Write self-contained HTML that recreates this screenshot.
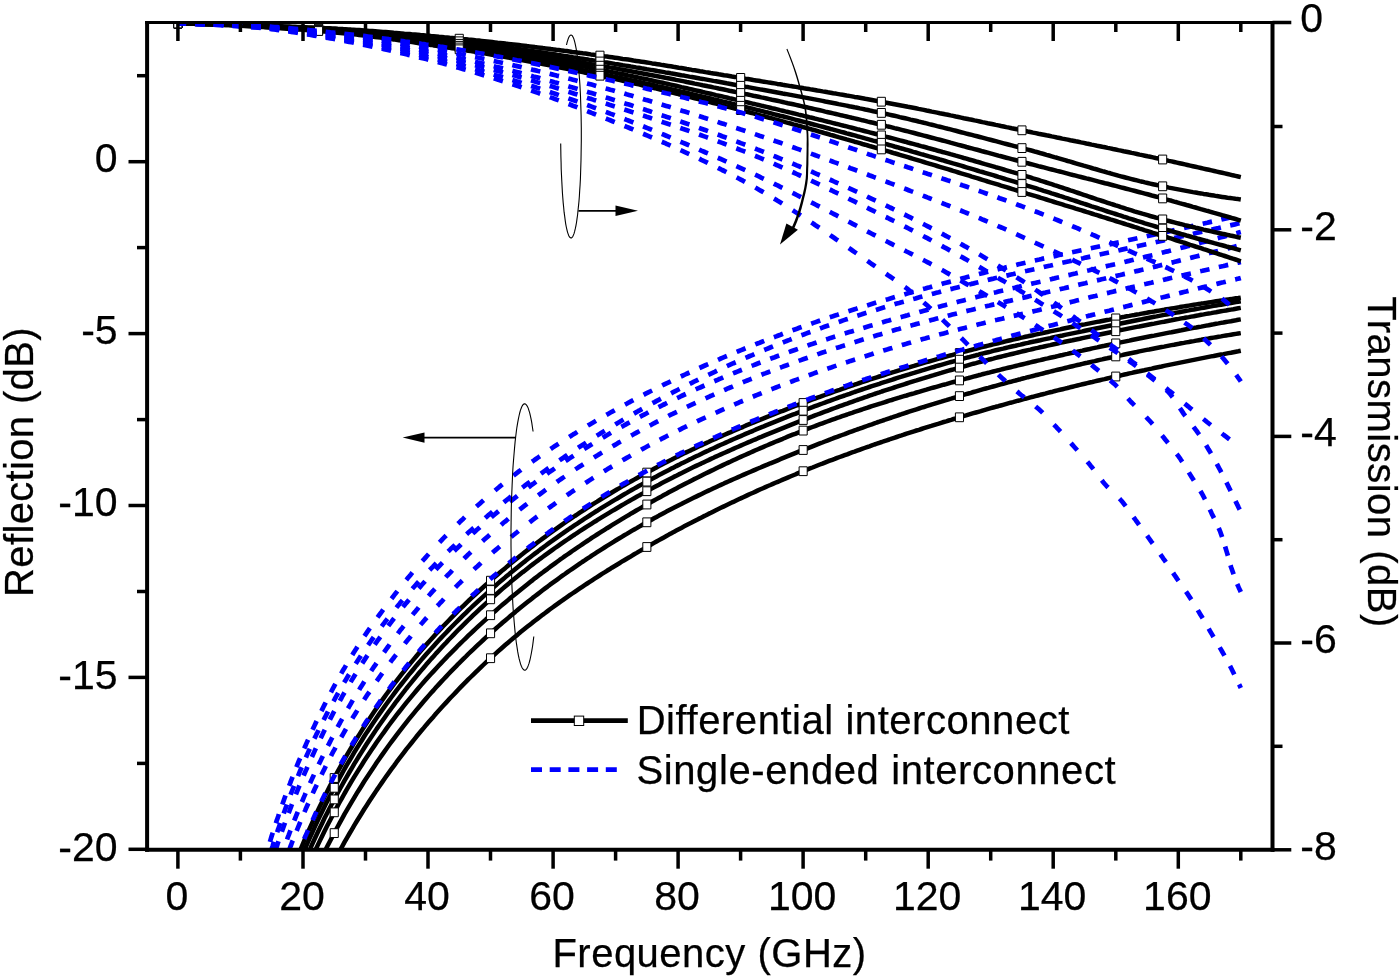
<!DOCTYPE html>
<html lang="en"><head><meta charset="utf-8"><title>Reflection and transmission of differential and single-ended interconnects</title>
<style>html,body{margin:0;padding:0;background:#fff}svg{display:block}</style></head>
<body>
<svg role="img" aria-label="Reflection and transmission versus frequency for differential and single-ended interconnects" width="1400" height="979" viewBox="0 0 1400 979">
<defs><clipPath id="c"><rect x="147.1" y="21.0" width="1125.4" height="828.8"/></clipPath></defs>
<rect width="1400" height="979" fill="#fff"/>
<g clip-path="url(#c)" fill="none" stroke-linejoin="round">
<g stroke="#000" stroke-width="4.5">
<path d="M252.9 995.3 L255.4 985.7 L257.9 976.3 L260.4 967.3 L262.8 958.5 L265.3 949.9 L267.8 941.6 L270.3 933.6 L272.7 925.7 L275.2 918.1 L277.7 910.6 L280.2 903.3 L282.6 896.2 L285.1 889.3 L287.6 882.6 L290.1 875.9 L292.5 869.5 L295.0 863.2 L297.5 857.0 L300.0 850.9 L302.4 845.0 L304.9 839.2 L307.4 833.4 L309.9 827.9 L312.4 822.4 L314.8 817.0 L317.3 811.7 L319.8 806.5 L322.3 801.4 L324.7 796.4 L327.2 791.5 L329.7 786.6 L332.2 781.9 L334.6 777.2 L337.1 772.6 L339.6 768.1 L342.1 763.6 L344.5 759.2 L347.0 754.9 L349.5 750.7 L352.0 746.5 L354.4 742.4 L356.9 738.3 L359.4 734.4 L361.9 730.4 L364.3 726.5 L366.8 722.7 L369.3 719.0 L371.8 715.3 L374.3 711.6 L376.7 708.0 L379.2 704.4 L381.7 700.9 L384.2 697.4 L386.6 694.0 L389.1 690.7 L391.6 687.3 L394.1 684.0 L396.5 680.8 L399.0 677.6 L401.5 674.4 L404.0 671.3 L406.4 668.2 L408.9 665.1 L411.4 662.1 L413.9 659.1 L416.3 656.2 L418.8 653.3 L421.3 650.4 L423.8 647.5 L426.2 644.7 L428.7 641.9 L431.2 639.2 L433.7 636.4 L436.1 633.7 L438.6 631.1 L441.1 628.4 L443.6 625.8 L446.1 623.2 L448.5 620.7 L451.0 618.1 L453.5 615.6 L456.0 613.1 L458.4 610.7 L460.9 608.2 L463.4 605.8 L465.9 603.4 L468.3 601.0 L470.8 598.7 L473.3 596.4 L475.8 594.1 L478.2 591.8 L480.7 589.5 L483.2 587.3 L485.7 585.0 L488.1 582.8 L490.6 580.6 L493.1 578.4 L495.6 576.3 L498.0 574.2 L500.5 572.0 L503.0 569.9 L505.5 567.9 L508.0 565.8 L510.4 563.7 L512.9 561.7 L515.4 559.7 L517.9 557.7 L520.3 555.7 L522.8 553.8 L525.3 551.8 L527.8 549.9 L530.2 548.0 L532.7 546.1 L535.2 544.2 L537.7 542.3 L540.1 540.5 L542.6 538.6 L545.1 536.8 L547.6 535.0 L550.0 533.2 L552.5 531.4 L555.0 529.7 L557.5 527.9 L559.9 526.2 L562.4 524.4 L564.9 522.7 L567.4 521.0 L569.8 519.3 L572.3 517.7 L574.8 516.0 L577.3 514.4 L579.8 512.7 L582.2 511.1 L584.7 509.5 L587.2 507.9 L589.7 506.3 L592.1 504.7 L594.6 503.1 L597.1 501.6 L599.6 500.0 L602.0 498.5 L604.5 497.0 L607.0 495.5 L609.5 494.0 L611.9 492.5 L614.4 491.0 L616.9 489.5 L619.4 488.1 L621.8 486.6 L624.3 485.2 L626.8 483.8 L629.3 482.4 L631.7 481.0 L634.2 479.6 L636.7 478.2 L639.2 476.8 L641.7 475.4 L644.1 474.1 L646.6 472.7 L649.1 471.4 L651.6 470.1 L654.0 468.7 L656.5 467.4 L659.0 466.1 L661.5 464.8 L663.9 463.6 L666.4 462.3 L668.9 461.0 L671.4 459.8 L673.8 458.5 L676.3 457.3 L678.8 456.1 L681.3 454.8 L683.7 453.6 L686.2 452.4 L688.7 451.2 L691.2 450.1 L693.6 448.9 L696.1 447.7 L698.6 446.5 L701.1 445.4 L703.5 444.2 L706.0 443.1 L708.5 442.0 L711.0 440.8 L713.5 439.7 L715.9 438.6 L718.4 437.5 L720.9 436.4 L723.4 435.3 L725.8 434.2 L728.3 433.1 L730.8 432.1 L733.3 431.0 L735.7 429.9 L738.2 428.9 L740.7 427.8 L743.2 426.8 L745.6 425.7 L748.1 424.7 L750.6 423.7 L753.1 422.7 L755.5 421.6 L758.0 420.6 L760.5 419.6 L763.0 418.6 L765.4 417.6 L767.9 416.6 L770.4 415.6 L772.9 414.7 L775.4 413.7 L777.8 412.7 L780.3 411.7 L782.8 410.8 L785.3 409.8 L787.7 408.9 L790.2 407.9 L792.7 407.0 L795.2 406.0 L797.6 405.1 L800.1 404.1 L802.6 403.2 L805.1 402.3 L807.5 401.4 L810.0 400.4 L812.5 399.5 L815.0 398.6 L817.4 397.7 L819.9 396.8 L822.4 395.9 L824.9 395.0 L827.3 394.1 L829.8 393.3 L832.3 392.4 L834.8 391.5 L837.2 390.6 L839.7 389.8 L842.2 388.9 L844.7 388.1 L847.2 387.2 L849.6 386.4 L852.1 385.5 L854.6 384.7 L857.1 383.8 L859.5 383.0 L862.0 382.2 L864.5 381.4 L867.0 380.6 L869.4 379.7 L871.9 378.9 L874.4 378.1 L876.9 377.3 L879.3 376.5 L881.8 375.8 L884.3 375.0 L886.8 374.2 L889.2 373.4 L891.7 372.6 L894.2 371.9 L896.7 371.1 L899.1 370.3 L901.6 369.6 L904.1 368.8 L906.6 368.1 L909.1 367.3 L911.5 366.6 L914.0 365.9 L916.5 365.1 L919.0 364.4 L921.4 363.7 L923.9 362.9 L926.4 362.2 L928.9 361.5 L931.3 360.8 L933.8 360.1 L936.3 359.4 L938.8 358.7 L941.2 358.0 L943.7 357.3 L946.2 356.6 L948.7 355.9 L951.1 355.3 L953.6 354.6 L956.1 353.9 L958.6 353.2 L961.0 352.6 L963.5 351.9 L966.0 351.3 L968.5 350.6 L970.9 350.0 L973.4 349.3 L975.9 348.7 L978.4 348.1 L980.9 347.4 L983.3 346.8 L985.8 346.2 L988.3 345.6 L990.8 345.0 L993.2 344.4 L995.7 343.8 L998.2 343.2 L1000.7 342.6 L1003.1 342.0 L1005.6 341.4 L1008.1 340.8 L1010.6 340.2 L1013.0 339.6 L1015.5 339.1 L1018.0 338.5 L1020.5 337.9 L1022.9 337.4 L1025.4 336.8 L1027.9 336.3 L1030.4 335.7 L1032.8 335.2 L1035.3 334.6 L1037.8 334.1 L1040.3 333.6 L1042.8 333.0 L1045.2 332.5 L1047.7 332.0 L1050.2 331.4 L1052.7 330.9 L1055.1 330.4 L1057.6 329.9 L1060.1 329.4 L1062.6 328.8 L1065.0 328.3 L1067.5 327.8 L1070.0 327.3 L1072.5 326.8 L1074.9 326.3 L1077.4 325.8 L1079.9 325.3 L1082.4 324.8 L1084.8 324.4 L1087.3 323.9 L1089.8 323.4 L1092.3 322.9 L1094.7 322.4 L1097.2 321.9 L1099.7 321.5 L1102.2 321.0 L1104.6 320.5 L1107.1 320.0 L1109.6 319.6 L1112.1 319.1 L1114.6 318.6 L1117.0 318.2 L1119.5 317.7 L1122.0 317.2 L1124.5 316.8 L1126.9 316.3 L1129.4 315.9 L1131.9 315.4 L1134.4 315.0 L1136.8 314.5 L1139.3 314.1 L1141.8 313.6 L1144.3 313.2 L1146.7 312.8 L1149.2 312.3 L1151.7 311.9 L1154.2 311.5 L1156.6 311.0 L1159.1 310.6 L1161.6 310.2 L1164.1 309.8 L1166.5 309.3 L1169.0 308.9 L1171.5 308.5 L1174.0 308.1 L1176.5 307.7 L1178.9 307.3 L1181.4 306.8 L1183.9 306.4 L1186.4 306.0 L1188.8 305.6 L1191.3 305.2 L1193.8 304.8 L1196.3 304.4 L1198.7 304.0 L1201.2 303.6 L1203.7 303.3 L1206.2 302.9 L1208.6 302.5 L1211.1 302.1 L1213.6 301.7 L1216.1 301.3 L1218.5 300.9 L1221.0 300.6 L1223.5 300.2 L1226.0 299.8 L1228.4 299.4 L1230.9 299.1 L1233.4 298.7 L1235.9 298.3 L1238.3 298.0 L1240.8 297.6"/>
<path d="M252.9 1005.3 L255.4 995.6 L257.9 986.2 L260.4 977.2 L262.8 968.4 L265.3 959.8 L267.8 951.5 L270.3 943.5 L272.7 935.6 L275.2 928.0 L277.7 920.5 L280.2 913.2 L282.6 906.1 L285.1 899.2 L287.6 892.4 L290.1 885.8 L292.5 879.4 L295.0 873.0 L297.5 866.8 L300.0 860.8 L302.4 854.8 L304.9 849.0 L307.4 843.3 L309.9 837.7 L312.4 832.2 L314.8 826.8 L317.3 821.5 L319.8 816.3 L322.3 811.2 L324.7 806.2 L327.2 801.3 L329.7 796.5 L332.2 791.7 L334.6 787.0 L337.1 782.4 L339.6 777.9 L342.1 773.4 L344.5 769.0 L347.0 764.7 L349.5 760.5 L352.0 756.3 L354.4 752.2 L356.9 748.1 L359.4 744.1 L361.9 740.2 L364.3 736.3 L366.8 732.4 L369.3 728.7 L371.8 725.0 L374.3 721.3 L376.7 717.7 L379.2 714.1 L381.7 710.6 L384.2 707.1 L386.6 703.7 L389.1 700.3 L391.6 697.0 L394.1 693.7 L396.5 690.4 L399.0 687.2 L401.5 684.0 L404.0 680.9 L406.4 677.8 L408.9 674.7 L411.4 671.7 L413.9 668.7 L416.3 665.7 L418.8 662.8 L421.3 659.9 L423.8 657.0 L426.2 654.2 L428.7 651.4 L431.2 648.7 L433.7 645.9 L436.1 643.2 L438.6 640.5 L441.1 637.9 L443.6 635.3 L446.1 632.7 L448.5 630.1 L451.0 627.5 L453.5 625.0 L456.0 622.5 L458.4 620.1 L460.9 617.6 L463.4 615.2 L465.9 612.8 L468.3 610.4 L470.8 608.0 L473.3 605.7 L475.8 603.4 L478.2 601.1 L480.7 598.8 L483.2 596.6 L485.7 594.3 L488.1 592.1 L490.6 589.9 L493.1 587.7 L495.6 585.6 L498.0 583.4 L500.5 581.3 L503.0 579.2 L505.5 577.1 L508.0 575.1 L510.4 573.0 L512.9 571.0 L515.4 569.0 L517.9 567.0 L520.3 565.0 L522.8 563.0 L525.3 561.1 L527.8 559.1 L530.2 557.2 L532.7 555.3 L535.2 553.4 L537.7 551.6 L540.1 549.7 L542.6 547.9 L545.1 546.0 L547.6 544.2 L550.0 542.4 L552.5 540.7 L555.0 538.9 L557.5 537.1 L559.9 535.4 L562.4 533.7 L564.9 531.9 L567.4 530.2 L569.8 528.5 L572.3 526.9 L574.8 525.2 L577.3 523.6 L579.8 521.9 L582.2 520.3 L584.7 518.7 L587.2 517.1 L589.7 515.5 L592.1 513.9 L594.6 512.3 L597.1 510.8 L599.6 509.2 L602.0 507.7 L604.5 506.1 L607.0 504.6 L609.5 503.1 L611.9 501.6 L614.4 500.1 L616.9 498.7 L619.4 497.2 L621.8 495.8 L624.3 494.3 L626.8 492.9 L629.3 491.4 L631.7 490.0 L634.2 488.6 L636.7 487.2 L639.2 485.8 L641.7 484.5 L644.1 483.1 L646.6 481.7 L649.1 480.4 L651.6 479.0 L654.0 477.7 L656.5 476.4 L659.0 475.1 L661.5 473.8 L663.9 472.5 L666.4 471.2 L668.9 469.9 L671.4 468.6 L673.8 467.4 L676.3 466.1 L678.8 464.9 L681.3 463.6 L683.7 462.4 L686.2 461.2 L688.7 459.9 L691.2 458.7 L693.6 457.5 L696.1 456.3 L698.6 455.2 L701.1 454.0 L703.5 452.8 L706.0 451.6 L708.5 450.5 L711.0 449.3 L713.5 448.2 L715.9 447.1 L718.4 445.9 L720.9 444.8 L723.4 443.7 L725.8 442.6 L728.3 441.5 L730.8 440.4 L733.3 439.3 L735.7 438.2 L738.2 437.1 L740.7 436.1 L743.2 435.0 L745.6 433.9 L748.1 432.9 L750.6 431.8 L753.1 430.8 L755.5 429.7 L758.0 428.7 L760.5 427.7 L763.0 426.7 L765.4 425.6 L767.9 424.6 L770.4 423.6 L772.9 422.6 L775.4 421.6 L777.8 420.6 L780.3 419.6 L782.8 418.6 L785.3 417.7 L787.7 416.7 L790.2 415.7 L792.7 414.7 L795.2 413.8 L797.6 412.8 L800.1 411.9 L802.6 410.9 L805.1 410.0 L807.5 409.0 L810.0 408.1 L812.5 407.2 L815.0 406.2 L817.4 405.3 L819.9 404.4 L822.4 403.5 L824.9 402.6 L827.3 401.7 L829.8 400.8 L832.3 399.9 L834.8 399.0 L837.2 398.1 L839.7 397.2 L842.2 396.3 L844.7 395.5 L847.2 394.6 L849.6 393.8 L852.1 392.9 L854.6 392.0 L857.1 391.2 L859.5 390.3 L862.0 389.5 L864.5 388.7 L867.0 387.8 L869.4 387.0 L871.9 386.2 L874.4 385.4 L876.9 384.6 L879.3 383.8 L881.8 382.9 L884.3 382.1 L886.8 381.4 L889.2 380.6 L891.7 379.8 L894.2 379.0 L896.7 378.2 L899.1 377.4 L901.6 376.7 L904.1 375.9 L906.6 375.1 L909.1 374.4 L911.5 373.6 L914.0 372.9 L916.5 372.1 L919.0 371.4 L921.4 370.6 L923.9 369.9 L926.4 369.1 L928.9 368.4 L931.3 367.7 L933.8 367.0 L936.3 366.2 L938.8 365.5 L941.2 364.8 L943.7 364.1 L946.2 363.4 L948.7 362.7 L951.1 362.0 L953.6 361.3 L956.1 360.6 L958.6 359.9 L961.0 359.3 L963.5 358.6 L966.0 357.9 L968.5 357.3 L970.9 356.6 L973.4 356.0 L975.9 355.3 L978.4 354.7 L980.9 354.0 L983.3 353.4 L985.8 352.8 L988.3 352.2 L990.8 351.6 L993.2 350.9 L995.7 350.3 L998.2 349.7 L1000.7 349.1 L1003.1 348.6 L1005.6 348.0 L1008.1 347.4 L1010.6 346.8 L1013.0 346.2 L1015.5 345.7 L1018.0 345.1 L1020.5 344.6 L1022.9 344.0 L1025.4 343.4 L1027.9 342.9 L1030.4 342.3 L1032.8 341.8 L1035.3 341.3 L1037.8 340.7 L1040.3 340.2 L1042.8 339.6 L1045.2 339.1 L1047.7 338.6 L1050.2 338.1 L1052.7 337.5 L1055.1 337.0 L1057.6 336.5 L1060.1 336.0 L1062.6 335.5 L1065.0 334.9 L1067.5 334.4 L1070.0 333.9 L1072.5 333.4 L1074.9 332.9 L1077.4 332.4 L1079.9 331.9 L1082.4 331.4 L1084.8 330.8 L1087.3 330.3 L1089.8 329.8 L1092.3 329.3 L1094.7 328.8 L1097.2 328.3 L1099.7 327.8 L1102.2 327.3 L1104.6 326.8 L1107.1 326.3 L1109.6 325.8 L1112.1 325.3 L1114.6 324.8 L1117.0 324.2 L1119.5 323.7 L1122.0 323.2 L1124.5 322.7 L1126.9 322.2 L1129.4 321.7 L1131.9 321.2 L1134.4 320.7 L1136.8 320.2 L1139.3 319.7 L1141.8 319.3 L1144.3 318.8 L1146.7 318.3 L1149.2 317.8 L1151.7 317.3 L1154.2 316.8 L1156.6 316.4 L1159.1 315.9 L1161.6 315.4 L1164.1 314.9 L1166.5 314.5 L1169.0 314.0 L1171.5 313.5 L1174.0 313.1 L1176.5 312.6 L1178.9 312.2 L1181.4 311.7 L1183.9 311.3 L1186.4 310.8 L1188.8 310.4 L1191.3 309.9 L1193.8 309.5 L1196.3 309.0 L1198.7 308.6 L1201.2 308.1 L1203.7 307.7 L1206.2 307.2 L1208.6 306.8 L1211.1 306.4 L1213.6 305.9 L1216.1 305.5 L1218.5 305.1 L1221.0 304.7 L1223.5 304.2 L1226.0 303.8 L1228.4 303.4 L1230.9 303.0 L1233.4 302.5 L1235.9 302.1 L1238.3 301.7 L1240.8 301.3"/>
<path d="M252.9 1017.0 L255.4 1007.3 L257.9 998.0 L260.4 988.9 L262.8 980.1 L265.3 971.5 L267.8 963.2 L270.3 955.2 L272.7 947.3 L275.2 939.6 L277.7 932.2 L280.2 924.9 L282.6 917.8 L285.1 910.9 L287.6 904.1 L290.1 897.5 L292.5 891.0 L295.0 884.7 L297.5 878.5 L300.0 872.4 L302.4 866.5 L304.9 860.7 L307.4 854.9 L309.9 849.3 L312.4 843.8 L314.8 838.5 L317.3 833.2 L319.8 828.0 L322.3 822.9 L324.7 817.8 L327.2 812.9 L329.7 808.1 L332.2 803.3 L334.6 798.6 L337.1 794.0 L339.6 789.5 L342.1 785.0 L344.5 780.6 L347.0 776.3 L349.5 772.0 L352.0 767.8 L354.4 763.6 L356.9 759.6 L359.4 755.5 L361.9 751.6 L364.3 747.7 L366.8 743.8 L369.3 740.0 L371.8 736.3 L374.3 732.6 L376.7 728.9 L379.2 725.3 L381.7 721.7 L384.2 718.2 L386.6 714.8 L389.1 711.3 L391.6 708.0 L394.1 704.6 L396.5 701.3 L399.0 698.1 L401.5 694.8 L404.0 691.7 L406.4 688.5 L408.9 685.4 L411.4 682.3 L413.9 679.3 L416.3 676.3 L418.8 673.3 L421.3 670.4 L423.8 667.5 L426.2 664.6 L428.7 661.8 L431.2 658.9 L433.7 656.2 L436.1 653.4 L438.6 650.7 L441.1 648.0 L443.6 645.3 L446.1 642.7 L448.5 640.0 L451.0 637.5 L453.5 634.9 L456.0 632.3 L458.4 629.8 L460.9 627.3 L463.4 624.9 L465.9 622.4 L468.3 620.0 L470.8 617.6 L473.3 615.2 L475.8 612.9 L478.2 610.6 L480.7 608.2 L483.2 606.0 L485.7 603.7 L488.1 601.4 L490.6 599.2 L493.1 597.0 L495.6 594.8 L498.0 592.7 L500.5 590.5 L503.0 588.4 L505.5 586.3 L508.0 584.2 L510.4 582.1 L512.9 580.1 L515.4 578.1 L517.9 576.1 L520.3 574.1 L522.8 572.1 L525.3 570.2 L527.8 568.2 L530.2 566.3 L532.7 564.4 L535.2 562.5 L537.7 560.7 L540.1 558.8 L542.6 557.0 L545.1 555.2 L547.6 553.4 L550.0 551.6 L552.5 549.8 L555.0 548.0 L557.5 546.3 L559.9 544.6 L562.4 542.9 L564.9 541.2 L567.4 539.5 L569.8 537.8 L572.3 536.1 L574.8 534.5 L577.3 532.8 L579.8 531.2 L582.2 529.6 L584.7 528.0 L587.2 526.4 L589.7 524.8 L592.1 523.3 L594.6 521.7 L597.1 520.2 L599.6 518.6 L602.0 517.1 L604.5 515.6 L607.0 514.1 L609.5 512.6 L611.9 511.1 L614.4 509.7 L616.9 508.2 L619.4 506.7 L621.8 505.3 L624.3 503.9 L626.8 502.4 L629.3 501.0 L631.7 499.6 L634.2 498.2 L636.7 496.8 L639.2 495.4 L641.7 494.1 L644.1 492.7 L646.6 491.3 L649.1 490.0 L651.6 488.6 L654.0 487.3 L656.5 486.0 L659.0 484.7 L661.5 483.3 L663.9 482.1 L666.4 480.8 L668.9 479.5 L671.4 478.2 L673.8 476.9 L676.3 475.7 L678.8 474.4 L681.3 473.2 L683.7 472.0 L686.2 470.7 L688.7 469.5 L691.2 468.3 L693.6 467.1 L696.1 465.9 L698.6 464.7 L701.1 463.6 L703.5 462.4 L706.0 461.2 L708.5 460.1 L711.0 458.9 L713.5 457.8 L715.9 456.6 L718.4 455.5 L720.9 454.4 L723.4 453.3 L725.8 452.2 L728.3 451.1 L730.8 450.0 L733.3 448.9 L735.7 447.8 L738.2 446.7 L740.7 445.6 L743.2 444.5 L745.6 443.5 L748.1 442.4 L750.6 441.4 L753.1 440.3 L755.5 439.3 L758.0 438.2 L760.5 437.2 L763.0 436.1 L765.4 435.1 L767.9 434.1 L770.4 433.1 L772.9 432.1 L775.4 431.1 L777.8 430.1 L780.3 429.1 L782.8 428.1 L785.3 427.1 L787.7 426.1 L790.2 425.1 L792.7 424.1 L795.2 423.1 L797.6 422.2 L800.1 421.2 L802.6 420.2 L805.1 419.3 L807.5 418.3 L810.0 417.3 L812.5 416.4 L815.0 415.4 L817.4 414.5 L819.9 413.6 L822.4 412.6 L824.9 411.7 L827.3 410.8 L829.8 409.9 L832.3 408.9 L834.8 408.0 L837.2 407.1 L839.7 406.2 L842.2 405.3 L844.7 404.4 L847.2 403.6 L849.6 402.7 L852.1 401.8 L854.6 400.9 L857.1 400.0 L859.5 399.2 L862.0 398.3 L864.5 397.4 L867.0 396.6 L869.4 395.7 L871.9 394.9 L874.4 394.0 L876.9 393.2 L879.3 392.4 L881.8 391.5 L884.3 390.7 L886.8 389.9 L889.2 389.1 L891.7 388.3 L894.2 387.5 L896.7 386.7 L899.1 385.9 L901.6 385.1 L904.1 384.3 L906.6 383.5 L909.1 382.7 L911.5 381.9 L914.0 381.1 L916.5 380.4 L919.0 379.6 L921.4 378.8 L923.9 378.1 L926.4 377.3 L928.9 376.6 L931.3 375.8 L933.8 375.1 L936.3 374.3 L938.8 373.6 L941.2 372.9 L943.7 372.1 L946.2 371.4 L948.7 370.7 L951.1 370.0 L953.6 369.3 L956.1 368.6 L958.6 367.9 L961.0 367.2 L963.5 366.5 L966.0 365.8 L968.5 365.1 L970.9 364.4 L973.4 363.7 L975.9 363.1 L978.4 362.4 L980.9 361.8 L983.3 361.1 L985.8 360.5 L988.3 359.8 L990.8 359.2 L993.2 358.6 L995.7 357.9 L998.2 357.3 L1000.7 356.7 L1003.1 356.1 L1005.6 355.5 L1008.1 354.9 L1010.6 354.3 L1013.0 353.7 L1015.5 353.1 L1018.0 352.5 L1020.5 351.9 L1022.9 351.3 L1025.4 350.7 L1027.9 350.1 L1030.4 349.6 L1032.8 349.0 L1035.3 348.4 L1037.8 347.9 L1040.3 347.3 L1042.8 346.8 L1045.2 346.2 L1047.7 345.6 L1050.2 345.1 L1052.7 344.5 L1055.1 344.0 L1057.6 343.5 L1060.1 342.9 L1062.6 342.4 L1065.0 341.8 L1067.5 341.3 L1070.0 340.8 L1072.5 340.3 L1074.9 339.7 L1077.4 339.2 L1079.9 338.7 L1082.4 338.1 L1084.8 337.6 L1087.3 337.1 L1089.8 336.6 L1092.3 336.1 L1094.7 335.6 L1097.2 335.0 L1099.7 334.5 L1102.2 334.0 L1104.6 333.5 L1107.1 333.0 L1109.6 332.5 L1112.1 332.0 L1114.6 331.5 L1117.0 330.9 L1119.5 330.4 L1122.0 329.9 L1124.5 329.4 L1126.9 328.9 L1129.4 328.4 L1131.9 327.9 L1134.4 327.4 L1136.8 326.9 L1139.3 326.5 L1141.8 326.0 L1144.3 325.5 L1146.7 325.0 L1149.2 324.5 L1151.7 324.0 L1154.2 323.6 L1156.6 323.1 L1159.1 322.6 L1161.6 322.1 L1164.1 321.7 L1166.5 321.2 L1169.0 320.7 L1171.5 320.3 L1174.0 319.8 L1176.5 319.3 L1178.9 318.9 L1181.4 318.4 L1183.9 318.0 L1186.4 317.5 L1188.8 317.1 L1191.3 316.6 L1193.8 316.2 L1196.3 315.7 L1198.7 315.3 L1201.2 314.8 L1203.7 314.4 L1206.2 313.9 L1208.6 313.5 L1211.1 313.1 L1213.6 312.6 L1216.1 312.2 L1218.5 311.7 L1221.0 311.3 L1223.5 310.9 L1226.0 310.5 L1228.4 310.0 L1230.9 309.6 L1233.4 309.2 L1235.9 308.7 L1238.3 308.3 L1240.8 307.9"/>
<path d="M252.9 1030.0 L255.4 1020.4 L257.9 1011.0 L260.4 1001.9 L262.8 993.1 L265.3 984.6 L267.8 976.3 L270.3 968.2 L272.7 960.3 L275.2 952.7 L277.7 945.2 L280.2 937.9 L282.6 930.8 L285.1 923.9 L287.6 917.1 L290.1 910.5 L292.5 904.0 L295.0 897.7 L297.5 891.5 L300.0 885.4 L302.4 879.5 L304.9 873.6 L307.4 867.9 L309.9 862.3 L312.4 856.8 L314.8 851.4 L317.3 846.1 L319.8 840.9 L322.3 835.8 L324.7 830.8 L327.2 825.8 L329.7 821.0 L332.2 816.2 L334.6 811.5 L337.1 806.9 L339.6 802.3 L342.1 797.9 L344.5 793.5 L347.0 789.2 L349.5 784.9 L352.0 780.7 L354.4 776.6 L356.9 772.6 L359.4 768.6 L361.9 764.7 L364.3 760.8 L366.8 757.0 L369.3 753.2 L371.8 749.5 L374.3 745.9 L376.7 742.3 L379.2 738.7 L381.7 735.2 L384.2 731.8 L386.6 728.4 L389.1 725.0 L391.6 721.7 L394.1 718.4 L396.5 715.2 L399.0 712.0 L401.5 708.8 L404.0 705.7 L406.4 702.6 L408.9 699.6 L411.4 696.6 L413.9 693.6 L416.3 690.7 L418.8 687.8 L421.3 684.9 L423.8 682.1 L426.2 679.3 L428.7 676.5 L431.2 673.8 L433.7 671.1 L436.1 668.4 L438.6 665.7 L441.1 663.1 L443.6 660.5 L446.1 657.9 L448.5 655.3 L451.0 652.8 L453.5 650.3 L456.0 647.8 L458.4 645.3 L460.9 642.9 L463.4 640.5 L465.9 638.1 L468.3 635.7 L470.8 633.3 L473.3 631.0 L475.8 628.7 L478.2 626.4 L480.7 624.1 L483.2 621.8 L485.7 619.6 L488.1 617.3 L490.6 615.1 L493.1 612.9 L495.6 610.7 L498.0 608.6 L500.5 606.4 L503.0 604.3 L505.5 602.2 L508.0 600.1 L510.4 598.0 L512.9 595.9 L515.4 593.9 L517.9 591.9 L520.3 589.9 L522.8 587.9 L525.3 585.9 L527.8 583.9 L530.2 582.0 L532.7 580.1 L535.2 578.1 L537.7 576.2 L540.1 574.3 L542.6 572.5 L545.1 570.6 L547.6 568.8 L550.0 566.9 L552.5 565.1 L555.0 563.3 L557.5 561.5 L559.9 559.7 L562.4 558.0 L564.9 556.2 L567.4 554.5 L569.8 552.8 L572.3 551.0 L574.8 549.3 L577.3 547.7 L579.8 546.0 L582.2 544.3 L584.7 542.6 L587.2 541.0 L589.7 539.4 L592.1 537.7 L594.6 536.1 L597.1 534.5 L599.6 532.9 L602.0 531.4 L604.5 529.8 L607.0 528.2 L609.5 526.7 L611.9 525.2 L614.4 523.6 L616.9 522.1 L619.4 520.6 L621.8 519.1 L624.3 517.6 L626.8 516.1 L629.3 514.7 L631.7 513.2 L634.2 511.8 L636.7 510.3 L639.2 508.9 L641.7 507.5 L644.1 506.0 L646.6 504.6 L649.1 503.2 L651.6 501.8 L654.0 500.5 L656.5 499.1 L659.0 497.7 L661.5 496.4 L663.9 495.0 L666.4 493.7 L668.9 492.3 L671.4 491.0 L673.8 489.7 L676.3 488.4 L678.8 487.1 L681.3 485.8 L683.7 484.5 L686.2 483.2 L688.7 482.0 L691.2 480.7 L693.6 479.4 L696.1 478.2 L698.6 477.0 L701.1 475.7 L703.5 474.5 L706.0 473.3 L708.5 472.1 L711.0 470.9 L713.5 469.7 L715.9 468.5 L718.4 467.3 L720.9 466.1 L723.4 464.9 L725.8 463.8 L728.3 462.6 L730.8 461.5 L733.3 460.3 L735.7 459.2 L738.2 458.0 L740.7 456.9 L743.2 455.8 L745.6 454.7 L748.1 453.6 L750.6 452.5 L753.1 451.4 L755.5 450.3 L758.0 449.2 L760.5 448.1 L763.0 447.1 L765.4 446.0 L767.9 445.0 L770.4 443.9 L772.9 442.9 L775.4 441.8 L777.8 440.8 L780.3 439.8 L782.8 438.8 L785.3 437.7 L787.7 436.7 L790.2 435.7 L792.7 434.7 L795.2 433.8 L797.6 432.8 L800.1 431.8 L802.6 430.8 L805.1 429.9 L807.5 428.9 L810.0 427.9 L812.5 427.0 L815.0 426.1 L817.4 425.1 L819.9 424.2 L822.4 423.3 L824.9 422.4 L827.3 421.5 L829.8 420.6 L832.3 419.7 L834.8 418.8 L837.2 417.9 L839.7 417.1 L842.2 416.2 L844.7 415.3 L847.2 414.5 L849.6 413.6 L852.1 412.8 L854.6 411.9 L857.1 411.1 L859.5 410.3 L862.0 409.5 L864.5 408.6 L867.0 407.8 L869.4 407.0 L871.9 406.2 L874.4 405.4 L876.9 404.6 L879.3 403.8 L881.8 403.1 L884.3 402.3 L886.8 401.5 L889.2 400.7 L891.7 400.0 L894.2 399.2 L896.7 398.4 L899.1 397.7 L901.6 396.9 L904.1 396.2 L906.6 395.5 L909.1 394.7 L911.5 394.0 L914.0 393.3 L916.5 392.5 L919.0 391.8 L921.4 391.1 L923.9 390.4 L926.4 389.7 L928.9 388.9 L931.3 388.2 L933.8 387.5 L936.3 386.8 L938.8 386.1 L941.2 385.4 L943.7 384.7 L946.2 384.1 L948.7 383.4 L951.1 382.7 L953.6 382.0 L956.1 381.3 L958.6 380.6 L961.0 380.0 L963.5 379.3 L966.0 378.6 L968.5 378.0 L970.9 377.3 L973.4 376.6 L975.9 376.0 L978.4 375.3 L980.9 374.7 L983.3 374.0 L985.8 373.4 L988.3 372.8 L990.8 372.1 L993.2 371.5 L995.7 370.9 L998.2 370.3 L1000.7 369.6 L1003.1 369.0 L1005.6 368.4 L1008.1 367.8 L1010.6 367.2 L1013.0 366.6 L1015.5 366.0 L1018.0 365.4 L1020.5 364.8 L1022.9 364.2 L1025.4 363.6 L1027.9 363.0 L1030.4 362.4 L1032.8 361.8 L1035.3 361.2 L1037.8 360.6 L1040.3 360.1 L1042.8 359.5 L1045.2 358.9 L1047.7 358.4 L1050.2 357.8 L1052.7 357.2 L1055.1 356.7 L1057.6 356.1 L1060.1 355.5 L1062.6 355.0 L1065.0 354.4 L1067.5 353.9 L1070.0 353.3 L1072.5 352.8 L1074.9 352.2 L1077.4 351.7 L1079.9 351.1 L1082.4 350.6 L1084.8 350.0 L1087.3 349.5 L1089.8 349.0 L1092.3 348.4 L1094.7 347.9 L1097.2 347.4 L1099.7 346.8 L1102.2 346.3 L1104.6 345.8 L1107.1 345.2 L1109.6 344.7 L1112.1 344.2 L1114.6 343.7 L1117.0 343.1 L1119.5 342.6 L1122.0 342.1 L1124.5 341.6 L1126.9 341.1 L1129.4 340.6 L1131.9 340.0 L1134.4 339.5 L1136.8 339.0 L1139.3 338.5 L1141.8 338.0 L1144.3 337.5 L1146.7 337.0 L1149.2 336.5 L1151.7 336.0 L1154.2 335.6 L1156.6 335.1 L1159.1 334.6 L1161.6 334.1 L1164.1 333.6 L1166.5 333.1 L1169.0 332.6 L1171.5 332.2 L1174.0 331.7 L1176.5 331.2 L1178.9 330.7 L1181.4 330.3 L1183.9 329.8 L1186.4 329.3 L1188.8 328.9 L1191.3 328.4 L1193.8 327.9 L1196.3 327.5 L1198.7 327.0 L1201.2 326.6 L1203.7 326.1 L1206.2 325.6 L1208.6 325.2 L1211.1 324.7 L1213.6 324.3 L1216.1 323.8 L1218.5 323.4 L1221.0 322.9 L1223.5 322.5 L1226.0 322.0 L1228.4 321.6 L1230.9 321.2 L1233.4 320.7 L1235.9 320.3 L1238.3 319.8 L1240.8 319.4"/>
<path d="M252.9 1051.0 L255.4 1041.3 L257.9 1032.0 L260.4 1022.9 L262.8 1014.1 L265.3 1005.5 L267.8 997.2 L270.3 989.1 L272.7 981.3 L275.2 973.6 L277.7 966.1 L280.2 958.9 L282.6 951.8 L285.1 944.8 L287.6 938.0 L290.1 931.4 L292.5 924.9 L295.0 918.6 L297.5 912.4 L300.0 906.3 L302.4 900.3 L304.9 894.5 L307.4 888.8 L309.9 883.2 L312.4 877.7 L314.8 872.3 L317.3 867.0 L319.8 861.7 L322.3 856.6 L324.7 851.6 L327.2 846.6 L329.7 841.8 L332.2 837.0 L334.6 832.3 L337.1 827.7 L339.6 823.1 L342.1 818.6 L344.5 814.2 L347.0 809.9 L349.5 805.6 L352.0 801.4 L354.4 797.3 L356.9 793.2 L359.4 789.2 L361.9 785.2 L364.3 781.3 L366.8 777.5 L369.3 773.7 L371.8 769.9 L374.3 766.2 L376.7 762.6 L379.2 759.0 L381.7 755.4 L384.2 751.9 L386.6 748.5 L389.1 745.0 L391.6 741.7 L394.1 738.3 L396.5 735.1 L399.0 731.8 L401.5 728.6 L404.0 725.4 L406.4 722.3 L408.9 719.2 L411.4 716.1 L413.9 713.1 L416.3 710.1 L418.8 707.2 L421.3 704.2 L423.8 701.3 L426.2 698.5 L428.7 695.6 L431.2 692.8 L433.7 690.1 L436.1 687.3 L438.6 684.6 L441.1 681.9 L443.6 679.3 L446.1 676.6 L448.5 674.0 L451.0 671.4 L453.5 668.9 L456.0 666.4 L458.4 663.8 L460.9 661.4 L463.4 658.9 L465.9 656.5 L468.3 654.0 L470.8 651.6 L473.3 649.3 L475.8 646.9 L478.2 644.6 L480.7 642.3 L483.2 640.0 L485.7 637.7 L488.1 635.5 L490.6 633.2 L493.1 631.0 L495.6 628.8 L498.0 626.6 L500.5 624.5 L503.0 622.3 L505.5 620.2 L508.0 618.1 L510.4 616.0 L512.9 613.9 L515.4 611.9 L517.9 609.8 L520.3 607.8 L522.8 605.8 L525.3 603.8 L527.8 601.8 L530.2 599.9 L532.7 597.9 L535.2 596.0 L537.7 594.1 L540.1 592.2 L542.6 590.3 L545.1 588.4 L547.6 586.6 L550.0 584.7 L552.5 582.9 L555.0 581.1 L557.5 579.3 L559.9 577.5 L562.4 575.7 L564.9 574.0 L567.4 572.2 L569.8 570.5 L572.3 568.8 L574.8 567.1 L577.3 565.4 L579.8 563.7 L582.2 562.0 L584.7 560.4 L587.2 558.7 L589.7 557.1 L592.1 555.4 L594.6 553.8 L597.1 552.2 L599.6 550.6 L602.0 549.1 L604.5 547.5 L607.0 545.9 L609.5 544.4 L611.9 542.9 L614.4 541.3 L616.9 539.8 L619.4 538.3 L621.8 536.8 L624.3 535.3 L626.8 533.9 L629.3 532.4 L631.7 530.9 L634.2 529.5 L636.7 528.1 L639.2 526.6 L641.7 525.2 L644.1 523.8 L646.6 522.4 L649.1 521.0 L651.6 519.7 L654.0 518.3 L656.5 517.0 L659.0 515.6 L661.5 514.3 L663.9 513.0 L666.4 511.6 L668.9 510.3 L671.4 509.0 L673.8 507.8 L676.3 506.5 L678.8 505.2 L681.3 504.0 L683.7 502.7 L686.2 501.5 L688.7 500.2 L691.2 499.0 L693.6 497.8 L696.1 496.6 L698.6 495.4 L701.1 494.2 L703.5 493.0 L706.0 491.8 L708.5 490.6 L711.0 489.5 L713.5 488.3 L715.9 487.2 L718.4 486.0 L720.9 484.9 L723.4 483.8 L725.8 482.6 L728.3 481.5 L730.8 480.4 L733.3 479.3 L735.7 478.2 L738.2 477.1 L740.7 476.0 L743.2 474.9 L745.6 473.9 L748.1 472.8 L750.6 471.7 L753.1 470.6 L755.5 469.6 L758.0 468.5 L760.5 467.5 L763.0 466.4 L765.4 465.4 L767.9 464.4 L770.4 463.3 L772.9 462.3 L775.4 461.3 L777.8 460.3 L780.3 459.2 L782.8 458.2 L785.3 457.2 L787.7 456.2 L790.2 455.2 L792.7 454.2 L795.2 453.2 L797.6 452.2 L800.1 451.2 L802.6 450.2 L805.1 449.2 L807.5 448.3 L810.0 447.3 L812.5 446.3 L815.0 445.3 L817.4 444.4 L819.9 443.4 L822.4 442.5 L824.9 441.5 L827.3 440.6 L829.8 439.6 L832.3 438.7 L834.8 437.7 L837.2 436.8 L839.7 435.9 L842.2 435.0 L844.7 434.1 L847.2 433.1 L849.6 432.2 L852.1 431.3 L854.6 430.4 L857.1 429.5 L859.5 428.7 L862.0 427.8 L864.5 426.9 L867.0 426.0 L869.4 425.1 L871.9 424.3 L874.4 423.4 L876.9 422.5 L879.3 421.7 L881.8 420.8 L884.3 420.0 L886.8 419.1 L889.2 418.3 L891.7 417.5 L894.2 416.6 L896.7 415.8 L899.1 415.0 L901.6 414.2 L904.1 413.3 L906.6 412.5 L909.1 411.7 L911.5 410.9 L914.0 410.1 L916.5 409.3 L919.0 408.5 L921.4 407.7 L923.9 407.0 L926.4 406.2 L928.9 405.4 L931.3 404.6 L933.8 403.9 L936.3 403.1 L938.8 402.3 L941.2 401.6 L943.7 400.8 L946.2 400.1 L948.7 399.3 L951.1 398.6 L953.6 397.8 L956.1 397.1 L958.6 396.4 L961.0 395.6 L963.5 394.9 L966.0 394.2 L968.5 393.5 L970.9 392.8 L973.4 392.0 L975.9 391.3 L978.4 390.6 L980.9 389.9 L983.3 389.2 L985.8 388.5 L988.3 387.9 L990.8 387.2 L993.2 386.5 L995.7 385.8 L998.2 385.1 L1000.7 384.4 L1003.1 383.8 L1005.6 383.1 L1008.1 382.4 L1010.6 381.8 L1013.0 381.1 L1015.5 380.5 L1018.0 379.8 L1020.5 379.2 L1022.9 378.5 L1025.4 377.9 L1027.9 377.2 L1030.4 376.6 L1032.8 376.0 L1035.3 375.3 L1037.8 374.7 L1040.3 374.1 L1042.8 373.5 L1045.2 372.8 L1047.7 372.2 L1050.2 371.6 L1052.7 371.0 L1055.1 370.4 L1057.6 369.8 L1060.1 369.2 L1062.6 368.6 L1065.0 368.0 L1067.5 367.4 L1070.0 366.8 L1072.5 366.2 L1074.9 365.6 L1077.4 365.0 L1079.9 364.5 L1082.4 363.9 L1084.8 363.3 L1087.3 362.8 L1089.8 362.2 L1092.3 361.6 L1094.7 361.1 L1097.2 360.5 L1099.7 359.9 L1102.2 359.4 L1104.6 358.8 L1107.1 358.3 L1109.6 357.7 L1112.1 357.2 L1114.6 356.7 L1117.0 356.1 L1119.5 355.6 L1122.0 355.1 L1124.5 354.5 L1126.9 354.0 L1129.4 353.5 L1131.9 353.0 L1134.4 352.5 L1136.8 352.0 L1139.3 351.4 L1141.8 350.9 L1144.3 350.4 L1146.7 349.9 L1149.2 349.5 L1151.7 349.0 L1154.2 348.5 L1156.6 348.0 L1159.1 347.5 L1161.6 347.0 L1164.1 346.6 L1166.5 346.1 L1169.0 345.6 L1171.5 345.1 L1174.0 344.7 L1176.5 344.2 L1178.9 343.8 L1181.4 343.3 L1183.9 342.9 L1186.4 342.4 L1188.8 342.0 L1191.3 341.5 L1193.8 341.1 L1196.3 340.6 L1198.7 340.2 L1201.2 339.8 L1203.7 339.3 L1206.2 338.9 L1208.6 338.5 L1211.1 338.0 L1213.6 337.6 L1216.1 337.2 L1218.5 336.8 L1221.0 336.4 L1223.5 335.9 L1226.0 335.5 L1228.4 335.1 L1230.9 334.7 L1233.4 334.3 L1235.9 333.9 L1238.3 333.5 L1240.8 333.1"/>
<path d="M252.9 1079.2 L255.4 1069.5 L257.9 1060.2 L260.4 1051.1 L262.8 1042.3 L265.3 1033.7 L267.8 1025.4 L270.3 1017.3 L272.7 1009.5 L275.2 1001.8 L277.7 994.3 L280.2 987.0 L282.6 979.9 L285.1 973.0 L287.6 966.2 L290.1 959.5 L292.5 953.0 L295.0 946.7 L297.5 940.5 L300.0 934.4 L302.4 928.4 L304.9 922.6 L307.4 916.9 L309.9 911.2 L312.4 905.7 L314.8 900.3 L317.3 895.0 L319.8 889.8 L322.3 884.7 L324.7 879.6 L327.2 874.7 L329.7 869.8 L332.2 865.0 L334.6 860.3 L337.1 855.7 L339.6 851.1 L342.1 846.6 L344.5 842.2 L347.0 837.8 L349.5 833.5 L352.0 829.3 L354.4 825.1 L356.9 821.0 L359.4 817.0 L361.9 813.0 L364.3 809.0 L366.8 805.2 L369.3 801.3 L371.8 797.5 L374.3 793.8 L376.7 790.1 L379.2 786.5 L381.7 782.9 L384.2 779.3 L386.6 775.8 L389.1 772.4 L391.6 768.9 L394.1 765.6 L396.5 762.2 L399.0 758.9 L401.5 755.7 L404.0 752.4 L406.4 749.2 L408.9 746.1 L411.4 743.0 L413.9 739.9 L416.3 736.8 L418.8 733.8 L421.3 730.8 L423.8 727.9 L426.2 724.9 L428.7 722.1 L431.2 719.2 L433.7 716.4 L436.1 713.5 L438.6 710.8 L441.1 708.0 L443.6 705.3 L446.1 702.6 L448.5 699.9 L451.0 697.3 L453.5 694.7 L456.0 692.1 L458.4 689.5 L460.9 686.9 L463.4 684.4 L465.9 681.9 L468.3 679.4 L470.8 677.0 L473.3 674.6 L475.8 672.1 L478.2 669.8 L480.7 667.4 L483.2 665.0 L485.7 662.7 L488.1 660.4 L490.6 658.1 L493.1 655.8 L495.6 653.6 L498.0 651.4 L500.5 649.2 L503.0 647.0 L505.5 644.8 L508.0 642.7 L510.4 640.6 L512.9 638.5 L515.4 636.4 L517.9 634.4 L520.3 632.3 L522.8 630.3 L525.3 628.3 L527.8 626.3 L530.2 624.4 L532.7 622.4 L535.2 620.5 L537.7 618.6 L540.1 616.7 L542.6 614.8 L545.1 613.0 L547.6 611.1 L550.0 609.3 L552.5 607.5 L555.0 605.7 L557.5 603.9 L559.9 602.1 L562.4 600.4 L564.9 598.6 L567.4 596.9 L569.8 595.2 L572.3 593.5 L574.8 591.8 L577.3 590.1 L579.8 588.4 L582.2 586.8 L584.7 585.1 L587.2 583.5 L589.7 581.9 L592.1 580.3 L594.6 578.7 L597.1 577.1 L599.6 575.5 L602.0 573.9 L604.5 572.4 L607.0 570.8 L609.5 569.3 L611.9 567.7 L614.4 566.2 L616.9 564.7 L619.4 563.2 L621.8 561.7 L624.3 560.2 L626.8 558.7 L629.3 557.3 L631.7 555.8 L634.2 554.3 L636.7 552.9 L639.2 551.4 L641.7 550.0 L644.1 548.6 L646.6 547.1 L649.1 545.7 L651.6 544.3 L654.0 542.9 L656.5 541.5 L659.0 540.1 L661.5 538.7 L663.9 537.4 L666.4 536.0 L668.9 534.6 L671.4 533.3 L673.8 531.9 L676.3 530.6 L678.8 529.3 L681.3 528.0 L683.7 526.6 L686.2 525.3 L688.7 524.0 L691.2 522.8 L693.6 521.5 L696.1 520.2 L698.6 518.9 L701.1 517.7 L703.5 516.4 L706.0 515.2 L708.5 513.9 L711.0 512.7 L713.5 511.4 L715.9 510.2 L718.4 509.0 L720.9 507.8 L723.4 506.6 L725.8 505.4 L728.3 504.2 L730.8 503.0 L733.3 501.9 L735.7 500.7 L738.2 499.5 L740.7 498.4 L743.2 497.2 L745.6 496.1 L748.1 494.9 L750.6 493.8 L753.1 492.7 L755.5 491.6 L758.0 490.4 L760.5 489.3 L763.0 488.2 L765.4 487.1 L767.9 486.0 L770.4 485.0 L772.9 483.9 L775.4 482.8 L777.8 481.8 L780.3 480.7 L782.8 479.6 L785.3 478.6 L787.7 477.6 L790.2 476.5 L792.7 475.5 L795.2 474.5 L797.6 473.4 L800.1 472.4 L802.6 471.4 L805.1 470.4 L807.5 469.4 L810.0 468.4 L812.5 467.5 L815.0 466.5 L817.4 465.5 L819.9 464.5 L822.4 463.6 L824.9 462.6 L827.3 461.7 L829.8 460.7 L832.3 459.8 L834.8 458.9 L837.2 457.9 L839.7 457.0 L842.2 456.1 L844.7 455.2 L847.2 454.3 L849.6 453.3 L852.1 452.4 L854.6 451.6 L857.1 450.7 L859.5 449.8 L862.0 448.9 L864.5 448.0 L867.0 447.1 L869.4 446.3 L871.9 445.4 L874.4 444.5 L876.9 443.7 L879.3 442.8 L881.8 442.0 L884.3 441.1 L886.8 440.3 L889.2 439.5 L891.7 438.6 L894.2 437.8 L896.7 437.0 L899.1 436.2 L901.6 435.4 L904.1 434.5 L906.6 433.7 L909.1 432.9 L911.5 432.1 L914.0 431.3 L916.5 430.5 L919.0 429.8 L921.4 429.0 L923.9 428.2 L926.4 427.4 L928.9 426.6 L931.3 425.9 L933.8 425.1 L936.3 424.3 L938.8 423.6 L941.2 422.8 L943.7 422.0 L946.2 421.3 L948.7 420.5 L951.1 419.8 L953.6 419.0 L956.1 418.3 L958.6 417.6 L961.0 416.8 L963.5 416.1 L966.0 415.4 L968.5 414.6 L970.9 413.9 L973.4 413.2 L975.9 412.5 L978.4 411.8 L980.9 411.1 L983.3 410.3 L985.8 409.6 L988.3 408.9 L990.8 408.2 L993.2 407.5 L995.7 406.8 L998.2 406.2 L1000.7 405.5 L1003.1 404.8 L1005.6 404.1 L1008.1 403.4 L1010.6 402.7 L1013.0 402.1 L1015.5 401.4 L1018.0 400.7 L1020.5 400.1 L1022.9 399.4 L1025.4 398.7 L1027.9 398.1 L1030.4 397.4 L1032.8 396.8 L1035.3 396.1 L1037.8 395.5 L1040.3 394.8 L1042.8 394.2 L1045.2 393.6 L1047.7 392.9 L1050.2 392.3 L1052.7 391.7 L1055.1 391.0 L1057.6 390.4 L1060.1 389.8 L1062.6 389.2 L1065.0 388.6 L1067.5 388.0 L1070.0 387.3 L1072.5 386.7 L1074.9 386.1 L1077.4 385.5 L1079.9 384.9 L1082.4 384.3 L1084.8 383.7 L1087.3 383.1 L1089.8 382.5 L1092.3 382.0 L1094.7 381.4 L1097.2 380.8 L1099.7 380.2 L1102.2 379.6 L1104.6 379.1 L1107.1 378.5 L1109.6 377.9 L1112.1 377.3 L1114.6 376.8 L1117.0 376.2 L1119.5 375.7 L1122.0 375.1 L1124.5 374.5 L1126.9 374.0 L1129.4 373.4 L1131.9 372.9 L1134.4 372.3 L1136.8 371.8 L1139.3 371.3 L1141.8 370.7 L1144.3 370.2 L1146.7 369.6 L1149.2 369.1 L1151.7 368.6 L1154.2 368.0 L1156.6 367.5 L1159.1 367.0 L1161.6 366.5 L1164.1 365.9 L1166.5 365.4 L1169.0 364.9 L1171.5 364.4 L1174.0 363.9 L1176.5 363.4 L1178.9 362.9 L1181.4 362.4 L1183.9 361.9 L1186.4 361.4 L1188.8 360.9 L1191.3 360.4 L1193.8 359.9 L1196.3 359.4 L1198.7 358.9 L1201.2 358.4 L1203.7 357.9 L1206.2 357.4 L1208.6 356.9 L1211.1 356.4 L1213.6 356.0 L1216.1 355.5 L1218.5 355.0 L1221.0 354.5 L1223.5 354.1 L1226.0 353.6 L1228.4 353.1 L1230.9 352.7 L1233.4 352.2 L1235.9 351.7 L1238.3 351.3 L1240.8 350.8"/>
</g>
<g fill="#fff" stroke="#000" stroke-width="1">
<rect x="330.2" y="773.6" width="8.1" height="8.8"/>
<rect x="486.5" y="576.3" width="8.1" height="8.8"/>
<rect x="642.8" y="468.2" width="8.1" height="8.8"/>
<rect x="799.1" y="398.6" width="8.1" height="8.8"/>
<rect x="955.4" y="348.6" width="8.1" height="8.8"/>
<rect x="1111.7" y="314.0" width="8.1" height="8.8"/>
<rect x="330.2" y="783.4" width="8.1" height="8.8"/>
<rect x="486.5" y="585.6" width="8.1" height="8.8"/>
<rect x="642.8" y="477.2" width="8.1" height="8.8"/>
<rect x="799.1" y="406.3" width="8.1" height="8.8"/>
<rect x="955.4" y="355.3" width="8.1" height="8.8"/>
<rect x="1111.7" y="320.1" width="8.1" height="8.8"/>
<rect x="330.2" y="795.0" width="8.1" height="8.8"/>
<rect x="486.5" y="594.9" width="8.1" height="8.8"/>
<rect x="642.8" y="486.8" width="8.1" height="8.8"/>
<rect x="799.1" y="415.6" width="8.1" height="8.8"/>
<rect x="955.4" y="363.2" width="8.1" height="8.8"/>
<rect x="1111.7" y="326.8" width="8.1" height="8.8"/>
<rect x="330.2" y="807.9" width="8.1" height="8.8"/>
<rect x="486.5" y="610.8" width="8.1" height="8.8"/>
<rect x="642.8" y="500.1" width="8.1" height="8.8"/>
<rect x="799.1" y="426.2" width="8.1" height="8.8"/>
<rect x="955.4" y="376.0" width="8.1" height="8.8"/>
<rect x="1111.7" y="339.0" width="8.1" height="8.8"/>
<rect x="330.2" y="828.7" width="8.1" height="8.8"/>
<rect x="486.5" y="628.9" width="8.1" height="8.8"/>
<rect x="642.8" y="517.9" width="8.1" height="8.8"/>
<rect x="799.1" y="445.6" width="8.1" height="8.8"/>
<rect x="955.4" y="391.7" width="8.1" height="8.8"/>
<rect x="1111.7" y="352.0" width="8.1" height="8.8"/>
<rect x="330.2" y="856.7" width="8.1" height="8.8"/>
<rect x="486.5" y="653.8" width="8.1" height="8.8"/>
<rect x="642.8" y="542.6" width="8.1" height="8.8"/>
<rect x="799.1" y="466.8" width="8.1" height="8.8"/>
<rect x="955.4" y="412.9" width="8.1" height="8.8"/>
<rect x="1111.7" y="372.1" width="8.1" height="8.8"/>
</g>
<g stroke="#00f" stroke-width="4.7">
<path d="M240.9 953.9L241.4 951.6L241.9 949.2L242.4 946.9L243.0 944.5M245.0 935.2L245.5 932.9L246.1 930.6L246.6 928.2L247.2 925.9M249.4 916.6L249.9 914.2L250.5 911.9L251.1 909.6L251.7 907.3M254.0 897.9L254.6 895.6L255.2 893.3L255.8 890.9L256.4 888.6M259.0 879.2L259.6 876.9L260.2 874.6L260.9 872.3L261.5 870.0M264.2 860.6L264.9 858.3L265.6 856.0L266.3 853.7L267.0 851.4M269.9 841.9L270.6 839.6L271.3 837.3L272.0 835.0L272.8 832.7M275.9 823.2L276.6 820.9L277.4 818.7L278.2 816.4L278.9 814.1M282.3 804.5L283.1 802.3L283.9 800.0L284.7 797.8L285.5 795.5M289.1 785.8L290.0 783.6L290.8 781.4L291.7 779.1L292.6 776.9M296.4 767.2L297.3 764.9L298.2 762.7L299.1 760.5L300.1 758.3M304.2 748.5L305.2 746.3L306.1 744.1L307.1 741.9L308.1 739.7M312.5 729.8L313.6 727.6L314.6 725.4L315.6 723.2L316.6 721.1M321.4 711.1L322.5 708.9L323.5 706.8L324.6 704.6L325.7 702.5M330.9 692.4L332.0 690.2L333.1 688.1L334.3 686.0L335.4 683.9M341.2 673.6L342.3 671.5L343.5 669.5L344.8 667.4L346.0 665.3M352.3 654.9L353.6 652.8L354.9 650.8L356.2 648.8L357.4 646.8M364.4 636.1L365.8 634.1L367.1 632.2L368.5 630.2L369.9 628.2M377.5 617.4L378.9 615.5L380.4 613.5L381.8 611.6L383.2 609.6M391.5 598.7L393.0 596.8L394.4 594.9L395.9 593.0L397.4 591.1M406.3 579.9L407.8 578.1L409.4 576.2L410.9 574.4L412.4 572.5M422.3 561.1L423.9 559.4L425.5 557.6L427.1 555.8L428.7 554.0M439.5 542.4L441.2 540.6L442.8 538.9L444.5 537.2L446.2 535.5M457.9 523.8L459.6 522.2L461.3 520.5L463.1 518.9L464.8 517.2M476.4 506.6L478.2 505.0L480.0 503.4L481.8 501.8L483.6 500.2M495.0 490.5L496.8 489.0L498.6 487.5L500.5 485.9L502.4 484.4M513.5 475.6L515.4 474.2L517.3 472.7L519.2 471.2L521.1 469.8M532.0 461.8L534.0 460.4L535.9 459.0L537.9 457.6L539.9 456.3M550.6 449.0L552.6 447.6L554.6 446.3L556.6 445.0L558.6 443.7M569.2 437.0L571.2 435.7L573.2 434.4L575.3 433.2L577.3 431.9M587.8 425.6L589.8 424.4L591.9 423.2L594.0 422.0L596.0 420.8M606.4 414.9L608.5 413.7L610.5 412.5L612.6 411.4L614.7 410.2M625.0 404.6L627.1 403.5L629.2 402.3L631.3 401.2L633.4 400.1M643.6 394.8L645.7 393.7L647.8 392.6L650.0 391.5L652.1 390.5M662.2 385.5L664.3 384.4L666.5 383.3L668.7 382.3L670.8 381.3M680.8 376.5L683.0 375.5L685.1 374.5L687.3 373.5L689.5 372.5M699.4 368.0L701.6 367.0L703.8 366.0L706.0 365.0L708.2 364.1M718.0 359.8L720.2 358.8L722.4 357.9L724.7 356.9L726.9 356.0M736.7 351.9L738.9 351.0L741.1 350.1L743.3 349.2L745.5 348.3M755.3 344.4L757.5 343.5L759.7 342.7L762.0 341.8L764.2 340.9M773.9 337.2L776.2 336.4L778.4 335.5L780.6 334.7L782.9 333.8M792.5 330.3L794.8 329.5L797.0 328.7L799.3 327.8L801.6 327.0M811.2 323.7L813.4 322.9L815.7 322.1L818.0 321.3L820.2 320.5M829.8 317.3L832.1 316.6L834.3 315.8L836.6 315.1L838.9 314.3M848.4 311.2L850.7 310.5L853.0 309.8L855.3 309.1L857.6 308.3M867.1 305.4L869.4 304.7L871.6 304.0L873.9 303.3L876.2 302.6M885.7 299.8L888.0 299.2L890.3 298.5L892.6 297.8L894.9 297.1M904.3 294.4L906.6 293.7L908.9 293.1L911.3 292.4L913.6 291.8M923.0 289.1L925.3 288.5L927.6 287.8L929.9 287.2L932.2 286.5M941.6 284.0L943.9 283.3L946.2 282.7L948.6 282.1L950.9 281.5M960.3 279.0L962.6 278.3L964.9 277.7L967.2 277.1L969.5 276.5M978.9 274.1L981.2 273.5L983.5 272.9L985.9 272.3L988.2 271.7M997.5 269.4L999.9 268.8L1002.2 268.2L1004.5 267.7L1006.9 267.1M1016.2 264.9L1018.5 264.3L1020.8 263.8L1023.2 263.2L1025.5 262.7M1034.8 260.5L1037.2 260.0L1039.5 259.5L1041.8 258.9L1044.2 258.4M1053.5 256.4L1055.8 255.9L1058.1 255.3L1060.5 254.8L1062.8 254.3M1072.1 252.3L1074.5 251.8L1076.8 251.3L1079.1 250.8L1081.5 250.3M1090.8 248.3L1093.1 247.8L1095.4 247.3L1097.8 246.8L1100.1 246.3M1109.4 244.4L1111.8 243.9L1114.1 243.4L1116.4 242.9L1118.8 242.4M1128.1 240.3L1130.4 239.8L1132.7 239.3L1135.1 238.8L1137.4 238.3M1146.7 236.3L1149.1 235.7L1151.4 235.2L1153.7 234.7L1156.1 234.2M1165.4 232.1L1167.7 231.6L1170.0 231.1L1172.4 230.6L1174.7 230.0M1184.0 228.0L1186.4 227.4L1188.7 226.9L1191.0 226.4L1193.4 225.8M1202.7 223.7L1205.0 223.2L1207.3 222.7L1209.7 222.1L1212.0 221.6M1221.3 219.5L1223.7 218.9L1226.0 218.4L1228.3 217.9L1230.7 217.3"/>
<path d="M241.8 962.9L242.3 960.6L242.8 958.2L243.3 955.9L243.8 953.5M245.9 944.2L246.5 941.9L247.0 939.6L247.6 937.2L248.1 934.9M250.3 925.6L250.9 923.2L251.5 920.9L252.1 918.6L252.7 916.3M255.1 906.9L255.7 904.6L256.3 902.3L256.9 899.9L257.5 897.6M260.1 888.2L260.7 885.9L261.4 883.6L262.0 881.3L262.7 879.0M265.4 869.6L266.1 867.3L266.8 865.0L267.5 862.7L268.2 860.4M271.1 850.9L271.8 848.6L272.6 846.3L273.3 844.0L274.0 841.7M277.2 832.2L277.9 829.9L278.7 827.7L279.5 825.4L280.3 823.1M283.7 813.5L284.5 811.3L285.3 809.0L286.1 806.8L287.0 804.5M290.6 794.8L291.4 792.6L292.3 790.4L293.2 788.1L294.1 785.9M298.0 776.2L298.9 773.9L299.8 771.7L300.7 769.5L301.7 767.3M305.9 757.5L306.8 755.3L307.8 753.1L308.8 750.9L309.8 748.7M314.3 738.7L315.4 736.6L316.4 734.4L317.5 732.3L318.5 730.1M323.6 720.0L324.7 717.9L325.8 715.8L326.9 713.6L328.0 711.5M333.5 701.3L334.7 699.2L335.8 697.1L337.0 695.0L338.2 692.9M344.1 682.6L345.4 680.5L346.6 678.5L347.8 676.4L349.1 674.4M355.7 663.8L357.0 661.8L358.3 659.8L359.6 657.8L360.9 655.8M368.1 645.1L369.5 643.1L370.9 641.2L372.3 639.2L373.7 637.2M381.7 626.3L383.1 624.4L384.6 622.5L386.0 620.6L387.5 618.7M396.4 607.6L397.9 605.7L399.4 603.9L400.9 602.0L402.5 600.2M412.3 588.8L413.9 587.0L415.5 585.2L417.1 583.4L418.7 581.7M429.6 570.0L431.3 568.3L433.0 566.6L434.7 564.8L436.3 563.1M448.1 551.5L449.8 549.9L451.5 548.2L453.3 546.6L455.0 544.9M466.6 534.2L468.4 532.6L470.2 531.0L472.0 529.4L473.8 527.9M485.2 518.0L487.0 516.4L488.8 514.8L490.7 513.3L492.5 511.7M503.8 502.4L505.6 500.9L507.5 499.4L509.4 497.9L511.2 496.4M522.3 487.6L524.2 486.2L526.1 484.7L528.1 483.2L530.0 481.8M540.9 473.6L542.9 472.2L544.8 470.8L546.7 469.4L548.7 468.0M559.5 460.4L561.5 459.0L563.4 457.7L565.4 456.3L567.4 454.9M578.1 447.8L580.1 446.5L582.1 445.2L584.1 443.9L586.1 442.6M596.7 435.8L598.7 434.6L600.7 433.3L602.8 432.0L604.8 430.8M615.3 424.5L617.3 423.2L619.4 422.0L621.5 420.8L623.5 419.6M633.9 413.6L636.0 412.4L638.0 411.2L640.1 410.1L642.2 408.9M652.5 403.2L654.6 402.1L656.7 400.9L658.8 399.8L660.9 398.7M671.1 393.3L673.2 392.2L675.3 391.1L677.5 390.0L679.6 388.9M689.7 383.9L691.8 382.8L694.0 381.7L696.2 380.7L698.3 379.6M708.3 374.8L710.5 373.8L712.6 372.8L714.8 371.8L717.0 370.7M726.9 366.2L729.1 365.2L731.3 364.2L733.5 363.2L735.7 362.3M745.5 357.9L747.7 357.0L749.9 356.0L752.2 355.1L754.4 354.1M764.2 350.0L766.4 349.1L768.6 348.2L770.8 347.3L773.0 346.4M782.8 342.5L785.0 341.6L787.2 340.7L789.5 339.9L791.7 339.0M801.4 335.3L803.7 334.5L805.9 333.6L808.1 332.8L810.4 332.0M820.0 328.5L822.3 327.6L824.5 326.8L826.8 326.0L829.1 325.2M838.7 321.9L840.9 321.2L843.2 320.4L845.5 319.6L847.8 318.9M857.3 315.7L859.6 315.0L861.8 314.3L864.1 313.5L866.4 312.8M875.9 309.9L878.2 309.2L880.5 308.5L882.8 307.8L885.1 307.1M894.5 304.3L896.8 303.6L899.1 303.0L901.5 302.3L903.8 301.7M913.2 299.0L915.5 298.4L917.8 297.7L920.1 297.1L922.4 296.5M931.8 294.0L934.1 293.4L936.4 292.8L938.8 292.2L941.1 291.5M950.4 289.1L952.8 288.6L955.1 288.0L957.4 287.4L959.8 286.8M969.1 284.5L971.4 283.9L973.7 283.4L976.1 282.8L978.4 282.2M987.7 280.0L990.1 279.4L992.4 278.9L994.7 278.3L997.1 277.8M1006.4 275.6L1008.7 275.1L1011.0 274.5L1013.4 274.0L1015.7 273.4M1025.0 271.3L1027.4 270.8L1029.7 270.2L1032.0 269.7L1034.4 269.2M1043.7 267.1L1046.0 266.5L1048.3 266.0L1050.7 265.5L1053.0 264.9M1062.3 262.8L1064.7 262.3L1067.0 261.8L1069.3 261.3L1071.7 260.7M1081.0 258.7L1083.3 258.2L1085.6 257.6L1088.0 257.1L1090.3 256.6M1099.6 254.5L1102.0 254.0L1104.3 253.5L1106.6 253.0L1109.0 252.5M1118.3 250.5L1120.6 249.9L1122.9 249.4L1125.3 248.9L1127.6 248.4M1136.9 246.4L1139.3 245.8L1141.6 245.3L1143.9 244.8L1146.3 244.3M1155.6 242.2L1157.9 241.7L1160.2 241.2L1162.6 240.7L1164.9 240.1M1174.2 238.1L1176.6 237.5L1178.9 237.0L1181.2 236.5L1183.6 236.0M1192.9 233.9L1195.2 233.3L1197.5 232.8L1199.9 232.3L1202.2 231.8M1211.5 229.7L1213.9 229.1L1216.2 228.6L1218.5 228.1L1220.9 227.5M1230.2 225.4L1232.5 224.9L1234.9 224.4L1237.2 223.8L1239.5 223.3"/>
<path d="M240.7 981.1L241.2 978.8L241.7 976.4L242.2 974.1L242.7 971.7M244.8 962.4L245.3 960.1L245.8 957.8L246.4 955.4L246.9 953.1M249.1 943.8L249.7 941.4L250.2 939.1L250.8 936.8L251.4 934.5M253.7 925.1L254.3 922.8L254.9 920.5L255.5 918.1L256.1 915.8M258.6 906.4L259.3 904.1L259.9 901.8L260.6 899.5L261.2 897.2M263.9 887.8L264.6 885.5L265.2 883.2L265.9 880.9L266.6 878.6M269.5 869.1L270.2 866.8L270.9 864.5L271.6 862.2L272.4 859.9M275.5 850.4L276.2 848.1L277.0 845.9L277.7 843.6L278.5 841.3M281.8 831.7L282.6 829.5L283.4 827.2L284.2 825.0L285.0 822.7M288.6 813.1L289.5 810.8L290.3 808.6L291.2 806.3L292.0 804.1M295.9 794.4L296.8 792.1L297.7 789.9L298.6 787.7L299.5 785.5M303.6 775.7L304.5 773.5L305.5 771.3L306.5 769.1L307.4 766.9M311.9 757.0L312.9 754.8L313.9 752.6L314.9 750.4L315.9 748.3M320.6 738.3L321.7 736.1L322.7 734.0L323.8 731.8L324.8 729.7M329.9 719.6L331.0 717.4L332.1 715.3L333.2 713.2L334.3 711.1M339.8 700.9L341.0 698.8L342.1 696.7L343.3 694.6L344.5 692.5M350.6 682.1L351.8 680.1L353.1 678.0L354.3 676.0L355.6 673.9M362.2 663.4L363.5 661.4L364.8 659.4L366.1 657.4L367.5 655.4M374.7 644.6L376.1 642.7L377.5 640.7L378.9 638.8L380.3 636.8M388.3 625.9L389.7 624.0L391.2 622.1L392.6 620.2L394.1 618.3M402.9 607.1L404.4 605.3L405.9 603.4L407.5 601.6L409.0 599.7M418.7 588.4L420.3 586.6L421.9 584.8L423.5 583.0L425.1 581.2M435.9 569.6L437.5 567.8L439.2 566.1L440.8 564.4L442.5 562.7M454.2 551.0L455.9 549.3L457.6 547.7L459.4 546.0L461.1 544.3M472.7 533.6L474.5 532.0L476.3 530.3L478.1 528.8L479.9 527.2M491.3 517.3L493.1 515.7L494.9 514.2L496.8 512.6L498.6 511.1M509.9 501.9L511.7 500.4L513.6 498.9L515.5 497.4L517.4 495.9M528.4 487.4L530.3 486.0L532.2 484.5L534.2 483.1L536.1 481.7M547.0 473.8L548.9 472.4L550.9 471.0L552.9 469.7L554.8 468.3M565.5 461.0L567.5 459.7L569.5 458.4L571.6 457.1L573.6 455.8M584.1 449.0L586.2 447.7L588.2 446.5L590.2 445.2L592.3 443.9M602.7 437.7L604.8 436.4L606.8 435.2L608.9 434.0L611.0 432.8M621.3 426.9L623.4 425.8L625.5 424.6L627.6 423.4L629.7 422.3M639.9 416.8L642.0 415.7L644.1 414.6L646.3 413.5L648.4 412.3M658.5 407.2L660.7 406.1L662.8 405.0L665.0 404.0L667.1 402.9M677.1 398.1L679.3 397.1L681.4 396.0L683.6 395.0L685.8 394.0M695.7 389.4L697.9 388.4L700.1 387.5L702.3 386.5L704.5 385.5M714.3 381.2L716.5 380.3L718.7 379.3L721.0 378.4L723.2 377.4M733.0 373.4L735.2 372.5L737.4 371.6L739.6 370.7L741.9 369.8M751.6 365.9L753.8 365.1L756.0 364.2L758.3 363.3L760.5 362.5M770.2 358.8L772.4 358.0L774.7 357.2L777.0 356.3L779.2 355.5M788.8 352.1L791.1 351.3L793.3 350.5L795.6 349.7L797.9 348.9M807.5 345.6L809.7 344.8L812.0 344.1L814.3 343.3L816.6 342.5M826.1 339.4L828.4 338.7L830.6 337.9L832.9 337.2L835.2 336.5M844.7 333.5L847.0 332.8L849.3 332.1L851.6 331.4L853.9 330.7M863.3 327.9L865.6 327.2L867.9 326.5L870.3 325.8L872.6 325.2M882.0 322.5L884.3 321.8L886.6 321.1L888.9 320.5L891.2 319.8M900.6 317.2L902.9 316.6L905.2 315.9L907.6 315.3L909.9 314.6M919.3 312.1L921.6 311.4L923.9 310.8L926.2 310.2L928.5 309.6M937.9 307.0L940.2 306.4L942.5 305.8L944.9 305.2L947.2 304.6M956.6 302.2L958.9 301.6L961.2 301.0L963.5 300.4L965.8 299.8M975.2 297.4L977.5 296.8L979.8 296.2L982.2 295.6L984.5 295.1M993.8 292.7L996.2 292.2L998.5 291.6L1000.8 291.0L1003.2 290.5M1012.5 288.2L1014.8 287.7L1017.1 287.1L1019.5 286.6L1021.8 286.0M1031.1 283.9L1033.5 283.3L1035.8 282.8L1038.1 282.2L1040.5 281.7M1049.8 279.5L1052.1 278.9L1054.4 278.4L1056.8 277.8L1059.1 277.3M1068.4 275.1L1070.8 274.6L1073.1 274.0L1075.4 273.5L1077.8 272.9M1087.1 270.7L1089.4 270.2L1091.7 269.6L1094.1 269.1L1096.4 268.5M1105.7 266.4L1108.1 265.8L1110.4 265.3L1112.7 264.7L1115.1 264.2M1124.4 262.0L1126.7 261.4L1129.0 260.9L1131.4 260.3L1133.7 259.7M1143.0 257.5L1145.4 256.9L1147.7 256.3L1150.0 255.7L1152.4 255.2M1161.7 252.8L1164.0 252.2L1166.3 251.6L1168.7 251.1L1171.0 250.5M1180.4 248.1L1182.7 247.5L1185.0 246.9L1187.3 246.3L1189.6 245.7M1199.0 243.2L1201.3 242.6L1203.7 242.0L1206.0 241.4L1208.3 240.7M1217.7 238.2L1220.0 237.6L1222.3 237.0L1224.6 236.4L1226.9 235.8M1236.3 233.2L1237.4 232.9L1238.6 232.6L1239.7 232.3L1240.8 232.0"/>
<path d="M240.4 1004.8L240.8 1003.1L241.1 1001.4L241.5 999.7L241.9 998.1M243.9 988.8L244.4 986.4L244.9 984.1L245.5 981.8L246.0 979.4M248.2 970.1L248.7 967.8L249.3 965.4L249.8 963.1L250.4 960.8M252.7 951.5L253.3 949.1L253.9 946.8L254.5 944.5L255.1 942.2M257.6 932.8L258.2 930.5L258.8 928.1L259.5 925.8L260.1 923.5M262.7 914.1L263.4 911.8L264.1 909.5L264.7 907.2L265.4 904.9M268.3 895.4L269.0 893.1L269.7 890.8L270.4 888.6L271.1 886.3M274.1 876.8L274.9 874.5L275.6 872.2L276.4 869.9L277.2 867.6M280.4 858.1L281.2 855.8L282.0 853.5L282.8 851.3L283.6 849.0M287.1 839.4L287.9 837.1L288.8 834.9L289.6 832.7L290.5 830.4M294.2 820.7L295.1 818.5L296.0 816.2L296.9 814.0L297.8 811.8M301.9 802.0L302.8 799.8L303.7 797.6L304.7 795.4L305.6 793.2M310.0 783.3L311.0 781.1L312.0 778.9L313.0 776.8L314.0 774.6M318.7 764.6L319.7 762.5L320.8 760.3L321.8 758.1L322.9 756.0M327.9 745.9L329.0 743.8L330.1 741.6L331.2 739.5L332.3 737.4M337.6 727.2L338.7 725.1L339.9 723.0L341.0 720.9L342.2 718.8M348.0 708.5L349.2 706.4L350.4 704.3L351.6 702.3L352.8 700.2M359.2 689.8L360.4 687.7L361.7 685.7L363.0 683.7L364.3 681.6M371.2 671.0L372.5 669.0L373.8 667.0L375.2 665.1L376.5 663.1M384.0 652.3L385.4 650.3L386.8 648.4L388.2 646.5L389.6 644.5M397.8 633.6L399.3 631.6L400.7 629.7L402.2 627.9L403.7 626.0M412.6 614.8L414.1 612.9L415.7 611.1L417.2 609.3L418.7 607.4M428.5 596.0L430.1 594.2L431.7 592.4L433.3 590.7L434.9 588.9M445.7 577.3L447.3 575.5L449.0 573.8L450.7 572.1L452.3 570.3M464.0 558.7L465.7 557.0L467.4 555.3L469.2 553.6L470.9 552.0M482.5 541.2L484.3 539.6L486.1 538.0L487.9 536.4L489.7 534.8M501.1 524.9L502.9 523.3L504.7 521.8L506.6 520.3L508.4 518.7M519.6 509.7L521.5 508.2L523.4 506.7L525.3 505.2L527.2 503.8M538.2 495.4L540.1 494.0L542.0 492.6L544.0 491.1L545.9 489.7M556.8 482.0L558.7 480.6L560.7 479.3L562.7 477.9L564.7 476.6M575.3 469.4L577.3 468.1L579.3 466.8L581.4 465.5L583.4 464.2M593.9 457.5L596.0 456.2L598.0 455.0L600.0 453.7L602.1 452.5M612.5 446.3L614.6 445.1L616.6 443.9L618.7 442.6L620.8 441.5M631.1 435.6L633.2 434.5L635.3 433.3L637.4 432.2L639.5 431.0M649.7 425.6L651.8 424.5L653.9 423.3L656.1 422.2L658.2 421.1M668.3 416.0L670.4 414.9L672.6 413.9L674.8 412.8L676.9 411.8M686.9 406.9L689.1 405.9L691.2 404.9L693.4 403.9L695.6 402.9M705.5 398.3L707.7 397.3L709.9 396.3L712.1 395.4L714.3 394.4M724.1 390.1L726.3 389.2L728.5 388.2L730.8 387.3L733.0 386.3M742.8 382.3L745.0 381.4L747.2 380.5L749.4 379.6L751.7 378.7M761.4 374.8L763.6 373.9L765.8 373.1L768.1 372.2L770.3 371.4M780.0 367.7L782.2 366.9L784.5 366.0L786.8 365.2L789.0 364.4M798.6 360.9L800.9 360.1L803.1 359.3L805.4 358.5L807.7 357.7M817.3 354.4L819.5 353.6L821.8 352.8L824.1 352.1L826.3 351.3M835.9 348.1L838.2 347.4L840.4 346.7L842.7 345.9L845.0 345.2M854.5 342.2L856.8 341.5L859.1 340.8L861.4 340.0L863.7 339.3M873.2 336.5L875.5 335.8L877.7 335.1L880.1 334.4L882.4 333.7M891.8 331.0L894.1 330.3L896.4 329.6L898.7 329.0L901.0 328.3M910.4 325.7L912.7 325.1L915.0 324.4L917.4 323.8L919.7 323.2M929.1 320.7L931.4 320.0L933.7 319.4L936.0 318.8L938.3 318.2M947.7 315.8L950.0 315.2L952.3 314.6L954.7 314.0L957.0 313.4M966.3 311.1L968.7 310.5L971.0 310.0L973.3 309.4L975.7 308.8M985.0 306.6L987.3 306.0L989.6 305.5L992.0 304.9L994.3 304.4M1003.6 302.2L1006.0 301.6L1008.3 301.1L1010.6 300.6L1013.0 300.0M1022.3 297.9L1024.6 297.4L1026.9 296.9L1029.3 296.3L1031.6 295.8M1040.9 293.7L1043.3 293.1L1045.6 292.6L1047.9 292.0L1050.3 291.5M1059.6 289.3L1061.9 288.7L1064.2 288.2L1066.6 287.6L1068.9 287.1M1078.2 284.9L1080.6 284.3L1082.9 283.7L1085.2 283.2L1087.6 282.6M1096.9 280.4L1099.2 279.9L1101.5 279.3L1103.9 278.8L1106.2 278.2M1115.5 276.1L1117.9 275.5L1120.2 275.0L1122.5 274.4L1124.9 273.9M1134.2 271.7L1136.5 271.1L1138.8 270.6L1141.2 270.0L1143.5 269.5M1152.8 267.2L1155.2 266.6L1157.5 266.1L1159.8 265.5L1162.2 264.9M1171.5 262.6L1173.8 262.1L1176.1 261.5L1178.5 260.9L1180.8 260.3M1190.1 258.0L1192.5 257.4L1194.8 256.8L1197.1 256.2L1199.5 255.6M1208.8 253.2L1211.1 252.6L1213.5 252.1L1215.8 251.5L1218.1 250.9M1227.5 248.5L1229.8 247.9L1232.1 247.3L1234.4 246.7L1236.7 246.1"/>
<path d="M241.2 1017.5L241.7 1015.2L242.2 1012.8L242.7 1010.5L243.2 1008.1M245.3 998.9L245.8 996.5L246.4 994.2L246.9 991.8L247.4 989.5M249.6 980.2L250.2 977.9L250.8 975.5L251.4 973.2L251.9 970.9M254.3 961.5L254.9 959.2L255.5 956.9L256.1 954.6L256.7 952.2M259.3 942.9L259.9 940.5L260.5 938.2L261.2 935.9L261.8 933.6M264.5 924.2L265.2 921.9L265.9 919.6L266.6 917.3L267.3 915.0M270.2 905.5L270.9 903.2L271.6 900.9L272.3 898.6L273.1 896.4M276.2 886.8L276.9 884.6L277.7 882.3L278.4 880.0L279.2 877.7M282.6 868.1L283.4 865.9L284.2 863.6L285.0 861.4L285.8 859.1M289.4 849.5L290.2 847.2L291.1 845.0L291.9 842.7L292.8 840.5M296.7 830.8L297.6 828.5L298.5 826.3L299.4 824.1L300.3 821.9M304.4 812.1L305.4 809.9L306.3 807.7L307.3 805.5L308.3 803.3M312.7 793.4L313.7 791.2L314.7 789.0L315.7 786.9L316.8 784.7M321.6 774.7L322.6 772.5L323.7 770.4L324.8 768.2L325.8 766.1M331.0 756.0L332.1 753.8L333.2 751.7L334.4 749.6L335.5 747.5M341.2 737.2L342.4 735.2L343.6 733.1L344.8 731.0L346.0 728.9M352.3 718.5L353.5 716.5L354.8 714.4L356.1 712.4L357.3 710.3M364.1 699.8L365.4 697.8L366.7 695.8L368.0 693.8L369.4 691.8M376.7 681.1L378.1 679.1L379.5 677.1L380.9 675.2L382.3 673.2M390.3 662.3L391.7 660.4L393.2 658.5L394.6 656.6L396.1 654.7M404.8 643.6L406.3 641.7L407.9 639.8L409.4 638.0L410.9 636.1M420.5 624.8L422.1 623.0L423.6 621.2L425.2 619.4L426.8 617.6M437.3 606.0L439.0 604.3L440.6 602.5L442.3 600.8L443.9 599.0M455.4 587.3L457.1 585.6L458.8 583.9L460.6 582.2L462.3 580.5M474.0 569.4L475.7 567.8L477.5 566.2L479.3 564.5L481.0 562.9M492.5 552.7L494.3 551.1L496.1 549.6L498.0 548.0L499.8 546.5M511.1 537.0L512.9 535.5L514.8 534.0L516.7 532.5L518.5 531.0M529.6 522.3L531.5 520.8L533.4 519.4L535.4 517.9L537.3 516.5M548.2 508.4L550.2 507.0L552.1 505.6L554.1 504.2L556.0 502.8M566.8 495.3L568.8 494.0L570.7 492.6L572.7 491.3L574.7 490.0M585.4 483.0L587.4 481.7L589.4 480.4L591.4 479.1L593.5 477.8M603.9 471.3L606.0 470.1L608.0 468.8L610.1 467.6L612.2 466.4M622.5 460.3L624.6 459.1L626.7 457.9L628.8 456.7L630.9 455.5M641.1 449.8L643.2 448.6L645.3 447.5L647.5 446.3L649.6 445.2M659.7 439.8L661.9 438.7L664.0 437.6L666.1 436.5L668.3 435.4M678.3 430.4L680.5 429.3L682.6 428.2L684.8 427.2L687.0 426.1M697.0 421.3L699.1 420.3L701.3 419.3L703.5 418.3L705.7 417.3M715.6 412.8L717.8 411.8L719.9 410.8L722.1 409.8L724.3 408.8M734.2 404.6L736.4 403.6L738.6 402.7L740.8 401.7L743.0 400.8M752.8 396.7L755.0 395.8L757.2 394.9L759.5 394.0L761.7 393.1M771.4 389.3L773.7 388.4L775.9 387.5L778.1 386.6L780.4 385.8M790.1 382.1L792.3 381.3L794.5 380.4L796.8 379.6L799.1 378.8M808.7 375.3L810.9 374.5L813.2 373.6L815.5 372.8L817.7 372.0M827.3 368.7L829.6 367.9L831.8 367.2L834.1 366.4L836.4 365.6M845.9 362.4L848.2 361.7L850.5 360.9L852.8 360.2L855.1 359.5M864.6 356.4L866.9 355.7L869.1 355.0L871.4 354.3L873.7 353.5M883.2 350.6L885.5 349.9L887.8 349.3L890.1 348.6L892.4 347.9M901.8 345.1L904.1 344.4L906.4 343.8L908.8 343.1L911.1 342.4M920.5 339.8L922.8 339.1L925.1 338.5L927.4 337.8L929.7 337.2M939.1 334.6L941.4 334.0L943.7 333.4L946.1 332.8L948.4 332.1M957.8 329.7L960.1 329.1L962.4 328.5L964.7 327.9L967.0 327.3M976.4 324.9L978.7 324.3L981.0 323.8L983.4 323.2L985.7 322.6M995.0 320.3L997.4 319.8L999.7 319.2L1002.0 318.7L1004.4 318.1M1013.7 315.9L1016.0 315.4L1018.3 314.8L1020.7 314.3L1023.0 313.8M1032.3 311.6L1034.7 311.0L1037.0 310.5L1039.3 309.9L1041.7 309.3M1051.0 307.0L1053.3 306.5L1055.6 305.9L1058.0 305.3L1060.3 304.7M1069.6 302.4L1072.0 301.8L1074.3 301.2L1076.6 300.6L1079.0 300.0M1088.3 297.7L1090.6 297.1L1092.9 296.5L1095.3 296.0L1097.6 295.4M1106.9 293.1L1109.3 292.6L1111.6 292.0L1113.9 291.4L1116.3 290.9M1125.6 288.7L1127.9 288.1L1130.2 287.6L1132.6 287.0L1134.9 286.5M1144.2 284.3L1146.6 283.8L1148.9 283.2L1151.2 282.7L1153.6 282.1M1162.9 280.0L1165.2 279.4L1167.5 278.9L1169.9 278.3L1172.2 277.8M1181.5 275.6L1183.9 275.1L1186.2 274.5L1188.5 274.0L1190.9 273.5M1200.2 271.3L1202.5 270.8L1204.9 270.2L1207.2 269.7L1209.5 269.2M1218.8 267.0L1221.2 266.5L1223.5 266.0L1225.8 265.4L1228.2 264.9M1237.4 262.8L1238.3 262.6L1239.1 262.4L1240.0 262.2L1240.8 262.0"/>
<path d="M241.1 1044.5L241.6 1042.1L242.1 1039.8L242.6 1037.4L243.2 1035.1M245.2 1025.8L245.8 1023.5L246.3 1021.1L246.8 1018.8L247.4 1016.5M249.6 1007.1L250.1 1004.8L250.7 1002.5L251.3 1000.2L251.9 997.8M254.2 988.5L254.8 986.2L255.4 983.8L256.0 981.5L256.6 979.2M259.2 969.8L259.8 967.5L260.4 965.2L261.1 962.9L261.7 960.6M264.4 951.1L265.1 948.8L265.8 946.5L266.5 944.2L267.2 941.9M270.0 932.5L270.8 930.2L271.5 927.9L272.2 925.6L272.9 923.3M276.0 913.8L276.8 911.5L277.5 909.2L278.3 907.0L279.1 904.7M282.4 895.1L283.2 892.8L284.0 890.6L284.8 888.3L285.6 886.1M289.2 876.4L290.1 874.2L290.9 871.9L291.8 869.7L292.6 867.5M296.5 857.7L297.4 855.5L298.3 853.3L299.2 851.1L300.1 848.8M304.2 839.0L305.1 836.8L306.1 834.6L307.1 832.4L308.0 830.2M312.5 820.3L313.5 818.2L314.5 816.0L315.5 813.8L316.5 811.6M321.3 801.6L322.3 799.5L323.4 797.3L324.4 795.2L325.5 793.0M330.7 782.9L331.8 780.8L332.9 778.7L334.0 776.6L335.1 774.4M340.7 764.2L341.9 762.1L343.1 760.0L344.3 757.9L345.4 755.9M351.5 745.5L352.7 743.4L354.0 741.4L355.2 739.3L356.5 737.3M363.0 726.8L364.3 724.8L365.6 722.7L367.0 720.7L368.3 718.7M375.5 708.0L376.8 706.1L378.2 704.1L379.6 702.1L380.9 700.2M388.8 689.3L390.2 687.4L391.6 685.4L393.1 683.5L394.5 681.6M403.1 670.5L404.6 668.7L406.1 666.8L407.6 664.9L409.1 663.1M418.6 651.8L420.1 650.0L421.7 648.1L423.3 646.3L424.8 644.5M435.2 633.0L436.8 631.2L438.4 629.5L440.1 627.7L441.7 626.0M453.1 614.2L454.8 612.5L456.4 610.8L458.2 609.1L459.9 607.5M471.6 596.2L473.3 594.5L475.1 592.9L476.9 591.2L478.6 589.6M490.1 579.2L491.9 577.7L493.7 576.1L495.6 574.5L497.4 572.9M508.7 563.4L510.5 561.8L512.4 560.3L514.3 558.8L516.1 557.3M527.3 548.5L529.1 547.0L531.0 545.6L533.0 544.1L534.9 542.6M545.8 534.5L547.8 533.1L549.7 531.7L551.6 530.3L553.6 528.9M564.4 521.3L566.4 519.9L568.3 518.6L570.3 517.2L572.3 515.9M583.0 508.8L585.0 507.5L587.0 506.2L589.0 504.9L591.0 503.6M601.6 497.0L603.6 495.7L605.6 494.5L607.7 493.2L609.8 492.0M620.2 485.8L622.2 484.6L624.3 483.4L626.4 482.2L628.5 481.0M638.7 475.2L640.8 474.1L642.9 472.9L645.1 471.8L647.2 470.6M657.3 465.2L659.5 464.1L661.6 463.0L663.7 461.9L665.9 460.8M675.9 455.7L678.1 454.6L680.2 453.5L682.4 452.5L684.6 451.4M694.6 446.6L696.7 445.6L698.9 444.6L701.1 443.6L703.3 442.6M713.2 438.0L715.4 437.1L717.5 436.1L719.7 435.1L721.9 434.1M731.8 429.8L734.0 428.9L736.2 427.9L738.4 427.0L740.6 426.1M750.4 422.0L752.6 421.0L754.8 420.1L757.1 419.2L759.3 418.3M769.0 414.4L771.3 413.5L773.5 412.6L775.7 411.7L778.0 410.9M787.7 407.1L789.9 406.2L792.1 405.4L794.4 404.5L796.6 403.7M806.3 400.0L808.5 399.2L810.8 398.3L813.1 397.5L815.3 396.7M824.9 393.2L827.2 392.4L829.4 391.6L831.7 390.8L834.0 390.0M843.6 386.6L845.8 385.9L848.1 385.1L850.4 384.3L852.6 383.5M862.2 380.3L864.5 379.6L866.7 378.8L869.0 378.1L871.3 377.3M880.8 374.2L883.1 373.5L885.4 372.8L887.7 372.0L890.0 371.3M899.5 368.3L901.8 367.6L904.0 366.9L906.3 366.2L908.6 365.5M918.1 362.6L920.4 361.9L922.7 361.2L925.0 360.5L927.3 359.8M936.7 357.0L939.0 356.4L941.3 355.7L943.7 355.0L946.0 354.3M955.4 351.7L957.7 351.0L960.0 350.3L962.3 349.7L964.6 349.0M974.0 346.4L976.3 345.7L978.6 345.1L981.0 344.4L983.3 343.8M992.7 341.1L995.0 340.5L997.3 339.8L999.6 339.2L1001.9 338.6M1011.3 336.0L1013.6 335.3L1015.9 334.7L1018.3 334.1L1020.6 333.5M1030.0 331.0L1032.3 330.4L1034.6 329.8L1036.9 329.2L1039.2 328.6M1048.6 326.1L1050.9 325.5L1053.2 324.9L1055.6 324.3L1057.9 323.7M1067.3 321.3L1069.6 320.7L1071.9 320.1L1074.2 319.5L1076.6 318.9M1085.9 316.5L1088.2 315.9L1090.5 315.4L1092.9 314.8L1095.2 314.2M1104.5 311.8L1106.9 311.2L1109.2 310.7L1111.5 310.1L1113.9 309.5M1123.2 307.1L1125.5 306.6L1127.8 306.0L1130.2 305.4L1132.5 304.8M1141.8 302.5L1144.2 301.9L1146.5 301.3L1148.8 300.7L1151.2 300.2M1160.5 297.8L1162.8 297.3L1165.1 296.7L1167.5 296.1L1169.8 295.5M1179.1 293.2L1181.5 292.6L1183.8 292.0L1186.1 291.5L1188.5 290.9M1197.8 288.6L1200.1 288.0L1202.5 287.4L1204.8 286.9L1207.1 286.3M1216.4 284.0L1218.8 283.4L1221.1 282.8L1223.4 282.3L1225.8 281.7M1235.1 279.4L1236.5 279.1L1238.0 278.7L1239.4 278.4L1240.8 278.0"/>
</g>
<g stroke="#000" stroke-width="4.5">
<path d="M177.9 23.5 L180.6 23.5 L183.2 23.5 L185.9 23.6 L188.6 23.6 L191.2 23.6 L193.9 23.7 L196.5 23.7 L199.2 23.8 L201.9 23.8 L204.5 23.8 L207.2 23.9 L209.9 24.0 L212.5 24.0 L215.2 24.1 L217.9 24.1 L220.5 24.2 L223.2 24.3 L225.9 24.3 L228.5 24.4 L231.2 24.5 L233.8 24.6 L236.5 24.6 L239.2 24.7 L241.8 24.8 L244.5 24.9 L247.2 25.0 L249.8 25.1 L252.5 25.1 L255.2 25.2 L257.8 25.3 L260.5 25.4 L263.1 25.5 L265.8 25.6 L268.5 25.7 L271.1 25.8 L273.8 25.9 L276.5 26.0 L279.1 26.1 L281.8 26.2 L284.5 26.4 L287.1 26.5 L289.8 26.6 L292.5 26.7 L295.1 26.8 L297.8 26.9 L300.4 27.0 L303.1 27.1 L305.8 27.2 L308.4 27.4 L311.1 27.5 L313.8 27.6 L316.4 27.7 L319.1 27.8 L321.8 27.9 L324.4 28.1 L327.1 28.2 L329.7 28.3 L332.4 28.5 L335.1 28.6 L337.7 28.8 L340.4 28.9 L343.1 29.1 L345.7 29.2 L348.4 29.4 L351.1 29.6 L353.7 29.7 L356.4 29.9 L359.1 30.1 L361.7 30.3 L364.4 30.5 L367.0 30.7 L369.7 30.9 L372.4 31.1 L375.0 31.3 L377.7 31.5 L380.4 31.7 L383.0 31.9 L385.7 32.1 L388.4 32.3 L391.0 32.5 L393.7 32.8 L396.3 33.0 L399.0 33.2 L401.7 33.4 L404.3 33.7 L407.0 33.9 L409.7 34.1 L412.3 34.4 L415.0 34.6 L417.7 34.8 L420.3 35.1 L423.0 35.3 L425.6 35.6 L428.3 35.8 L431.0 36.1 L433.6 36.3 L436.3 36.5 L439.0 36.8 L441.6 37.0 L444.3 37.3 L447.0 37.5 L449.6 37.8 L452.3 38.0 L455.0 38.3 L457.6 38.5 L460.3 38.8 L462.9 39.1 L465.6 39.3 L468.3 39.6 L470.9 39.8 L473.6 40.1 L476.3 40.4 L478.9 40.6 L481.6 40.9 L484.3 41.2 L486.9 41.5 L489.6 41.8 L492.2 42.1 L494.9 42.4 L497.6 42.7 L500.2 42.9 L502.9 43.2 L505.6 43.6 L508.2 43.9 L510.9 44.2 L513.6 44.5 L516.2 44.8 L518.9 45.1 L521.6 45.4 L524.2 45.7 L526.9 46.1 L529.5 46.4 L532.2 46.7 L534.9 47.1 L537.5 47.4 L540.2 47.7 L542.9 48.1 L545.5 48.4 L548.2 48.7 L550.9 49.1 L553.5 49.4 L556.2 49.8 L558.8 50.1 L561.5 50.4 L564.2 50.8 L566.8 51.1 L569.5 51.5 L572.2 51.9 L574.8 52.2 L577.5 52.6 L580.2 52.9 L582.8 53.3 L585.5 53.6 L588.2 54.0 L590.8 54.4 L593.5 54.7 L596.1 55.1 L598.8 55.4 L601.5 55.8 L604.1 56.2 L606.8 56.5 L609.5 56.9 L612.1 57.3 L614.8 57.7 L617.5 58.1 L620.1 58.5 L622.8 58.9 L625.4 59.2 L628.1 59.6 L630.8 60.0 L633.4 60.5 L636.1 60.9 L638.8 61.3 L641.4 61.7 L644.1 62.1 L646.8 62.5 L649.4 62.9 L652.1 63.4 L654.8 63.8 L657.4 64.2 L660.1 64.6 L662.7 65.1 L665.4 65.5 L668.1 65.9 L670.7 66.3 L673.4 66.8 L676.1 67.2 L678.7 67.7 L681.4 68.1 L684.1 68.5 L686.7 69.0 L689.4 69.4 L692.0 69.9 L694.7 70.3 L697.4 70.7 L700.0 71.2 L702.7 71.6 L705.4 72.1 L708.0 72.5 L710.7 73.0 L713.4 73.4 L716.0 73.8 L718.7 74.3 L721.4 74.7 L724.0 75.2 L726.7 75.6 L729.3 76.0 L732.0 76.5 L734.7 76.9 L737.3 77.4 L740.0 77.8 L742.7 78.2 L745.3 78.7 L748.0 79.1 L750.7 79.5 L753.3 80.0 L756.0 80.4 L758.6 80.8 L761.3 81.3 L764.0 81.7 L766.6 82.1 L769.3 82.6 L772.0 83.0 L774.6 83.4 L777.3 83.9 L780.0 84.3 L782.6 84.8 L785.3 85.2 L787.9 85.6 L790.6 86.1 L793.3 86.5 L795.9 86.9 L798.6 87.4 L801.3 87.8 L803.9 88.3 L806.6 88.7 L809.3 89.1 L811.9 89.6 L814.6 90.0 L817.3 90.5 L819.9 90.9 L822.6 91.4 L825.2 91.8 L827.9 92.3 L830.6 92.7 L833.2 93.2 L835.9 93.6 L838.6 94.1 L841.2 94.6 L843.9 95.0 L846.6 95.5 L849.2 95.9 L851.9 96.4 L854.5 96.9 L857.2 97.3 L859.9 97.8 L862.5 98.3 L865.2 98.8 L867.9 99.2 L870.5 99.7 L873.2 100.2 L875.9 100.7 L878.5 101.2 L881.2 101.7 L883.9 102.2 L886.5 102.7 L889.2 103.2 L891.8 103.7 L894.5 104.2 L897.2 104.7 L899.8 105.2 L902.5 105.7 L905.2 106.2 L907.8 106.8 L910.5 107.3 L913.2 107.8 L915.8 108.3 L918.5 108.9 L921.1 109.4 L923.8 109.9 L926.5 110.5 L929.1 111.0 L931.8 111.6 L934.5 112.1 L937.1 112.6 L939.8 113.2 L942.5 113.7 L945.1 114.3 L947.8 114.8 L950.5 115.4 L953.1 115.9 L955.8 116.5 L958.4 117.0 L961.1 117.6 L963.8 118.2 L966.4 118.7 L969.1 119.3 L971.8 119.8 L974.4 120.4 L977.1 120.9 L979.8 121.5 L982.4 122.1 L985.1 122.6 L987.7 123.2 L990.4 123.7 L993.1 124.3 L995.7 124.9 L998.4 125.4 L1001.1 126.0 L1003.7 126.5 L1006.4 127.1 L1009.1 127.6 L1011.7 128.2 L1014.4 128.7 L1017.1 129.3 L1019.7 129.8 L1022.4 130.4 L1025.0 130.9 L1027.7 131.5 L1030.4 132.0 L1033.0 132.6 L1035.7 133.1 L1038.4 133.7 L1041.0 134.2 L1043.7 134.7 L1046.4 135.3 L1049.0 135.8 L1051.7 136.4 L1054.3 136.9 L1057.0 137.5 L1059.7 138.0 L1062.3 138.6 L1065.0 139.1 L1067.7 139.6 L1070.3 140.2 L1073.0 140.7 L1075.7 141.3 L1078.3 141.8 L1081.0 142.4 L1083.7 142.9 L1086.3 143.5 L1089.0 144.0 L1091.6 144.6 L1094.3 145.1 L1097.0 145.7 L1099.6 146.2 L1102.3 146.8 L1105.0 147.3 L1107.6 147.9 L1110.3 148.4 L1113.0 149.0 L1115.6 149.5 L1118.3 150.1 L1120.9 150.6 L1123.6 151.2 L1126.3 151.7 L1128.9 152.3 L1131.6 152.9 L1134.3 153.4 L1136.9 154.0 L1139.6 154.6 L1142.3 155.1 L1144.9 155.7 L1147.6 156.3 L1150.2 156.8 L1152.9 157.4 L1155.6 158.0 L1158.2 158.5 L1160.9 159.1 L1163.6 159.7 L1166.2 160.3 L1168.9 160.9 L1171.6 161.4 L1174.2 162.0 L1176.9 162.6 L1179.6 163.2 L1182.2 163.8 L1184.9 164.4 L1187.5 165.0 L1190.2 165.6 L1192.9 166.2 L1195.5 166.8 L1198.2 167.4 L1200.9 168.0 L1203.5 168.6 L1206.2 169.2 L1208.9 169.8 L1211.5 170.4 L1214.2 171.0 L1216.8 171.6 L1219.5 172.2 L1222.2 172.8 L1224.8 173.4 L1227.5 174.0 L1230.2 174.6 L1232.8 175.3 L1235.5 175.9 L1238.2 176.5 L1240.8 177.1"/>
<path d="M177.9 23.5 L180.6 23.5 L183.2 23.5 L185.9 23.6 L188.6 23.6 L191.2 23.7 L193.9 23.7 L196.5 23.7 L199.2 23.8 L201.9 23.8 L204.5 23.9 L207.2 24.0 L209.9 24.0 L212.5 24.1 L215.2 24.2 L217.9 24.2 L220.5 24.3 L223.2 24.4 L225.9 24.5 L228.5 24.5 L231.2 24.6 L233.8 24.7 L236.5 24.8 L239.2 24.9 L241.8 25.0 L244.5 25.1 L247.2 25.2 L249.8 25.3 L252.5 25.4 L255.2 25.5 L257.8 25.6 L260.5 25.7 L263.1 25.8 L265.8 26.0 L268.5 26.1 L271.1 26.2 L273.8 26.3 L276.5 26.4 L279.1 26.6 L281.8 26.7 L284.5 26.8 L287.1 26.9 L289.8 27.1 L292.5 27.2 L295.1 27.3 L297.8 27.5 L300.4 27.6 L303.1 27.7 L305.8 27.9 L308.4 28.0 L311.1 28.1 L313.8 28.3 L316.4 28.4 L319.1 28.5 L321.8 28.7 L324.4 28.8 L327.1 29.0 L329.7 29.1 L332.4 29.3 L335.1 29.5 L337.7 29.6 L340.4 29.8 L343.1 30.0 L345.7 30.2 L348.4 30.4 L351.1 30.6 L353.7 30.8 L356.4 31.0 L359.1 31.2 L361.7 31.4 L364.4 31.6 L367.0 31.9 L369.7 32.1 L372.4 32.3 L375.0 32.6 L377.7 32.8 L380.4 33.0 L383.0 33.3 L385.7 33.5 L388.4 33.8 L391.0 34.0 L393.7 34.3 L396.3 34.6 L399.0 34.8 L401.7 35.1 L404.3 35.4 L407.0 35.6 L409.7 35.9 L412.3 36.2 L415.0 36.5 L417.7 36.7 L420.3 37.0 L423.0 37.3 L425.6 37.6 L428.3 37.9 L431.0 38.2 L433.6 38.5 L436.3 38.8 L439.0 39.1 L441.6 39.3 L444.3 39.6 L447.0 39.9 L449.6 40.2 L452.3 40.5 L455.0 40.8 L457.6 41.1 L460.3 41.4 L462.9 41.7 L465.6 42.0 L468.3 42.3 L470.9 42.6 L473.6 43.0 L476.3 43.3 L478.9 43.6 L481.6 44.0 L484.3 44.3 L486.9 44.6 L489.6 45.0 L492.2 45.3 L494.9 45.7 L497.6 46.0 L500.2 46.4 L502.9 46.8 L505.6 47.1 L508.2 47.5 L510.9 47.9 L513.6 48.3 L516.2 48.6 L518.9 49.0 L521.6 49.4 L524.2 49.8 L526.9 50.2 L529.5 50.6 L532.2 51.0 L534.9 51.4 L537.5 51.8 L540.2 52.2 L542.9 52.6 L545.5 53.0 L548.2 53.4 L550.9 53.8 L553.5 54.2 L556.2 54.6 L558.8 55.1 L561.5 55.5 L564.2 55.9 L566.8 56.3 L569.5 56.7 L572.2 57.1 L574.8 57.6 L577.5 58.0 L580.2 58.4 L582.8 58.8 L585.5 59.2 L588.2 59.6 L590.8 60.1 L593.5 60.5 L596.1 60.9 L598.8 61.3 L601.5 61.7 L604.1 62.2 L606.8 62.6 L609.5 63.0 L612.1 63.4 L614.8 63.9 L617.5 64.3 L620.1 64.7 L622.8 65.2 L625.4 65.6 L628.1 66.0 L630.8 66.5 L633.4 66.9 L636.1 67.4 L638.8 67.8 L641.4 68.3 L644.1 68.7 L646.8 69.2 L649.4 69.6 L652.1 70.1 L654.8 70.5 L657.4 71.0 L660.1 71.4 L662.7 71.9 L665.4 72.4 L668.1 72.8 L670.7 73.3 L673.4 73.7 L676.1 74.2 L678.7 74.7 L681.4 75.2 L684.1 75.6 L686.7 76.1 L689.4 76.6 L692.0 77.0 L694.7 77.5 L697.4 78.0 L700.0 78.5 L702.7 78.9 L705.4 79.4 L708.0 79.9 L710.7 80.4 L713.4 80.9 L716.0 81.3 L718.7 81.8 L721.4 82.3 L724.0 82.8 L726.7 83.3 L729.3 83.7 L732.0 84.2 L734.7 84.7 L737.3 85.2 L740.0 85.7 L742.7 86.2 L745.3 86.7 L748.0 87.1 L750.7 87.6 L753.3 88.1 L756.0 88.6 L758.6 89.1 L761.3 89.6 L764.0 90.0 L766.6 90.5 L769.3 91.0 L772.0 91.5 L774.6 92.0 L777.3 92.5 L780.0 93.0 L782.6 93.5 L785.3 93.9 L787.9 94.4 L790.6 94.9 L793.3 95.4 L795.9 95.9 L798.6 96.4 L801.3 96.9 L803.9 97.4 L806.6 97.9 L809.3 98.4 L811.9 98.9 L814.6 99.4 L817.3 99.9 L819.9 100.4 L822.6 100.9 L825.2 101.5 L827.9 102.0 L830.6 102.5 L833.2 103.0 L835.9 103.5 L838.6 104.1 L841.2 104.6 L843.9 105.1 L846.6 105.6 L849.2 106.2 L851.9 106.7 L854.5 107.3 L857.2 107.8 L859.9 108.4 L862.5 108.9 L865.2 109.5 L867.9 110.0 L870.5 110.6 L873.2 111.2 L875.9 111.7 L878.5 112.3 L881.2 112.9 L883.9 113.5 L886.5 114.0 L889.2 114.6 L891.8 115.2 L894.5 115.8 L897.2 116.4 L899.8 117.1 L902.5 117.7 L905.2 118.3 L907.8 118.9 L910.5 119.6 L913.2 120.2 L915.8 120.8 L918.5 121.5 L921.1 122.1 L923.8 122.8 L926.5 123.4 L929.1 124.1 L931.8 124.7 L934.5 125.4 L937.1 126.1 L939.8 126.7 L942.5 127.4 L945.1 128.1 L947.8 128.8 L950.5 129.4 L953.1 130.1 L955.8 130.8 L958.4 131.5 L961.1 132.2 L963.8 132.9 L966.4 133.6 L969.1 134.3 L971.8 134.9 L974.4 135.6 L977.1 136.3 L979.8 137.0 L982.4 137.7 L985.1 138.4 L987.7 139.1 L990.4 139.8 L993.1 140.5 L995.7 141.2 L998.4 141.9 L1001.1 142.6 L1003.7 143.3 L1006.4 144.0 L1009.1 144.7 L1011.7 145.4 L1014.4 146.1 L1017.1 146.8 L1019.7 147.5 L1022.4 148.2 L1025.0 148.9 L1027.7 149.6 L1030.4 150.3 L1033.0 151.0 L1035.7 151.8 L1038.4 152.5 L1041.0 153.3 L1043.7 154.0 L1046.4 154.8 L1049.0 155.5 L1051.7 156.3 L1054.3 157.1 L1057.0 157.8 L1059.7 158.6 L1062.3 159.4 L1065.0 160.2 L1067.7 161.0 L1070.3 161.7 L1073.0 162.5 L1075.7 163.3 L1078.3 164.1 L1081.0 164.9 L1083.7 165.7 L1086.3 166.4 L1089.0 167.2 L1091.6 168.0 L1094.3 168.8 L1097.0 169.5 L1099.6 170.3 L1102.3 171.1 L1105.0 171.8 L1107.6 172.6 L1110.3 173.3 L1113.0 174.1 L1115.6 174.8 L1118.3 175.6 L1120.9 176.3 L1123.6 177.0 L1126.3 177.7 L1128.9 178.4 L1131.6 179.1 L1134.3 179.8 L1136.9 180.4 L1139.6 181.1 L1142.3 181.7 L1144.9 182.4 L1147.6 183.0 L1150.2 183.6 L1152.9 184.2 L1155.6 184.8 L1158.2 185.4 L1160.9 185.9 L1163.6 186.5 L1166.2 187.0 L1168.9 187.6 L1171.6 188.1 L1174.2 188.6 L1176.9 189.1 L1179.6 189.6 L1182.2 190.1 L1184.9 190.6 L1187.5 191.1 L1190.2 191.6 L1192.9 192.1 L1195.5 192.5 L1198.2 193.0 L1200.9 193.4 L1203.5 193.9 L1206.2 194.3 L1208.9 194.8 L1211.5 195.2 L1214.2 195.6 L1216.8 196.1 L1219.5 196.5 L1222.2 196.9 L1224.8 197.3 L1227.5 197.7 L1230.2 198.0 L1232.8 198.4 L1235.5 198.8 L1238.2 199.1 L1240.8 199.5"/>
<path d="M177.9 23.5 L180.6 23.5 L183.2 23.6 L185.9 23.6 L188.6 23.6 L191.2 23.7 L193.9 23.7 L196.5 23.8 L199.2 23.8 L201.9 23.9 L204.5 24.0 L207.2 24.0 L209.9 24.1 L212.5 24.2 L215.2 24.2 L217.9 24.3 L220.5 24.4 L223.2 24.5 L225.9 24.6 L228.5 24.7 L231.2 24.8 L233.8 24.9 L236.5 25.0 L239.2 25.1 L241.8 25.2 L244.5 25.3 L247.2 25.4 L249.8 25.6 L252.5 25.7 L255.2 25.8 L257.8 25.9 L260.5 26.0 L263.1 26.2 L265.8 26.3 L268.5 26.4 L271.1 26.6 L273.8 26.7 L276.5 26.8 L279.1 27.0 L281.8 27.1 L284.5 27.3 L287.1 27.4 L289.8 27.6 L292.5 27.7 L295.1 27.9 L297.8 28.0 L300.4 28.2 L303.1 28.3 L305.8 28.5 L308.4 28.6 L311.1 28.8 L313.8 28.9 L316.4 29.1 L319.1 29.2 L321.8 29.4 L324.4 29.6 L327.1 29.7 L329.7 29.9 L332.4 30.1 L335.1 30.3 L337.7 30.5 L340.4 30.7 L343.1 30.9 L345.7 31.1 L348.4 31.3 L351.1 31.6 L353.7 31.8 L356.4 32.0 L359.1 32.3 L361.7 32.5 L364.4 32.8 L367.0 33.1 L369.7 33.3 L372.4 33.6 L375.0 33.9 L377.7 34.1 L380.4 34.4 L383.0 34.7 L385.7 35.0 L388.4 35.3 L391.0 35.6 L393.7 35.9 L396.3 36.2 L399.0 36.5 L401.7 36.8 L404.3 37.1 L407.0 37.4 L409.7 37.7 L412.3 38.0 L415.0 38.3 L417.7 38.7 L420.3 39.0 L423.0 39.3 L425.6 39.6 L428.3 40.0 L431.0 40.3 L433.6 40.6 L436.3 40.9 L439.0 41.3 L441.6 41.6 L444.3 41.9 L447.0 42.3 L449.6 42.6 L452.3 42.9 L455.0 43.3 L457.6 43.6 L460.3 43.9 L462.9 44.3 L465.6 44.6 L468.3 44.9 L470.9 45.3 L473.6 45.6 L476.3 46.0 L478.9 46.4 L481.6 46.7 L484.3 47.1 L486.9 47.5 L489.6 47.9 L492.2 48.2 L494.9 48.6 L497.6 49.0 L500.2 49.4 L502.9 49.8 L505.6 50.2 L508.2 50.6 L510.9 51.0 L513.6 51.4 L516.2 51.8 L518.9 52.2 L521.6 52.6 L524.2 53.0 L526.9 53.5 L529.5 53.9 L532.2 54.3 L534.9 54.7 L537.5 55.2 L540.2 55.6 L542.9 56.0 L545.5 56.5 L548.2 56.9 L550.9 57.4 L553.5 57.8 L556.2 58.2 L558.8 58.7 L561.5 59.1 L564.2 59.6 L566.8 60.0 L569.5 60.5 L572.2 60.9 L574.8 61.4 L577.5 61.8 L580.2 62.3 L582.8 62.8 L585.5 63.2 L588.2 63.7 L590.8 64.1 L593.5 64.6 L596.1 65.0 L598.8 65.5 L601.5 66.0 L604.1 66.4 L606.8 66.9 L609.5 67.4 L612.1 67.8 L614.8 68.3 L617.5 68.8 L620.1 69.3 L622.8 69.7 L625.4 70.2 L628.1 70.7 L630.8 71.2 L633.4 71.7 L636.1 72.2 L638.8 72.7 L641.4 73.2 L644.1 73.7 L646.8 74.2 L649.4 74.7 L652.1 75.2 L654.8 75.7 L657.4 76.2 L660.1 76.7 L662.7 77.2 L665.4 77.8 L668.1 78.3 L670.7 78.8 L673.4 79.3 L676.1 79.9 L678.7 80.4 L681.4 80.9 L684.1 81.4 L686.7 82.0 L689.4 82.5 L692.0 83.0 L694.7 83.6 L697.4 84.1 L700.0 84.6 L702.7 85.2 L705.4 85.7 L708.0 86.3 L710.7 86.8 L713.4 87.4 L716.0 87.9 L718.7 88.5 L721.4 89.0 L724.0 89.5 L726.7 90.1 L729.3 90.7 L732.0 91.2 L734.7 91.8 L737.3 92.3 L740.0 92.9 L742.7 93.4 L745.3 94.0 L748.0 94.5 L750.7 95.1 L753.3 95.7 L756.0 96.2 L758.6 96.8 L761.3 97.4 L764.0 97.9 L766.6 98.5 L769.3 99.1 L772.0 99.7 L774.6 100.2 L777.3 100.8 L780.0 101.4 L782.6 102.0 L785.3 102.6 L787.9 103.2 L790.6 103.7 L793.3 104.3 L795.9 104.9 L798.6 105.5 L801.3 106.1 L803.9 106.7 L806.6 107.3 L809.3 107.9 L811.9 108.5 L814.6 109.1 L817.3 109.7 L819.9 110.3 L822.6 110.9 L825.2 111.6 L827.9 112.2 L830.6 112.8 L833.2 113.4 L835.9 114.0 L838.6 114.6 L841.2 115.3 L843.9 115.9 L846.6 116.5 L849.2 117.1 L851.9 117.8 L854.5 118.4 L857.2 119.0 L859.9 119.6 L862.5 120.3 L865.2 120.9 L867.9 121.6 L870.5 122.2 L873.2 122.8 L875.9 123.5 L878.5 124.1 L881.2 124.8 L883.9 125.4 L886.5 126.1 L889.2 126.7 L891.8 127.4 L894.5 128.1 L897.2 128.7 L899.8 129.4 L902.5 130.1 L905.2 130.8 L907.8 131.4 L910.5 132.1 L913.2 132.8 L915.8 133.5 L918.5 134.2 L921.1 134.9 L923.8 135.6 L926.5 136.3 L929.1 137.0 L931.8 137.7 L934.5 138.4 L937.1 139.1 L939.8 139.8 L942.5 140.5 L945.1 141.2 L947.8 141.9 L950.5 142.7 L953.1 143.4 L955.8 144.1 L958.4 144.8 L961.1 145.5 L963.8 146.2 L966.4 147.0 L969.1 147.7 L971.8 148.4 L974.4 149.1 L977.1 149.8 L979.8 150.5 L982.4 151.3 L985.1 152.0 L987.7 152.7 L990.4 153.4 L993.1 154.1 L995.7 154.8 L998.4 155.6 L1001.1 156.3 L1003.7 157.0 L1006.4 157.7 L1009.1 158.4 L1011.7 159.1 L1014.4 159.8 L1017.1 160.5 L1019.7 161.2 L1022.4 161.9 L1025.0 162.6 L1027.7 163.3 L1030.4 164.0 L1033.0 164.7 L1035.7 165.4 L1038.4 166.1 L1041.0 166.7 L1043.7 167.4 L1046.4 168.1 L1049.0 168.8 L1051.7 169.5 L1054.3 170.2 L1057.0 170.9 L1059.7 171.5 L1062.3 172.2 L1065.0 172.9 L1067.7 173.6 L1070.3 174.3 L1073.0 175.0 L1075.7 175.6 L1078.3 176.3 L1081.0 177.0 L1083.7 177.7 L1086.3 178.4 L1089.0 179.0 L1091.6 179.7 L1094.3 180.4 L1097.0 181.1 L1099.6 181.8 L1102.3 182.5 L1105.0 183.2 L1107.6 183.8 L1110.3 184.5 L1113.0 185.2 L1115.6 185.9 L1118.3 186.6 L1120.9 187.3 L1123.6 188.0 L1126.3 188.7 L1128.9 189.4 L1131.6 190.1 L1134.3 190.8 L1136.9 191.5 L1139.6 192.2 L1142.3 192.9 L1144.9 193.6 L1147.6 194.3 L1150.2 195.0 L1152.9 195.8 L1155.6 196.5 L1158.2 197.2 L1160.9 197.9 L1163.6 198.6 L1166.2 199.4 L1168.9 200.1 L1171.6 200.8 L1174.2 201.6 L1176.9 202.3 L1179.6 203.1 L1182.2 203.8 L1184.9 204.5 L1187.5 205.3 L1190.2 206.0 L1192.9 206.8 L1195.5 207.5 L1198.2 208.3 L1200.9 209.1 L1203.5 209.8 L1206.2 210.6 L1208.9 211.3 L1211.5 212.1 L1214.2 212.9 L1216.8 213.6 L1219.5 214.4 L1222.2 215.2 L1224.8 215.9 L1227.5 216.7 L1230.2 217.5 L1232.8 218.3 L1235.5 219.0 L1238.2 219.8 L1240.8 220.6"/>
<path d="M177.9 23.5 L180.6 23.5 L183.2 23.6 L185.9 23.6 L188.6 23.6 L191.2 23.7 L193.9 23.8 L196.5 23.8 L199.2 23.9 L201.9 23.9 L204.5 24.0 L207.2 24.1 L209.9 24.2 L212.5 24.2 L215.2 24.3 L217.9 24.4 L220.5 24.5 L223.2 24.6 L225.9 24.7 L228.5 24.8 L231.2 24.9 L233.8 25.0 L236.5 25.2 L239.2 25.3 L241.8 25.4 L244.5 25.5 L247.2 25.6 L249.8 25.8 L252.5 25.9 L255.2 26.0 L257.8 26.2 L260.5 26.3 L263.1 26.5 L265.8 26.6 L268.5 26.8 L271.1 26.9 L273.8 27.1 L276.5 27.2 L279.1 27.4 L281.8 27.5 L284.5 27.7 L287.1 27.8 L289.8 28.0 L292.5 28.2 L295.1 28.3 L297.8 28.5 L300.4 28.6 L303.1 28.8 L305.8 29.0 L308.4 29.2 L311.1 29.3 L313.8 29.5 L316.4 29.7 L319.1 29.8 L321.8 30.0 L324.4 30.2 L327.1 30.4 L329.7 30.6 L332.4 30.8 L335.1 31.0 L337.7 31.2 L340.4 31.4 L343.1 31.7 L345.7 31.9 L348.4 32.2 L351.1 32.4 L353.7 32.7 L356.4 32.9 L359.1 33.2 L361.7 33.5 L364.4 33.8 L367.0 34.0 L369.7 34.3 L372.4 34.6 L375.0 34.9 L377.7 35.2 L380.4 35.5 L383.0 35.8 L385.7 36.1 L388.4 36.5 L391.0 36.8 L393.7 37.1 L396.3 37.4 L399.0 37.8 L401.7 38.1 L404.3 38.4 L407.0 38.8 L409.7 39.1 L412.3 39.5 L415.0 39.8 L417.7 40.2 L420.3 40.5 L423.0 40.9 L425.6 41.2 L428.3 41.6 L431.0 42.0 L433.6 42.3 L436.3 42.7 L439.0 43.0 L441.6 43.4 L444.3 43.8 L447.0 44.1 L449.6 44.5 L452.3 44.8 L455.0 45.2 L457.6 45.6 L460.3 45.9 L462.9 46.3 L465.6 46.7 L468.3 47.1 L470.9 47.4 L473.6 47.8 L476.3 48.2 L478.9 48.6 L481.6 49.0 L484.3 49.4 L486.9 49.8 L489.6 50.2 L492.2 50.6 L494.9 51.0 L497.6 51.5 L500.2 51.9 L502.9 52.3 L505.6 52.7 L508.2 53.2 L510.9 53.6 L513.6 54.0 L516.2 54.5 L518.9 54.9 L521.6 55.4 L524.2 55.8 L526.9 56.3 L529.5 56.8 L532.2 57.2 L534.9 57.7 L537.5 58.1 L540.2 58.6 L542.9 59.1 L545.5 59.6 L548.2 60.0 L550.9 60.5 L553.5 61.0 L556.2 61.5 L558.8 62.0 L561.5 62.5 L564.2 63.0 L566.8 63.4 L569.5 63.9 L572.2 64.4 L574.8 64.9 L577.5 65.4 L580.2 65.9 L582.8 66.4 L585.5 66.9 L588.2 67.4 L590.8 68.0 L593.5 68.5 L596.1 69.0 L598.8 69.5 L601.5 70.0 L604.1 70.5 L606.8 71.0 L609.5 71.6 L612.1 72.1 L614.8 72.6 L617.5 73.2 L620.1 73.7 L622.8 74.2 L625.4 74.8 L628.1 75.4 L630.8 75.9 L633.4 76.5 L636.1 77.0 L638.8 77.6 L641.4 78.2 L644.1 78.7 L646.8 79.3 L649.4 79.9 L652.1 80.5 L654.8 81.1 L657.4 81.7 L660.1 82.3 L662.7 82.8 L665.4 83.4 L668.1 84.0 L670.7 84.6 L673.4 85.2 L676.1 85.8 L678.7 86.4 L681.4 87.1 L684.1 87.7 L686.7 88.3 L689.4 88.9 L692.0 89.5 L694.7 90.1 L697.4 90.7 L700.0 91.3 L702.7 92.0 L705.4 92.6 L708.0 93.2 L710.7 93.8 L713.4 94.4 L716.0 95.1 L718.7 95.7 L721.4 96.3 L724.0 96.9 L726.7 97.5 L729.3 98.2 L732.0 98.8 L734.7 99.4 L737.3 100.0 L740.0 100.7 L742.7 101.3 L745.3 101.9 L748.0 102.5 L750.7 103.1 L753.3 103.8 L756.0 104.4 L758.6 105.0 L761.3 105.6 L764.0 106.3 L766.6 106.9 L769.3 107.5 L772.0 108.2 L774.6 108.8 L777.3 109.4 L780.0 110.1 L782.6 110.7 L785.3 111.4 L787.9 112.0 L790.6 112.6 L793.3 113.3 L795.9 113.9 L798.6 114.6 L801.3 115.2 L803.9 115.9 L806.6 116.5 L809.3 117.2 L811.9 117.8 L814.6 118.5 L817.3 119.1 L819.9 119.8 L822.6 120.4 L825.2 121.1 L827.9 121.8 L830.6 122.4 L833.2 123.1 L835.9 123.8 L838.6 124.4 L841.2 125.1 L843.9 125.8 L846.6 126.4 L849.2 127.1 L851.9 127.8 L854.5 128.5 L857.2 129.2 L859.9 129.8 L862.5 130.5 L865.2 131.2 L867.9 131.9 L870.5 132.6 L873.2 133.3 L875.9 134.0 L878.5 134.7 L881.2 135.4 L883.9 136.1 L886.5 136.8 L889.2 137.5 L891.8 138.2 L894.5 138.9 L897.2 139.6 L899.8 140.3 L902.5 141.0 L905.2 141.7 L907.8 142.5 L910.5 143.2 L913.2 143.9 L915.8 144.6 L918.5 145.3 L921.1 146.1 L923.8 146.8 L926.5 147.5 L929.1 148.3 L931.8 149.0 L934.5 149.7 L937.1 150.5 L939.8 151.2 L942.5 152.0 L945.1 152.7 L947.8 153.4 L950.5 154.2 L953.1 154.9 L955.8 155.7 L958.4 156.4 L961.1 157.2 L963.8 158.0 L966.4 158.7 L969.1 159.5 L971.8 160.2 L974.4 161.0 L977.1 161.8 L979.8 162.5 L982.4 163.3 L985.1 164.1 L987.7 164.8 L990.4 165.6 L993.1 166.4 L995.7 167.2 L998.4 167.9 L1001.1 168.7 L1003.7 169.5 L1006.4 170.3 L1009.1 171.1 L1011.7 171.9 L1014.4 172.6 L1017.1 173.4 L1019.7 174.2 L1022.4 175.0 L1025.0 175.8 L1027.7 176.6 L1030.4 177.4 L1033.0 178.3 L1035.7 179.1 L1038.4 179.9 L1041.0 180.8 L1043.7 181.6 L1046.4 182.5 L1049.0 183.3 L1051.7 184.2 L1054.3 185.1 L1057.0 185.9 L1059.7 186.8 L1062.3 187.7 L1065.0 188.6 L1067.7 189.5 L1070.3 190.4 L1073.0 191.2 L1075.7 192.1 L1078.3 193.0 L1081.0 193.9 L1083.7 194.8 L1086.3 195.7 L1089.0 196.6 L1091.6 197.5 L1094.3 198.4 L1097.0 199.3 L1099.6 200.1 L1102.3 201.0 L1105.0 201.9 L1107.6 202.8 L1110.3 203.7 L1113.0 204.5 L1115.6 205.4 L1118.3 206.2 L1120.9 207.1 L1123.6 207.9 L1126.3 208.8 L1128.9 209.6 L1131.6 210.4 L1134.3 211.3 L1136.9 212.1 L1139.6 212.9 L1142.3 213.7 L1144.9 214.4 L1147.6 215.2 L1150.2 216.0 L1152.9 216.7 L1155.6 217.5 L1158.2 218.2 L1160.9 218.9 L1163.6 219.6 L1166.2 220.3 L1168.9 221.0 L1171.6 221.7 L1174.2 222.4 L1176.9 223.1 L1179.6 223.8 L1182.2 224.4 L1184.9 225.1 L1187.5 225.7 L1190.2 226.4 L1192.9 227.0 L1195.5 227.7 L1198.2 228.3 L1200.9 228.9 L1203.5 229.6 L1206.2 230.2 L1208.9 230.8 L1211.5 231.4 L1214.2 232.0 L1216.8 232.6 L1219.5 233.2 L1222.2 233.8 L1224.8 234.3 L1227.5 234.9 L1230.2 235.5 L1232.8 236.0 L1235.5 236.6 L1238.2 237.2 L1240.8 237.7"/>
<path d="M177.9 23.5 L180.6 23.5 L183.2 23.6 L185.9 23.6 L188.6 23.7 L191.2 23.7 L193.9 23.8 L196.5 23.9 L199.2 23.9 L201.9 24.0 L204.5 24.1 L207.2 24.2 L209.9 24.3 L212.5 24.4 L215.2 24.4 L217.9 24.5 L220.5 24.7 L223.2 24.8 L225.9 24.9 L228.5 25.0 L231.2 25.1 L233.8 25.2 L236.5 25.4 L239.2 25.5 L241.8 25.6 L244.5 25.8 L247.2 25.9 L249.8 26.0 L252.5 26.2 L255.2 26.3 L257.8 26.5 L260.5 26.6 L263.1 26.8 L265.8 26.9 L268.5 27.1 L271.1 27.3 L273.8 27.4 L276.5 27.6 L279.1 27.8 L281.8 27.9 L284.5 28.1 L287.1 28.3 L289.8 28.4 L292.5 28.6 L295.1 28.8 L297.8 29.0 L300.4 29.1 L303.1 29.3 L305.8 29.5 L308.4 29.7 L311.1 29.9 L313.8 30.1 L316.4 30.2 L319.1 30.4 L321.8 30.6 L324.4 30.8 L327.1 31.0 L329.7 31.2 L332.4 31.5 L335.1 31.7 L337.7 31.9 L340.4 32.2 L343.1 32.4 L345.7 32.7 L348.4 32.9 L351.1 33.2 L353.7 33.5 L356.4 33.8 L359.1 34.0 L361.7 34.3 L364.4 34.6 L367.0 34.9 L369.7 35.2 L372.4 35.6 L375.0 35.9 L377.7 36.2 L380.4 36.5 L383.0 36.9 L385.7 37.2 L388.4 37.5 L391.0 37.9 L393.7 38.2 L396.3 38.6 L399.0 38.9 L401.7 39.3 L404.3 39.6 L407.0 40.0 L409.7 40.4 L412.3 40.7 L415.0 41.1 L417.7 41.5 L420.3 41.8 L423.0 42.2 L425.6 42.6 L428.3 43.0 L431.0 43.4 L433.6 43.8 L436.3 44.1 L439.0 44.5 L441.6 44.9 L444.3 45.3 L447.0 45.7 L449.6 46.1 L452.3 46.5 L455.0 46.9 L457.6 47.3 L460.3 47.7 L462.9 48.0 L465.6 48.4 L468.3 48.9 L470.9 49.3 L473.6 49.7 L476.3 50.1 L478.9 50.5 L481.6 51.0 L484.3 51.4 L486.9 51.9 L489.6 52.3 L492.2 52.8 L494.9 53.2 L497.6 53.7 L500.2 54.1 L502.9 54.6 L505.6 55.1 L508.2 55.6 L510.9 56.0 L513.6 56.5 L516.2 57.0 L518.9 57.5 L521.6 58.0 L524.2 58.5 L526.9 59.0 L529.5 59.5 L532.2 60.0 L534.9 60.5 L537.5 61.1 L540.2 61.6 L542.9 62.1 L545.5 62.6 L548.2 63.1 L550.9 63.7 L553.5 64.2 L556.2 64.7 L558.8 65.2 L561.5 65.8 L564.2 66.3 L566.8 66.9 L569.5 67.4 L572.2 67.9 L574.8 68.5 L577.5 69.0 L580.2 69.6 L582.8 70.1 L585.5 70.6 L588.2 71.2 L590.8 71.7 L593.5 72.3 L596.1 72.8 L598.8 73.4 L601.5 73.9 L604.1 74.5 L606.8 75.0 L609.5 75.6 L612.1 76.1 L614.8 76.7 L617.5 77.3 L620.1 77.8 L622.8 78.4 L625.4 79.0 L628.1 79.5 L630.8 80.1 L633.4 80.7 L636.1 81.3 L638.8 81.9 L641.4 82.5 L644.1 83.1 L646.8 83.7 L649.4 84.2 L652.1 84.8 L654.8 85.4 L657.4 86.1 L660.1 86.7 L662.7 87.3 L665.4 87.9 L668.1 88.5 L670.7 89.1 L673.4 89.7 L676.1 90.3 L678.7 91.0 L681.4 91.6 L684.1 92.2 L686.7 92.8 L689.4 93.5 L692.0 94.1 L694.7 94.7 L697.4 95.4 L700.0 96.0 L702.7 96.6 L705.4 97.3 L708.0 97.9 L710.7 98.5 L713.4 99.2 L716.0 99.8 L718.7 100.5 L721.4 101.1 L724.0 101.8 L726.7 102.4 L729.3 103.0 L732.0 103.7 L734.7 104.3 L737.3 105.0 L740.0 105.6 L742.7 106.3 L745.3 107.0 L748.0 107.6 L750.7 108.3 L753.3 108.9 L756.0 109.6 L758.6 110.3 L761.3 110.9 L764.0 111.6 L766.6 112.3 L769.3 112.9 L772.0 113.6 L774.6 114.3 L777.3 115.0 L780.0 115.7 L782.6 116.3 L785.3 117.0 L787.9 117.7 L790.6 118.4 L793.3 119.1 L795.9 119.8 L798.6 120.5 L801.3 121.2 L803.9 121.9 L806.6 122.6 L809.3 123.3 L811.9 124.0 L814.6 124.7 L817.3 125.4 L819.9 126.1 L822.6 126.8 L825.2 127.5 L827.9 128.2 L830.6 129.0 L833.2 129.7 L835.9 130.4 L838.6 131.1 L841.2 131.8 L843.9 132.5 L846.6 133.3 L849.2 134.0 L851.9 134.7 L854.5 135.4 L857.2 136.2 L859.9 136.9 L862.5 137.6 L865.2 138.4 L867.9 139.1 L870.5 139.8 L873.2 140.6 L875.9 141.3 L878.5 142.0 L881.2 142.8 L883.9 143.5 L886.5 144.2 L889.2 145.0 L891.8 145.7 L894.5 146.5 L897.2 147.2 L899.8 148.0 L902.5 148.7 L905.2 149.5 L907.8 150.2 L910.5 151.0 L913.2 151.8 L915.8 152.5 L918.5 153.3 L921.1 154.1 L923.8 154.8 L926.5 155.6 L929.1 156.4 L931.8 157.1 L934.5 157.9 L937.1 158.7 L939.8 159.5 L942.5 160.2 L945.1 161.0 L947.8 161.8 L950.5 162.6 L953.1 163.4 L955.8 164.1 L958.4 164.9 L961.1 165.7 L963.8 166.5 L966.4 167.3 L969.1 168.1 L971.8 168.9 L974.4 169.7 L977.1 170.5 L979.8 171.3 L982.4 172.0 L985.1 172.8 L987.7 173.6 L990.4 174.4 L993.1 175.2 L995.7 176.0 L998.4 176.9 L1001.1 177.7 L1003.7 178.5 L1006.4 179.3 L1009.1 180.1 L1011.7 180.9 L1014.4 181.7 L1017.1 182.5 L1019.7 183.3 L1022.4 184.1 L1025.0 184.9 L1027.7 185.8 L1030.4 186.6 L1033.0 187.4 L1035.7 188.2 L1038.4 189.1 L1041.0 189.9 L1043.7 190.8 L1046.4 191.6 L1049.0 192.4 L1051.7 193.3 L1054.3 194.1 L1057.0 195.0 L1059.7 195.9 L1062.3 196.7 L1065.0 197.6 L1067.7 198.4 L1070.3 199.3 L1073.0 200.2 L1075.7 201.0 L1078.3 201.9 L1081.0 202.8 L1083.7 203.7 L1086.3 204.5 L1089.0 205.4 L1091.6 206.3 L1094.3 207.1 L1097.0 208.0 L1099.6 208.9 L1102.3 209.7 L1105.0 210.6 L1107.6 211.5 L1110.3 212.3 L1113.0 213.2 L1115.6 214.0 L1118.3 214.9 L1120.9 215.7 L1123.6 216.6 L1126.3 217.4 L1128.9 218.3 L1131.6 219.1 L1134.3 220.0 L1136.9 220.8 L1139.6 221.6 L1142.3 222.4 L1144.9 223.3 L1147.6 224.1 L1150.2 224.9 L1152.9 225.7 L1155.6 226.5 L1158.2 227.3 L1160.9 228.1 L1163.6 228.9 L1166.2 229.6 L1168.9 230.4 L1171.6 231.2 L1174.2 232.0 L1176.9 232.7 L1179.6 233.5 L1182.2 234.3 L1184.9 235.0 L1187.5 235.8 L1190.2 236.5 L1192.9 237.3 L1195.5 238.0 L1198.2 238.8 L1200.9 239.5 L1203.5 240.2 L1206.2 241.0 L1208.9 241.7 L1211.5 242.4 L1214.2 243.2 L1216.8 243.9 L1219.5 244.6 L1222.2 245.3 L1224.8 246.0 L1227.5 246.8 L1230.2 247.5 L1232.8 248.2 L1235.5 248.9 L1238.2 249.6 L1240.8 250.3"/>
<path d="M177.9 23.5 L180.6 23.5 L183.2 23.6 L185.9 23.6 L188.6 23.7 L191.2 23.8 L193.9 23.8 L196.5 23.9 L199.2 24.0 L201.9 24.1 L204.5 24.2 L207.2 24.2 L209.9 24.3 L212.5 24.4 L215.2 24.6 L217.9 24.7 L220.5 24.8 L223.2 24.9 L225.9 25.0 L228.5 25.1 L231.2 25.3 L233.8 25.4 L236.5 25.5 L239.2 25.7 L241.8 25.8 L244.5 26.0 L247.2 26.1 L249.8 26.3 L252.5 26.4 L255.2 26.6 L257.8 26.8 L260.5 26.9 L263.1 27.1 L265.8 27.3 L268.5 27.4 L271.1 27.6 L273.8 27.8 L276.5 28.0 L279.1 28.1 L281.8 28.3 L284.5 28.5 L287.1 28.7 L289.8 28.9 L292.5 29.1 L295.1 29.3 L297.8 29.5 L300.4 29.6 L303.1 29.8 L305.8 30.0 L308.4 30.2 L311.1 30.4 L313.8 30.6 L316.4 30.8 L319.1 31.0 L321.8 31.2 L324.4 31.5 L327.1 31.7 L329.7 31.9 L332.4 32.2 L335.1 32.4 L337.7 32.7 L340.4 32.9 L343.1 33.2 L345.7 33.5 L348.4 33.8 L351.1 34.0 L353.7 34.3 L356.4 34.6 L359.1 35.0 L361.7 35.3 L364.4 35.6 L367.0 35.9 L369.7 36.2 L372.4 36.6 L375.0 36.9 L377.7 37.3 L380.4 37.6 L383.0 38.0 L385.7 38.3 L388.4 38.7 L391.0 39.1 L393.7 39.4 L396.3 39.8 L399.0 40.2 L401.7 40.6 L404.3 41.0 L407.0 41.4 L409.7 41.7 L412.3 42.1 L415.0 42.5 L417.7 42.9 L420.3 43.3 L423.0 43.7 L425.6 44.1 L428.3 44.5 L431.0 44.9 L433.6 45.4 L436.3 45.8 L439.0 46.2 L441.6 46.6 L444.3 47.0 L447.0 47.4 L449.6 47.8 L452.3 48.2 L455.0 48.6 L457.6 49.0 L460.3 49.5 L462.9 49.9 L465.6 50.3 L468.3 50.7 L470.9 51.1 L473.6 51.6 L476.3 52.0 L478.9 52.4 L481.6 52.9 L484.3 53.3 L486.9 53.8 L489.6 54.2 L492.2 54.7 L494.9 55.1 L497.6 55.6 L500.2 56.1 L502.9 56.6 L505.6 57.0 L508.2 57.5 L510.9 58.0 L513.6 58.5 L516.2 59.0 L518.9 59.5 L521.6 60.0 L524.2 60.5 L526.9 61.0 L529.5 61.5 L532.2 62.0 L534.9 62.5 L537.5 63.0 L540.2 63.5 L542.9 64.0 L545.5 64.5 L548.2 65.1 L550.9 65.6 L553.5 66.1 L556.2 66.7 L558.8 67.2 L561.5 67.7 L564.2 68.3 L566.8 68.8 L569.5 69.4 L572.2 69.9 L574.8 70.4 L577.5 71.0 L580.2 71.5 L582.8 72.1 L585.5 72.7 L588.2 73.2 L590.8 73.8 L593.5 74.3 L596.1 74.9 L598.8 75.5 L601.5 76.0 L604.1 76.6 L606.8 77.2 L609.5 77.8 L612.1 78.3 L614.8 78.9 L617.5 79.5 L620.1 80.1 L622.8 80.7 L625.4 81.3 L628.1 81.9 L630.8 82.5 L633.4 83.2 L636.1 83.8 L638.8 84.4 L641.4 85.0 L644.1 85.7 L646.8 86.3 L649.4 86.9 L652.1 87.6 L654.8 88.2 L657.4 88.9 L660.1 89.5 L662.7 90.2 L665.4 90.8 L668.1 91.5 L670.7 92.2 L673.4 92.8 L676.1 93.5 L678.7 94.2 L681.4 94.8 L684.1 95.5 L686.7 96.2 L689.4 96.9 L692.0 97.5 L694.7 98.2 L697.4 98.9 L700.0 99.6 L702.7 100.3 L705.4 100.9 L708.0 101.6 L710.7 102.3 L713.4 103.0 L716.0 103.7 L718.7 104.4 L721.4 105.1 L724.0 105.8 L726.7 106.5 L729.3 107.2 L732.0 107.9 L734.7 108.5 L737.3 109.2 L740.0 109.9 L742.7 110.6 L745.3 111.3 L748.0 112.0 L750.7 112.7 L753.3 113.4 L756.0 114.1 L758.6 114.9 L761.3 115.6 L764.0 116.3 L766.6 117.0 L769.3 117.7 L772.0 118.4 L774.6 119.2 L777.3 119.9 L780.0 120.6 L782.6 121.3 L785.3 122.1 L787.9 122.8 L790.6 123.5 L793.3 124.3 L795.9 125.0 L798.6 125.8 L801.3 126.5 L803.9 127.3 L806.6 128.0 L809.3 128.7 L811.9 129.5 L814.6 130.2 L817.3 131.0 L819.9 131.8 L822.6 132.5 L825.2 133.3 L827.9 134.0 L830.6 134.8 L833.2 135.5 L835.9 136.3 L838.6 137.1 L841.2 137.8 L843.9 138.6 L846.6 139.4 L849.2 140.1 L851.9 140.9 L854.5 141.7 L857.2 142.4 L859.9 143.2 L862.5 144.0 L865.2 144.7 L867.9 145.5 L870.5 146.3 L873.2 147.0 L875.9 147.8 L878.5 148.6 L881.2 149.4 L883.9 150.1 L886.5 150.9 L889.2 151.7 L891.8 152.5 L894.5 153.3 L897.2 154.0 L899.8 154.8 L902.5 155.6 L905.2 156.4 L907.8 157.2 L910.5 158.0 L913.2 158.8 L915.8 159.6 L918.5 160.4 L921.1 161.2 L923.8 162.0 L926.5 162.8 L929.1 163.6 L931.8 164.4 L934.5 165.2 L937.1 166.0 L939.8 166.8 L942.5 167.6 L945.1 168.4 L947.8 169.2 L950.5 170.0 L953.1 170.9 L955.8 171.7 L958.4 172.5 L961.1 173.3 L963.8 174.1 L966.4 174.9 L969.1 175.7 L971.8 176.6 L974.4 177.4 L977.1 178.2 L979.8 179.0 L982.4 179.8 L985.1 180.6 L987.7 181.5 L990.4 182.3 L993.1 183.1 L995.7 183.9 L998.4 184.7 L1001.1 185.6 L1003.7 186.4 L1006.4 187.2 L1009.1 188.0 L1011.7 188.8 L1014.4 189.7 L1017.1 190.5 L1019.7 191.3 L1022.4 192.1 L1025.0 192.9 L1027.7 193.8 L1030.4 194.6 L1033.0 195.4 L1035.7 196.2 L1038.4 197.0 L1041.0 197.9 L1043.7 198.7 L1046.4 199.5 L1049.0 200.3 L1051.7 201.1 L1054.3 202.0 L1057.0 202.8 L1059.7 203.6 L1062.3 204.4 L1065.0 205.3 L1067.7 206.1 L1070.3 206.9 L1073.0 207.7 L1075.7 208.6 L1078.3 209.4 L1081.0 210.2 L1083.7 211.0 L1086.3 211.9 L1089.0 212.7 L1091.6 213.5 L1094.3 214.4 L1097.0 215.2 L1099.6 216.0 L1102.3 216.9 L1105.0 217.7 L1107.6 218.5 L1110.3 219.4 L1113.0 220.2 L1115.6 221.0 L1118.3 221.9 L1120.9 222.7 L1123.6 223.5 L1126.3 224.4 L1128.9 225.2 L1131.6 226.0 L1134.3 226.9 L1136.9 227.7 L1139.6 228.6 L1142.3 229.4 L1144.9 230.3 L1147.6 231.1 L1150.2 231.9 L1152.9 232.8 L1155.6 233.6 L1158.2 234.5 L1160.9 235.3 L1163.6 236.2 L1166.2 237.0 L1168.9 237.9 L1171.6 238.7 L1174.2 239.6 L1176.9 240.5 L1179.6 241.3 L1182.2 242.2 L1184.9 243.0 L1187.5 243.9 L1190.2 244.8 L1192.9 245.6 L1195.5 246.5 L1198.2 247.3 L1200.9 248.2 L1203.5 249.1 L1206.2 249.9 L1208.9 250.8 L1211.5 251.7 L1214.2 252.6 L1216.8 253.4 L1219.5 254.3 L1222.2 255.2 L1224.8 256.0 L1227.5 256.9 L1230.2 257.8 L1232.8 258.7 L1235.5 259.5 L1238.2 260.4 L1240.8 261.3"/>
</g>
<g fill="#fff" stroke="#000" stroke-width="1">
<rect x="173.8" y="19.1" width="8.1" height="8.8"/>
<rect x="314.5" y="23.4" width="8.1" height="8.8"/>
<rect x="455.2" y="34.3" width="8.1" height="8.8"/>
<rect x="595.9" y="51.2" width="8.1" height="8.8"/>
<rect x="736.6" y="73.5" width="8.1" height="8.8"/>
<rect x="877.3" y="97.3" width="8.1" height="8.8"/>
<rect x="1017.9" y="125.9" width="8.1" height="8.8"/>
<rect x="1158.6" y="155.1" width="8.1" height="8.8"/>
<rect x="173.8" y="19.1" width="8.1" height="8.8"/>
<rect x="314.5" y="24.1" width="8.1" height="8.8"/>
<rect x="455.2" y="36.9" width="8.1" height="8.8"/>
<rect x="595.9" y="57.1" width="8.1" height="8.8"/>
<rect x="736.6" y="81.4" width="8.1" height="8.8"/>
<rect x="877.3" y="108.5" width="8.1" height="8.8"/>
<rect x="1017.9" y="143.7" width="8.1" height="8.8"/>
<rect x="1158.6" y="181.9" width="8.1" height="8.8"/>
<rect x="173.8" y="19.1" width="8.1" height="8.8"/>
<rect x="314.5" y="24.8" width="8.1" height="8.8"/>
<rect x="455.2" y="39.4" width="8.1" height="8.8"/>
<rect x="595.9" y="61.3" width="8.1" height="8.8"/>
<rect x="736.6" y="88.6" width="8.1" height="8.8"/>
<rect x="877.3" y="120.4" width="8.1" height="8.8"/>
<rect x="1017.9" y="157.4" width="8.1" height="8.8"/>
<rect x="1158.6" y="194.0" width="8.1" height="8.8"/>
<rect x="173.8" y="19.1" width="8.1" height="8.8"/>
<rect x="314.5" y="25.4" width="8.1" height="8.8"/>
<rect x="455.2" y="41.4" width="8.1" height="8.8"/>
<rect x="595.9" y="65.3" width="8.1" height="8.8"/>
<rect x="736.6" y="96.4" width="8.1" height="8.8"/>
<rect x="877.3" y="131.0" width="8.1" height="8.8"/>
<rect x="1017.9" y="170.5" width="8.1" height="8.8"/>
<rect x="1158.6" y="215.0" width="8.1" height="8.8"/>
<rect x="173.8" y="19.1" width="8.1" height="8.8"/>
<rect x="314.5" y="26.0" width="8.1" height="8.8"/>
<rect x="455.2" y="43.1" width="8.1" height="8.8"/>
<rect x="595.9" y="69.2" width="8.1" height="8.8"/>
<rect x="736.6" y="101.4" width="8.1" height="8.8"/>
<rect x="877.3" y="138.4" width="8.1" height="8.8"/>
<rect x="1017.9" y="179.6" width="8.1" height="8.8"/>
<rect x="1158.6" y="224.2" width="8.1" height="8.8"/>
<rect x="173.8" y="19.1" width="8.1" height="8.8"/>
<rect x="314.5" y="26.6" width="8.1" height="8.8"/>
<rect x="455.2" y="44.9" width="8.1" height="8.8"/>
<rect x="595.9" y="71.3" width="8.1" height="8.8"/>
<rect x="736.6" y="105.7" width="8.1" height="8.8"/>
<rect x="877.3" y="145.0" width="8.1" height="8.8"/>
<rect x="1017.9" y="187.6" width="8.1" height="8.8"/>
<rect x="1158.6" y="231.5" width="8.1" height="8.8"/>
</g>
<g stroke="#00f" stroke-width="4.7">
<path d="M177.9 23.5L179.9 23.5L182.0 23.5L184.0 23.5L186.1 23.6M195.2 23.7L197.6 23.7L200.0 23.8L202.3 23.8L204.7 23.9M213.8 24.2L216.2 24.2L218.6 24.3L221.0 24.4L223.4 24.5M232.5 24.8L234.9 24.9L237.2 25.0L239.6 25.1L242.0 25.2M251.1 25.6L253.5 25.7L255.9 25.8L258.3 26.0L260.7 26.1M269.8 26.7L272.2 26.8L274.6 27.0L276.9 27.2L279.3 27.4M288.4 28.2L290.8 28.4L293.2 28.6L295.6 28.8L298.0 29.0M307.1 29.9L309.5 30.2L311.9 30.4L314.2 30.6L316.6 30.9M325.7 31.8L328.1 32.0L330.5 32.3L332.9 32.5L335.3 32.8M344.4 33.8L346.8 34.0L349.2 34.3L351.5 34.6L353.9 34.9M363.0 35.9L365.4 36.2L367.8 36.5L370.2 36.8L372.6 37.1M381.7 38.3L384.1 38.6L386.5 38.9L388.8 39.2L391.2 39.6M400.3 40.8L402.7 41.1L405.1 41.5L407.5 41.8L409.9 42.1M419.0 43.4L421.4 43.8L423.8 44.1L426.1 44.5L428.5 44.8M437.7 46.2L440.0 46.6L442.4 46.9L444.8 47.3L447.1 47.7M456.3 49.2L458.7 49.6L461.1 50.0L463.4 50.4L465.8 50.8M475.0 52.4L477.3 52.8L479.7 53.2L482.1 53.6L484.4 54.1M493.6 55.7L496.0 56.2L498.3 56.6L500.7 57.0L503.1 57.5M512.3 59.2L514.6 59.7L517.0 60.2L519.4 60.6L521.7 61.1M530.9 63.0L533.3 63.4L535.6 63.9L538.0 64.4L540.3 64.9M549.6 66.9L552.0 67.4L554.3 67.9L556.6 68.4L559.0 68.9M568.3 70.9L570.6 71.4L572.9 71.9L575.3 72.5L577.6 73.0M586.9 75.0L589.3 75.6L591.6 76.1L593.9 76.6L596.3 77.1M605.6 79.2L607.9 79.8L610.2 80.3L612.6 80.8L614.9 81.4M624.2 83.5L626.6 84.0L628.9 84.5L631.2 85.1L633.6 85.6M642.9 87.8L645.2 88.3L647.5 88.9L649.9 89.4L652.2 90.0M661.5 92.2L663.9 92.7L666.2 93.3L668.5 93.8L670.9 94.4M680.2 96.7L682.5 97.3L684.8 97.8L687.2 98.4L689.5 99.0M698.8 101.4L701.2 102.0L703.5 102.5L705.8 103.1L708.1 103.7M717.5 106.2L719.8 106.8L722.1 107.4L724.5 108.1L726.8 108.7M736.2 111.3L738.5 111.9L740.8 112.5L743.1 113.2L745.4 113.9M754.9 116.6L757.2 117.3L759.4 118.0L761.7 118.7L764.0 119.4M773.5 122.3L775.8 123.0L778.1 123.7L780.4 124.5L782.7 125.2M792.2 128.3L794.5 129.0L796.7 129.8L799.0 130.5L801.3 131.3M810.9 134.5L813.1 135.2L815.4 136.0L817.7 136.8L819.9 137.5M829.5 140.8L831.8 141.6L834.0 142.3L836.3 143.1L838.6 143.9M848.2 147.2L850.4 148.0L852.7 148.8L855.0 149.5L857.2 150.3M866.8 153.6L869.1 154.4L871.3 155.1L873.6 155.9L875.9 156.7M885.4 159.9L887.7 160.6L890.0 161.4L892.3 162.2L894.6 162.9M904.1 166.1L906.4 166.8L908.6 167.6L910.9 168.3L913.2 169.1M922.7 172.2L925.0 172.9L927.3 173.7L929.6 174.4L931.9 175.2M941.4 178.3L943.7 179.1L945.9 179.8L948.2 180.6L950.5 181.3M960.0 184.5L962.3 185.3L964.6 186.0L966.9 186.8L969.1 187.6M978.7 190.8L981.0 191.6L983.2 192.4L985.5 193.2L987.8 194.0M997.4 197.3L999.6 198.2L1001.9 199.0L1004.2 199.8L1006.4 200.6M1016.1 204.1L1018.3 205.0L1020.5 205.8L1022.8 206.6L1025.0 207.5M1034.7 211.2L1037.0 212.0L1039.2 212.9L1041.4 213.8L1043.7 214.6M1053.4 218.5L1055.6 219.4L1057.8 220.3L1060.1 221.2L1062.3 222.1M1072.1 226.1L1074.3 227.0L1076.5 227.9L1078.7 228.8L1080.9 229.8M1090.7 233.9L1092.9 234.9L1095.1 235.8L1097.4 236.8L1099.5 237.8M1109.4 242.1L1111.6 243.1L1113.8 244.1L1116.0 245.1L1118.2 246.1M1128.1 250.5L1130.3 251.4L1132.4 252.4L1134.6 253.4L1136.8 254.3M1146.7 258.6L1148.9 259.6L1151.1 260.6L1153.3 261.5L1155.5 262.5M1165.4 267.0L1167.6 268.0L1169.7 269.1L1171.9 270.1L1174.1 271.1M1184.1 276.2L1186.3 277.3L1188.4 278.4L1190.5 279.5L1192.6 280.7M1202.9 286.5L1205.0 287.8L1207.0 289.0L1209.1 290.3L1211.1 291.6M1221.9 298.7L1223.8 300.1L1225.7 301.6L1227.5 303.1L1229.3 304.7"/>
<path d="M177.9 23.5L179.9 23.5L182.0 23.5L184.0 23.5L186.1 23.6M195.2 23.7L197.6 23.8L199.9 23.8L202.3 23.9L204.7 24.0M213.8 24.3L216.2 24.4L218.6 24.4L221.0 24.5L223.4 24.6M232.5 25.1L234.9 25.2L237.2 25.3L239.6 25.4L242.0 25.5M251.1 26.0L253.5 26.1L255.9 26.2L258.3 26.4L260.7 26.5M269.8 27.2L272.2 27.4L274.6 27.6L276.9 27.8L279.3 28.0M288.4 28.9L290.8 29.2L293.2 29.4L295.6 29.7L298.0 29.9M307.1 31.0L309.5 31.2L311.9 31.5L314.2 31.8L316.6 32.1M325.7 33.2L328.1 33.4L330.5 33.7L332.9 34.0L335.3 34.3M344.4 35.4L346.8 35.7L349.2 36.1L351.5 36.4L353.9 36.7M363.0 38.0L365.4 38.3L367.8 38.6L370.2 39.0L372.6 39.3M381.7 40.7L384.1 41.1L386.5 41.4L388.8 41.8L391.2 42.1M400.4 43.6L402.7 44.0L405.1 44.4L407.5 44.7L409.8 45.1M419.0 46.7L421.4 47.1L423.8 47.5L426.1 47.9L428.5 48.3M437.7 49.9L440.0 50.3L442.4 50.7L444.8 51.2L447.1 51.6M456.3 53.4L458.7 53.8L461.1 54.3L463.4 54.7L465.8 55.2M475.0 57.1L477.3 57.5L479.7 58.0L482.0 58.5L484.4 59.0M493.7 61.0L496.0 61.5L498.3 62.0L500.7 62.5L503.0 63.0M512.3 65.0L514.7 65.6L517.0 66.1L519.3 66.6L521.7 67.2M531.0 69.3L533.3 69.9L535.6 70.4L538.0 71.0L540.3 71.5M549.6 73.8L552.0 74.4L554.3 75.0L556.6 75.6L559.0 76.1M568.3 78.5L570.6 79.1L572.9 79.7L575.3 80.3L577.6 80.9M587.0 83.4L589.3 84.0L591.6 84.6L593.9 85.2L596.2 85.9M605.6 88.4L607.9 89.0L610.2 89.7L612.6 90.3L614.9 91.0M624.3 93.6L626.6 94.3L628.9 94.9L631.2 95.6L633.5 96.3M642.9 99.0L645.2 99.7L647.5 100.3L649.9 101.0L652.2 101.7M661.6 104.5L663.9 105.2L666.2 105.9L668.5 106.6L670.8 107.3M680.3 110.2L682.6 110.9L684.8 111.6L687.1 112.3L689.4 113.0M698.9 116.0L701.2 116.7L703.5 117.5L705.8 118.2L708.1 118.9M717.6 121.9L719.9 122.7L722.1 123.4L724.4 124.1L726.7 124.9M736.2 128.0L738.5 128.7L740.8 129.5L743.1 130.2L745.4 131.0M754.9 134.1L757.2 134.9L759.4 135.7L761.7 136.4L764.0 137.2M773.6 140.5L775.8 141.3L778.1 142.0L780.4 142.8L782.6 143.6M792.2 147.0L794.5 147.8L796.7 148.6L799.0 149.4L801.3 150.2M810.9 153.6L813.1 154.4L815.4 155.3L817.7 156.1L819.9 156.9M829.5 160.4L831.8 161.2L834.0 162.1L836.3 162.9L838.6 163.7M848.2 167.3L850.5 168.2L852.7 169.0L854.9 169.8L857.2 170.7M866.9 174.3L869.1 175.2L871.3 176.0L873.6 176.9L875.8 177.7M885.5 181.4L887.8 182.2L890.0 183.1L892.2 183.9L894.5 184.8M904.2 188.5L906.4 189.3L908.6 190.2L910.9 191.1L913.1 191.9M922.8 195.6L925.1 196.5L927.3 197.4L929.5 198.2L931.8 199.1M941.5 202.9L943.7 203.8L945.9 204.6L948.2 205.5L950.4 206.4M960.1 210.3L962.4 211.2L964.6 212.1L966.8 213.0L969.0 213.9M978.8 217.9L981.0 218.8L983.2 219.8L985.5 220.7L987.7 221.6M997.5 225.8L999.7 226.8L1001.9 227.7L1004.1 228.7L1006.3 229.7M1016.2 234.1L1018.4 235.1L1020.5 236.1L1022.7 237.1L1024.9 238.1M1034.8 242.6L1037.0 243.6L1039.2 244.6L1041.4 245.6L1043.6 246.6M1053.5 251.1L1055.7 252.1L1057.8 253.1L1060.0 254.1L1062.2 255.1M1072.2 259.7L1074.3 260.8L1076.5 261.8L1078.7 262.8L1080.8 263.9M1090.8 268.7L1093.0 269.7L1095.1 270.8L1097.3 271.9L1099.4 272.9M1109.5 278.0L1111.7 279.1L1113.8 280.3L1115.9 281.4L1118.0 282.5M1128.2 288.0L1130.4 289.1L1132.4 290.3L1134.5 291.5L1136.6 292.6M1147.0 298.6L1149.0 299.8L1151.1 301.1L1153.2 302.3L1155.2 303.5M1165.7 310.1L1167.7 311.4L1169.7 312.7L1171.8 314.0L1173.8 315.3M1184.5 322.6L1186.4 323.9L1188.4 325.3L1190.3 326.7L1192.2 328.2M1203.6 338.3L1205.3 339.9L1207.0 341.6L1208.8 343.3L1210.5 344.9M1221.5 356.5L1223.1 358.3L1224.7 360.1L1226.2 362.0L1227.7 363.8M1236.2 374.9L1237.3 376.5L1238.5 378.2L1239.7 379.8L1240.8 381.5"/>
<path d="M177.9 23.5L179.9 23.5L182.0 23.5L184.0 23.5L186.1 23.6M195.2 23.7L197.6 23.8L199.9 23.9L202.3 23.9L204.7 24.0M213.8 24.4L216.2 24.5L218.6 24.6L221.0 24.7L223.4 24.8M232.5 25.3L234.9 25.4L237.2 25.5L239.6 25.7L242.0 25.8M251.1 26.3L253.5 26.4L255.9 26.6L258.3 26.8L260.7 26.9M269.8 27.7L272.2 27.9L274.6 28.1L276.9 28.4L279.3 28.6M288.4 29.7L290.8 29.9L293.2 30.2L295.6 30.5L298.0 30.8M307.1 32.0L309.5 32.3L311.9 32.6L314.2 33.0L316.6 33.3M325.7 34.5L328.1 34.8L330.5 35.1L332.9 35.5L335.3 35.8M344.4 37.1L346.8 37.4L349.2 37.8L351.5 38.2L353.9 38.5M363.1 40.0L365.4 40.4L367.8 40.7L370.2 41.1L372.5 41.5M381.7 43.1L384.1 43.5L386.5 43.9L388.8 44.3L391.2 44.7M400.4 46.4L402.7 46.8L405.1 47.3L407.5 47.7L409.8 48.1M419.0 49.9L421.4 50.3L423.8 50.8L426.1 51.2L428.5 51.7M437.7 53.6L440.1 54.0L442.4 54.5L444.7 55.0L447.1 55.5M456.4 57.5L458.7 58.0L461.1 58.6L463.4 59.1L465.7 59.6M475.0 61.7L477.4 62.3L479.7 62.8L482.0 63.4L484.4 63.9M493.7 66.2L496.0 66.8L498.3 67.3L500.7 67.9L503.0 68.5M512.4 70.8L514.7 71.4L517.0 72.0L519.3 72.6L521.6 73.2M531.0 75.7L533.3 76.4L535.6 77.0L538.0 77.6L540.3 78.3M549.7 80.9L552.0 81.5L554.3 82.2L556.6 82.8L558.9 83.5M568.3 86.2L570.6 86.9L572.9 87.6L575.3 88.2L577.6 88.9M587.0 91.7L589.3 92.4L591.6 93.1L593.9 93.8L596.2 94.5M605.7 97.4L608.0 98.1L610.2 98.8L612.5 99.5L614.8 100.2M624.3 103.2L626.6 103.9L628.9 104.6L631.2 105.3L633.5 106.1M643.0 109.1L645.3 109.8L647.5 110.6L649.8 111.3L652.1 112.1M661.6 115.2L663.9 115.9L666.2 116.7L668.5 117.4L670.8 118.2M680.3 121.4L682.6 122.2L684.8 123.0L687.1 123.8L689.4 124.5M699.0 127.9L701.2 128.7L703.5 129.5L705.8 130.3L708.0 131.1M717.6 134.5L719.9 135.3L722.1 136.2L724.4 137.0L726.7 137.8M736.3 141.4L738.6 142.2L740.8 143.1L743.0 143.9L745.3 144.8M755.0 148.5L757.2 149.4L759.4 150.2L761.7 151.1L763.9 152.0M773.6 155.9L775.9 156.8L778.1 157.7L780.3 158.6L782.5 159.5M792.3 163.5L794.5 164.4L796.7 165.4L799.0 166.3L801.2 167.2M811.0 171.4L813.2 172.3L815.4 173.3L817.6 174.3L819.8 175.2M829.7 179.5L831.9 180.5L834.0 181.5L836.2 182.5L838.4 183.4M848.3 187.9L850.5 188.9L852.7 189.9L854.9 190.9L857.1 191.9M867.0 196.5L869.2 197.6L871.3 198.6L873.5 199.6L875.7 200.6M885.7 205.4L887.8 206.4L890.0 207.5L892.2 208.5L894.3 209.6M904.3 214.5L906.5 215.5L908.6 216.6L910.8 217.7L912.9 218.8M923.0 223.9L925.2 225.0L927.3 226.1L929.4 227.2L931.6 228.3M941.7 233.6L943.8 234.7L945.9 235.9L948.1 237.0L950.2 238.1M960.4 243.7L962.5 244.9L964.6 246.1L966.7 247.2L968.8 248.4M979.1 254.3L981.2 255.5L983.2 256.7L985.3 258.0L987.4 259.2M997.8 265.4L999.9 266.7L1001.9 268.0L1003.9 269.2L1006.0 270.5M1016.5 277.2L1018.5 278.5L1020.5 279.8L1022.6 281.1L1024.6 282.4M1035.2 289.6L1037.2 290.9L1039.2 292.3L1041.2 293.7L1043.2 295.0M1053.9 302.6L1055.9 304.0L1057.8 305.4L1059.8 306.8L1061.7 308.2M1072.6 316.1L1074.6 317.5L1076.5 319.0L1078.4 320.4L1080.4 321.8M1091.3 330.1L1093.2 331.5L1095.1 332.9L1097.1 334.4L1099.0 335.9M1110.0 344.3L1111.9 345.8L1113.8 347.2L1115.7 348.7L1117.6 350.2M1128.7 358.8L1130.6 360.3L1132.4 361.8L1134.3 363.2L1136.2 364.7M1147.3 373.5L1149.2 374.9L1151.1 376.4L1153.0 377.9L1154.9 379.4M1166.0 388.2L1167.9 389.7L1169.7 391.2L1171.6 392.7L1173.5 394.2M1184.7 403.6L1186.6 405.1L1188.4 406.6L1190.2 408.2L1192.1 409.7M1203.3 419.0L1205.2 420.5L1207.0 422.0L1208.9 423.5L1210.8 425.0M1221.9 433.5L1223.8 435.0L1225.7 436.4L1227.6 437.9L1229.5 439.4"/>
<path d="M177.9 23.5L179.9 23.5L182.0 23.5L184.0 23.5L186.1 23.6M195.2 23.8L197.6 23.8L200.0 23.9L202.3 24.0L204.7 24.1M213.8 24.4L216.2 24.6L218.6 24.7L221.0 24.8L223.4 24.9M232.5 25.4L234.9 25.6L237.2 25.7L239.6 25.8L242.0 26.0M251.1 26.6L253.5 26.7L255.9 26.9L258.3 27.0L260.7 27.2M269.8 28.1L272.2 28.3L274.6 28.5L276.9 28.8L279.3 29.1M288.4 30.2L290.8 30.5L293.2 30.8L295.6 31.1L298.0 31.5M307.1 32.7L309.5 33.1L311.9 33.4L314.2 33.8L316.6 34.1M325.7 35.5L328.1 35.8L330.5 36.1L332.9 36.5L335.2 36.9M344.4 38.3L346.8 38.7L349.2 39.0L351.5 39.4L353.9 39.8M363.1 41.4L365.4 41.8L367.8 42.2L370.2 42.7L372.5 43.1M381.7 44.8L384.1 45.2L386.5 45.7L388.8 46.1L391.2 46.6M400.4 48.4L402.7 48.9L405.1 49.3L407.5 49.8L409.8 50.3M419.1 52.2L421.4 52.7L423.8 53.1L426.1 53.6L428.4 54.1M437.7 56.1L440.1 56.7L442.4 57.2L444.7 57.7L447.1 58.3M456.4 60.5L458.7 61.0L461.1 61.6L463.4 62.2L465.7 62.7M475.0 65.1L477.4 65.6L479.7 66.2L482.0 66.8L484.3 67.4M493.7 69.9L496.0 70.5L498.3 71.1L500.7 71.7L503.0 72.4M512.4 74.9L514.7 75.6L517.0 76.2L519.3 76.9L521.6 77.5M531.0 80.3L533.3 81.0L535.6 81.7L537.9 82.4L540.2 83.0M549.7 85.9L552.0 86.6L554.3 87.3L556.6 88.1L558.9 88.8M568.4 91.8L570.7 92.5L572.9 93.2L575.2 93.9L577.5 94.6M587.0 97.7L589.3 98.4L591.6 99.1L593.9 99.9L596.2 100.6M605.7 103.6L608.0 104.3L610.2 105.1L612.5 105.8L614.8 106.5M624.3 109.6L626.6 110.3L628.9 111.0L631.2 111.8L633.5 112.5M643.0 115.6L645.3 116.3L647.5 117.1L649.8 117.8L652.1 118.6M661.6 121.7L663.9 122.5L666.2 123.2L668.5 124.0L670.8 124.7M680.3 128.0L682.6 128.8L684.8 129.5L687.1 130.3L689.4 131.1M699.0 134.5L701.2 135.3L703.5 136.1L705.8 136.9L708.0 137.7M717.7 141.2L719.9 142.1L722.1 142.9L724.4 143.8L726.6 144.6M736.3 148.3L738.6 149.2L740.8 150.1L743.0 150.9L745.3 151.8M755.0 155.8L757.2 156.7L759.4 157.6L761.7 158.6L763.9 159.5M773.7 163.7L775.9 164.7L778.1 165.6L780.3 166.6L782.5 167.6M792.4 172.0L794.6 173.0L796.7 174.0L798.9 175.0L801.1 176.0M811.1 180.6L813.2 181.6L815.4 182.6L817.6 183.7L819.7 184.7M829.7 189.5L831.9 190.5L834.0 191.6L836.2 192.6L838.4 193.6M848.4 198.5L850.5 199.6L852.7 200.6L854.9 201.7L857.0 202.8M867.0 207.7L869.2 208.8L871.3 209.8L873.5 210.9L875.7 212.0M885.7 217.0L887.9 218.0L890.0 219.1L892.1 220.2L894.3 221.2M904.4 226.3L906.5 227.4L908.6 228.5L910.8 229.6L912.9 230.7M923.1 236.0L925.2 237.1L927.3 238.2L929.4 239.3L931.5 240.5M941.7 245.9L943.8 247.1L945.9 248.2L948.1 249.4L950.2 250.6M960.4 256.3L962.5 257.4L964.6 258.6L966.7 259.8L968.8 261.0M979.1 266.9L981.2 268.1L983.2 269.3L985.3 270.5L987.4 271.7M997.8 277.7L999.8 278.9L1001.9 280.1L1004.0 281.3L1006.0 282.5M1016.4 288.6L1018.5 289.8L1020.5 291.1L1022.6 292.3L1024.7 293.5M1035.1 299.8L1037.2 301.1L1039.2 302.3L1041.2 303.6L1043.3 304.8M1053.8 311.3L1055.8 312.6L1057.8 313.8L1059.9 315.1L1061.9 316.4M1072.5 323.1L1074.5 324.4L1076.5 325.7L1078.5 327.0L1080.5 328.3M1091.1 335.2L1093.1 336.5L1095.1 337.8L1097.1 339.2L1099.1 340.5M1109.8 347.7L1111.8 349.1L1113.8 350.4L1115.8 351.8L1117.8 353.1M1128.5 360.6L1130.5 362.0L1132.4 363.4L1134.4 364.8L1136.3 366.2M1147.3 374.8L1149.2 376.2L1151.1 377.7L1153.0 379.2L1154.9 380.7M1166.3 390.0L1168.0 391.7L1169.6 393.4L1171.1 395.3L1172.6 397.2M1179.9 408.1L1181.3 410.1L1182.6 412.1L1183.9 414.1L1185.3 416.0M1193.5 426.9L1195.0 428.8L1196.4 430.7L1197.8 432.7L1199.2 434.6M1206.1 445.3L1207.3 447.3L1208.5 449.4L1209.8 451.4L1211.0 453.5M1216.8 463.8L1217.9 465.9L1219.0 468.0L1220.2 470.2L1221.3 472.3M1226.4 482.4L1227.5 484.5L1228.5 486.7L1229.6 488.8L1230.6 491.0M1235.5 501.0L1236.5 503.2L1237.6 505.3L1238.6 507.5L1239.7 509.6"/>
<path d="M177.9 23.5L179.9 23.5L182.0 23.5L184.0 23.5L186.1 23.6M195.2 23.8L197.6 23.9L200.0 23.9L202.3 24.0L204.7 24.1M213.8 24.5L216.2 24.7L218.6 24.8L221.0 24.9L223.4 25.1M232.5 25.6L234.9 25.8L237.2 25.9L239.6 26.1L242.0 26.2M251.1 26.9L253.5 27.0L255.9 27.2L258.3 27.4L260.7 27.6M269.8 28.5L272.2 28.8L274.6 29.0L276.9 29.3L279.3 29.6M288.4 30.9L290.8 31.2L293.2 31.5L295.6 31.9L297.9 32.3M307.1 33.7L309.5 34.0L311.9 34.4L314.2 34.8L316.6 35.2M325.8 36.6L328.1 37.0L330.5 37.4L332.9 37.8L335.2 38.2M344.4 39.7L346.8 40.2L349.2 40.6L351.5 41.0L353.9 41.4M363.1 43.2L365.4 43.6L367.8 44.1L370.2 44.6L372.5 45.0M381.8 46.9L384.1 47.4L386.5 47.9L388.8 48.4L391.1 48.9M400.4 50.9L402.8 51.4L405.1 51.9L407.4 52.4L409.8 52.9M419.1 55.0L421.4 55.6L423.8 56.1L426.1 56.6L428.4 57.2M437.7 59.4L440.1 60.0L442.4 60.5L444.7 61.1L447.1 61.7M456.4 64.1L458.7 64.7L461.1 65.4L463.4 66.0L465.7 66.6M475.1 69.2L477.4 69.8L479.7 70.5L482.0 71.1L484.3 71.8M493.7 74.5L496.0 75.2L498.3 75.8L500.7 76.5L503.0 77.2M512.4 80.0L514.7 80.7L517.0 81.4L519.3 82.1L521.6 82.9M531.1 85.9L533.4 86.6L535.6 87.3L537.9 88.1L540.2 88.8M549.8 92.0L552.0 92.8L554.3 93.5L556.6 94.3L558.8 95.1M568.4 98.4L570.7 99.2L572.9 100.0L575.2 100.8L577.5 101.6M587.1 105.0L589.3 105.8L591.6 106.6L593.9 107.5L596.1 108.3M605.8 111.9L608.0 112.7L610.2 113.6L612.5 114.4L614.7 115.3M624.4 119.0L626.7 119.9L628.9 120.7L631.1 121.6L633.4 122.5M643.1 126.3L645.3 127.2L647.5 128.1L649.8 129.0L652.0 129.9M661.8 133.9L664.0 134.8L666.2 135.7L668.4 136.6L670.6 137.6M680.4 141.7L682.6 142.6L684.8 143.5L687.1 144.5L689.3 145.4M699.1 149.6L701.3 150.6L703.5 151.5L705.7 152.5L707.9 153.4M717.8 157.8L720.0 158.7L722.1 159.7L724.3 160.7L726.5 161.7M736.4 166.1L738.6 167.1L740.8 168.1L743.0 169.1L745.2 170.1M755.1 174.7L757.3 175.7L759.4 176.7L761.6 177.8L763.8 178.8M773.8 183.6L775.9 184.7L778.1 185.7L780.3 186.8L782.4 187.8M792.5 192.9L794.6 193.9L796.7 195.0L798.9 196.1L801.0 197.2M811.1 202.3L813.3 203.4L815.4 204.5L817.5 205.6L819.7 206.7M829.8 211.9L831.9 213.0L834.0 214.1L836.2 215.2L838.3 216.3M848.4 221.6L850.6 222.7L852.7 223.8L854.8 224.9L857.0 226.0M867.1 231.3L869.2 232.4L871.3 233.5L873.5 234.6L875.6 235.7M885.7 240.9L887.9 242.0L890.0 243.1L892.1 244.2L894.3 245.3M904.4 250.4L906.5 251.5L908.6 252.5L910.8 253.6L912.9 254.7M923.0 259.9L925.2 261.0L927.3 262.1L929.4 263.2L931.5 264.3M941.8 269.9L943.9 271.0L945.9 272.2L948.0 273.4L950.1 274.6M960.4 280.5L962.5 281.7L964.6 282.9L966.7 284.1L968.8 285.3M979.1 291.2L981.2 292.4L983.2 293.6L985.3 294.8L987.4 296.0M997.8 302.0L999.8 303.2L1001.9 304.5L1004.0 305.7L1006.0 306.9M1016.5 313.2L1018.5 314.5L1020.5 315.7L1022.6 317.0L1024.6 318.3M1035.2 324.9L1037.2 326.2L1039.2 327.6L1041.2 328.9L1043.2 330.2M1053.9 337.4L1055.9 338.7L1057.8 340.1L1059.8 341.4L1061.8 342.8M1072.6 350.6L1074.6 352.0L1076.5 353.5L1078.4 354.9L1080.3 356.3M1091.4 364.9L1093.3 366.4L1095.1 367.9L1097.0 369.4L1098.9 370.9M1110.2 380.4L1112.0 381.9L1113.8 383.5L1115.6 385.1L1117.3 386.8M1127.9 398.5L1129.5 400.2L1131.1 402.0L1132.8 403.7L1134.5 405.4M1146.1 417.0L1147.8 418.8L1149.4 420.5L1151.0 422.3L1152.6 424.1M1162.0 435.5L1163.5 437.3L1165.0 439.2L1166.5 441.1L1168.0 442.9M1176.7 454.0L1178.2 455.9L1179.6 457.8L1180.9 459.8L1182.3 461.8M1188.8 472.4L1190.0 474.4L1191.3 476.5L1192.6 478.5L1193.9 480.6M1200.4 491.0L1201.6 493.0L1202.8 495.1L1203.9 497.3L1205.0 499.4M1209.8 509.5L1210.8 511.6L1211.8 513.8L1212.9 515.9L1214.0 518.1M1218.7 528.0L1219.6 530.2L1220.5 532.4L1221.3 534.7L1222.1 537.0M1225.1 546.5L1225.8 548.8L1226.5 551.1L1227.2 553.4L1227.9 555.7M1230.5 565.2L1231.2 567.5L1232.0 569.7L1232.8 572.0L1233.6 574.3M1237.2 584.0L1238.1 586.0L1238.9 588.0L1239.9 590.0L1240.8 592.0"/>
<path d="M177.9 23.5L179.9 23.5L182.0 23.5L184.0 23.6L186.1 23.6M195.2 23.8L197.6 23.9L199.9 24.0L202.3 24.1L204.7 24.2M213.8 24.6L216.2 24.8L218.6 24.9L221.0 25.0L223.4 25.2M232.5 25.8L234.9 25.9L237.2 26.1L239.6 26.3L242.0 26.4M251.1 27.1L253.5 27.3L255.9 27.5L258.3 27.7L260.7 27.9M269.8 28.9L272.2 29.2L274.6 29.5L276.9 29.8L279.3 30.1M288.5 31.4L290.8 31.8L293.2 32.1L295.6 32.5L297.9 32.9M307.1 34.4L309.5 34.8L311.9 35.2L314.2 35.6L316.6 36.0M325.8 37.6L328.1 38.0L330.5 38.4L332.9 38.8L335.2 39.3M344.4 41.0L346.8 41.4L349.2 41.9L351.5 42.3L353.9 42.8M363.1 44.6L365.5 45.1L367.8 45.6L370.1 46.1L372.5 46.6M381.8 48.6L384.1 49.2L386.5 49.7L388.8 50.2L391.1 50.8M400.4 52.9L402.8 53.5L405.1 54.0L407.4 54.6L409.8 55.1M419.1 57.4L421.4 57.9L423.8 58.5L426.1 59.1L428.4 59.7M437.8 62.1L440.1 62.7L442.4 63.3L444.7 63.9L447.0 64.6M456.4 67.2L458.7 67.8L461.1 68.5L463.4 69.2L465.7 69.8M475.1 72.6L477.4 73.3L479.7 74.0L482.0 74.7L484.3 75.4M493.8 78.3L496.1 79.0L498.3 79.8L500.6 80.5L502.9 81.2M512.4 84.3L514.7 85.0L517.0 85.8L519.3 86.5L521.6 87.3M531.1 90.5L533.4 91.3L535.6 92.1L537.9 92.9L540.2 93.7M549.8 97.1L552.0 97.9L554.3 98.7L556.6 99.6L558.8 100.4M568.5 104.0L570.7 104.8L572.9 105.7L575.2 106.5L577.4 107.4M587.1 111.1L589.4 112.0L591.6 112.9L593.8 113.7L596.1 114.6M605.8 118.5L608.0 119.4L610.2 120.3L612.5 121.2L614.7 122.1M624.5 126.0L626.7 126.9L628.9 127.8L631.1 128.7L633.3 129.7M643.1 133.8L645.3 134.7L647.5 135.6L649.8 136.6L652.0 137.5M661.8 141.8L664.0 142.7L666.2 143.7L668.4 144.6L670.6 145.6M680.5 150.1L682.7 151.1L684.8 152.1L687.0 153.1L689.2 154.1M699.2 158.7L701.3 159.8L703.5 160.8L705.7 161.8L707.8 162.9M717.9 167.8L720.0 168.9L722.1 170.0L724.3 171.0L726.4 172.1M736.6 177.4L738.7 178.5L740.8 179.6L742.9 180.7L745.0 181.9M755.3 187.5L757.4 188.7L759.4 189.9L761.5 191.1L763.6 192.3M774.0 198.6L776.1 199.8L778.1 201.1L780.1 202.3L782.2 203.6M792.7 210.3L794.7 211.6L796.7 212.9L798.8 214.2L800.8 215.5M811.4 222.5L813.4 223.8L815.4 225.2L817.4 226.5L819.4 227.8M830.1 235.1L832.1 236.5L834.0 237.8L836.0 239.2L838.0 240.5M848.8 248.0L850.7 249.3L852.7 250.7L854.7 252.1L856.6 253.4M867.4 260.9L869.4 262.3L871.3 263.7L873.3 265.0L875.3 266.4M886.0 273.8L888.0 275.2L890.0 276.5L892.0 277.9L894.0 279.3M904.8 287.0L906.8 288.4L908.6 289.9L910.5 291.4L912.4 292.9M923.7 302.4L925.5 304.0L927.3 305.6L929.1 307.2L930.9 308.8M942.5 319.7L944.2 321.4L945.9 323.0L947.7 324.7L949.4 326.4M961.2 338.0L962.9 339.7L964.6 341.4L966.3 343.1L968.0 344.8M979.8 356.6L981.5 358.3L983.2 359.9L985.0 361.6L986.7 363.3M998.4 374.6L1000.1 376.3L1001.9 377.9L1003.7 379.5L1005.4 381.2M1016.9 391.4L1018.7 392.9L1020.5 394.5L1022.4 396.0L1024.3 397.4M1035.6 406.4L1037.4 408.0L1039.2 409.6L1041.0 411.2L1042.7 412.9M1053.9 424.6L1055.6 426.3L1057.2 428.1L1058.9 429.8L1060.5 431.6M1070.9 443.1L1072.5 444.9L1074.1 446.7L1075.7 448.5L1077.3 450.3M1087.4 461.7L1088.9 463.5L1090.4 465.4L1091.9 467.2L1093.4 469.1M1101.8 480.3L1103.3 482.2L1104.8 484.0L1106.4 485.8L1108.1 487.5M1119.5 498.7L1121.2 500.5L1122.7 502.3L1124.2 504.2L1125.7 506.1M1133.5 517.1L1134.9 519.0L1136.3 521.0L1137.7 522.9L1139.1 524.9M1147.1 535.7L1148.5 537.7L1149.9 539.6L1151.3 541.6L1152.7 543.5M1160.4 554.3L1161.8 556.3L1163.1 558.3L1164.5 560.2L1165.9 562.2M1173.1 572.9L1174.4 574.9L1175.8 576.9L1177.1 578.9L1178.5 580.9M1186.0 591.6L1187.4 593.6L1188.7 595.6L1190.0 597.6L1191.3 599.6M1197.8 610.1L1199.0 612.2L1200.2 614.2L1201.5 616.3L1202.7 618.3M1208.7 628.7L1209.9 630.8L1211.1 632.9L1212.3 634.9L1213.5 637.0M1219.7 647.4L1220.9 649.4L1222.1 651.5L1223.3 653.6L1224.5 655.7M1230.0 665.9L1231.1 668.0L1232.2 670.2L1233.2 672.3L1234.3 674.5M1239.1 684.4L1239.6 685.3L1240.0 686.2L1240.4 687.1L1240.8 688.0"/>
</g>
</g>
<g stroke="#000" fill="none" stroke-linecap="butt">
<line x1="147.1" y1="21.1" x2="147.1" y2="851.8" stroke-width="4"/>
<line x1="1272.5" y1="21.1" x2="1272.5" y2="851.8" stroke-width="4"/>
<line x1="145.1" y1="22.5" x2="1274.3" y2="22.5" stroke-width="3"/>
<line x1="145.1" y1="849.8" x2="1274.3" y2="849.8" stroke-width="4"/>
<g stroke-width="3.5">
<line x1="177.9" y1="849.8" x2="177.9" y2="868.7"/>
<line x1="177.9" y1="22.5" x2="177.9" y2="41.0"/>
<line x1="240.4" y1="849.8" x2="240.4" y2="860.6"/>
<line x1="240.4" y1="22.5" x2="240.4" y2="32.0"/>
<line x1="303.0" y1="849.8" x2="303.0" y2="868.7"/>
<line x1="303.0" y1="22.5" x2="303.0" y2="41.0"/>
<line x1="365.5" y1="849.8" x2="365.5" y2="860.6"/>
<line x1="365.5" y1="22.5" x2="365.5" y2="32.0"/>
<line x1="428.0" y1="849.8" x2="428.0" y2="868.7"/>
<line x1="428.0" y1="22.5" x2="428.0" y2="41.0"/>
<line x1="490.5" y1="849.8" x2="490.5" y2="860.6"/>
<line x1="490.5" y1="22.5" x2="490.5" y2="32.0"/>
<line x1="553.1" y1="849.8" x2="553.1" y2="868.7"/>
<line x1="553.1" y1="22.5" x2="553.1" y2="41.0"/>
<line x1="615.6" y1="849.8" x2="615.6" y2="860.6"/>
<line x1="615.6" y1="22.5" x2="615.6" y2="32.0"/>
<line x1="678.1" y1="849.8" x2="678.1" y2="868.7"/>
<line x1="678.1" y1="22.5" x2="678.1" y2="41.0"/>
<line x1="740.6" y1="849.8" x2="740.6" y2="860.6"/>
<line x1="740.6" y1="22.5" x2="740.6" y2="32.0"/>
<line x1="803.1" y1="849.8" x2="803.1" y2="868.7"/>
<line x1="803.1" y1="22.5" x2="803.1" y2="41.0"/>
<line x1="865.7" y1="849.8" x2="865.7" y2="860.6"/>
<line x1="865.7" y1="22.5" x2="865.7" y2="32.0"/>
<line x1="928.2" y1="849.8" x2="928.2" y2="868.7"/>
<line x1="928.2" y1="22.5" x2="928.2" y2="41.0"/>
<line x1="990.7" y1="849.8" x2="990.7" y2="860.6"/>
<line x1="990.7" y1="22.5" x2="990.7" y2="32.0"/>
<line x1="1053.2" y1="849.8" x2="1053.2" y2="868.7"/>
<line x1="1053.2" y1="22.5" x2="1053.2" y2="41.0"/>
<line x1="1115.8" y1="849.8" x2="1115.8" y2="860.6"/>
<line x1="1115.8" y1="22.5" x2="1115.8" y2="32.0"/>
<line x1="1178.3" y1="849.8" x2="1178.3" y2="868.7"/>
<line x1="1178.3" y1="22.5" x2="1178.3" y2="41.0"/>
<line x1="1240.8" y1="849.8" x2="1240.8" y2="860.6"/>
<line x1="1240.8" y1="22.5" x2="1240.8" y2="32.0"/>
<line x1="137.0" y1="75.7" x2="147.1" y2="75.7"/>
<line x1="128.5" y1="161.7" x2="147.1" y2="161.7"/>
<line x1="137.0" y1="247.6" x2="147.1" y2="247.6"/>
<line x1="128.5" y1="333.6" x2="147.1" y2="333.6"/>
<line x1="137.0" y1="419.6" x2="147.1" y2="419.6"/>
<line x1="128.5" y1="505.5" x2="147.1" y2="505.5"/>
<line x1="137.0" y1="591.5" x2="147.1" y2="591.5"/>
<line x1="128.5" y1="677.4" x2="147.1" y2="677.4"/>
<line x1="137.0" y1="763.4" x2="147.1" y2="763.4"/>
<line x1="128.5" y1="849.3" x2="147.1" y2="849.3"/>
<line x1="1272.5" y1="22.5" x2="1291.3" y2="22.5"/>
<line x1="1272.5" y1="126.5" x2="1282.5" y2="126.5"/>
<line x1="1272.5" y1="229.8" x2="1291.3" y2="229.8"/>
<line x1="1272.5" y1="333.1" x2="1282.5" y2="333.1"/>
<line x1="1272.5" y1="436.4" x2="1291.3" y2="436.4"/>
<line x1="1272.5" y1="539.7" x2="1282.5" y2="539.7"/>
<line x1="1272.5" y1="643.0" x2="1291.3" y2="643.0"/>
<line x1="1272.5" y1="746.3" x2="1282.5" y2="746.3"/>
<line x1="1272.5" y1="849.8" x2="1291.3" y2="849.8"/>
</g>
</g>
<g stroke="#000" fill="none" stroke-width="1.1">
<path d="M566.5 45.0 L567.1 42.4 L567.8 40.1 L568.4 38.3 L569.1 36.8 L569.7 35.8 L570.4 35.2 L571.0 35.0 L571.7 35.2 L572.4 35.9 L573.0 37.0 L573.7 38.4 L574.3 40.3 L574.9 42.6 L575.5 45.3 L576.1 48.4 L576.7 51.8 L577.2 55.6 L577.7 59.7 L578.2 64.1 L578.7 68.8 L579.1 73.9 L579.5 79.1 L579.9 84.6 L580.2 90.4 L580.5 96.3 L580.7 102.4 L580.9 108.6 L581.1 114.9 L581.2 121.4 L581.3 127.9 L581.3 134.4 L581.3 140.9 L581.2 147.5 L581.1 153.9 L581.0 160.3 L580.8 166.6 L580.6 172.8 L580.4 178.9 L580.1 184.7 L579.7 190.4 L579.4 195.8 L579.0 201.0 L578.5 205.9 L578.0 210.5 L577.6 214.8 L577.0 218.8 L576.5 222.5 L575.9 225.8 L575.3 228.7 L574.7 231.2 L574.1 233.4 L573.4 235.1 L572.8 236.5 L572.1 237.4 L571.5 237.9 L570.8 238.0 L570.1 237.6 L569.5 236.9 L568.8 235.7 L568.2 234.1 L567.5 232.1 L566.9 229.7 L566.3 227.0 L565.7 223.8 L565.2 220.3 L564.7 216.4 L564.1 212.2 L563.7 207.7 L563.2 202.9 L562.8 197.8 L562.4 192.5 L562.1 186.9 L561.8 181.2 L561.5 175.2 L561.2 169.1 L561.1 162.8 L560.9 156.5 L560.8 150.0 L560.7 143.5"/>
<path d="M533.8 636.5 L533.2 641.4 L532.6 646.0 L531.9 650.2 L531.2 654.0 L530.5 657.5 L529.8 660.5 L529.1 663.2 L528.3 665.4 L527.6 667.2 L526.8 668.6 L526.0 669.6 L525.2 670.1 L524.5 670.2 L523.7 669.8 L522.9 669.0 L522.1 667.8 L521.4 666.2 L520.6 664.1 L519.9 661.6 L519.1 658.7 L518.4 655.4 L517.7 651.7 L517.1 647.7 L516.4 643.2 L515.8 638.5 L515.2 633.4 L514.7 627.9 L514.2 622.2 L513.7 616.2 L513.2 609.9 L512.8 603.4 L512.5 596.7 L512.1 589.8 L511.8 582.7 L511.6 575.5 L511.4 568.1 L511.2 560.7 L511.1 553.1 L511.0 545.5 L511.0 537.9 L511.0 530.3 L511.1 522.7 L511.2 515.1 L511.3 507.6 L511.5 500.2 L511.8 493.0 L512.1 485.8 L512.4 478.9 L512.7 472.1 L513.1 465.5 L513.6 459.2 L514.1 453.2 L514.6 447.4 L515.1 441.9 L515.7 436.7 L516.3 431.8 L516.9 427.3 L517.6 423.2 L518.3 419.4 L519.0 416.0 L519.7 413.0 L520.4 410.4 L521.2 408.3 L521.9 406.5 L522.7 405.2 L523.5 404.3 L524.3 403.9 L525.1 403.8 L525.8 404.3 L526.6 405.1 L527.4 406.4 L528.2 408.1 L528.9 410.3 L529.7 412.8 L530.4 415.8 L531.1 419.1 L531.8 422.9 L532.4 427.0 L533.1 431.5"/>
</g>
<g stroke="#000" stroke-width="1.8" fill="none">
<line x1="578.4" y1="210.8" x2="620" y2="210.8"/>
<line x1="516" y1="437.6" x2="420" y2="437.6"/>
</g>
<polygon fill="#000" points="786.4,49.2 788.2,53.8 790.0,58.4 791.7,63.0 793.3,67.6 794.8,72.2 796.3,76.9 797.6,81.6 798.9,86.3 800.3,91.0 801.6,95.8 802.8,100.5 803.9,105.3 804.7,110.1 805.2,114.9 805.7,119.7 806.0,124.6 806.3,129.5 806.6,134.4 806.7,139.3 806.6,144.2 806.6,149.1 806.5,154.0 806.4,158.9 806.3,163.8 806.1,168.7 806.0,173.6 805.7,178.4 805.0,183.2 804.2,188.0 803.1,192.8 801.9,197.5 800.7,202.3 799.4,207.0 798.0,211.6 796.4,216.2 794.7,220.8 792.8,225.3 790.7,229.6 788.3,233.8 790.7,235.2 793.1,230.8 795.2,226.3 797.1,221.7 798.8,217.1 800.4,212.4 801.8,207.6 803.0,202.9 804.2,198.1 805.4,193.3 806.4,188.4 807.3,183.5 807.9,178.6 808.1,173.7 808.2,168.8 808.4,163.9 808.4,159.0 808.5,154.0 808.5,149.1 808.6,144.2 808.5,139.3 808.4,134.3 808.1,129.4 807.8,124.5 807.4,119.6 806.9,114.7 806.3,109.9 805.4,105.0 804.3,100.2 803.0,95.4 801.7,90.6 800.3,85.9 799.0,81.2 797.6,76.5 796.1,71.8 794.5,67.2 792.8,62.6 791.1,57.9 789.3,53.4 787.4,48.8"/>
<g fill="#000">
<polygon points="638,210.8 615.5,205.6 615.5,216"/>
<polygon points="402.6,437.6 424.5,432.4 424.5,442.8"/>
<polygon points="780.0,244.4 786.4,223.4 797.9,229.8"/>
</g>
<line x1="531" y1="720.6" x2="627.8" y2="720.6" stroke="#000" stroke-width="4.6"/>
<rect x="574.3" y="716.1" width="9.4" height="9.4" fill="#fff" stroke="#000" stroke-width="1"/>
<line x1="531" y1="769.7" x2="620" y2="769.7" stroke="#00f" stroke-width="4.8" stroke-dasharray="11 7.7"/>
<g font-family="'Liberation Sans', Arial, sans-serif" font-size="40" fill="#000" stroke="#000" stroke-width="0.25">
<g font-size="41">
<text x="176.9" y="910.2" text-anchor="middle">0</text>
<text x="302.0" y="910.2" text-anchor="middle">20</text>
<text x="427.0" y="910.2" text-anchor="middle">40</text>
<text x="552.1" y="910.2" text-anchor="middle">60</text>
<text x="677.1" y="910.2" text-anchor="middle">80</text>
<text x="802.1" y="910.2" text-anchor="middle">100</text>
<text x="927.2" y="910.2" text-anchor="middle">120</text>
<text x="1052.2" y="910.2" text-anchor="middle">140</text>
<text x="1177.3" y="910.2" text-anchor="middle">160</text>
<text x="117.6" y="171.7" text-anchor="end">0</text>
<text x="117.6" y="344.0" text-anchor="end">-5</text>
<text x="117.6" y="516.4" text-anchor="end">-10</text>
<text x="117.6" y="688.8" text-anchor="end">-15</text>
<text x="117.6" y="861.1" text-anchor="end">-20</text>
<text x="1300.3" y="32.4">0</text>
<text x="1300.3" y="240.2">-2</text>
<text x="1300.3" y="446.3">-4</text>
<text x="1300.3" y="653.0">-6</text>
<text x="1300.3" y="860.0">-8</text>
</g>
<text x="709.5" y="966.7" text-anchor="middle" letter-spacing="0.5">Frequency (GHz)</text>
<text transform="translate(33,462) rotate(-90)" text-anchor="middle" letter-spacing="0.35">Reflection (dB)</text>
<text transform="translate(1368,462) rotate(90)" text-anchor="middle" letter-spacing="0.5">Transmission (dB)</text>
<text x="636.7" y="733.9" letter-spacing="0.55">Differential interconnect</text>
<text x="636.5" y="783.6" letter-spacing="0.6">Single-ended interconnect</text>
</g>
</svg>
</body></html>
